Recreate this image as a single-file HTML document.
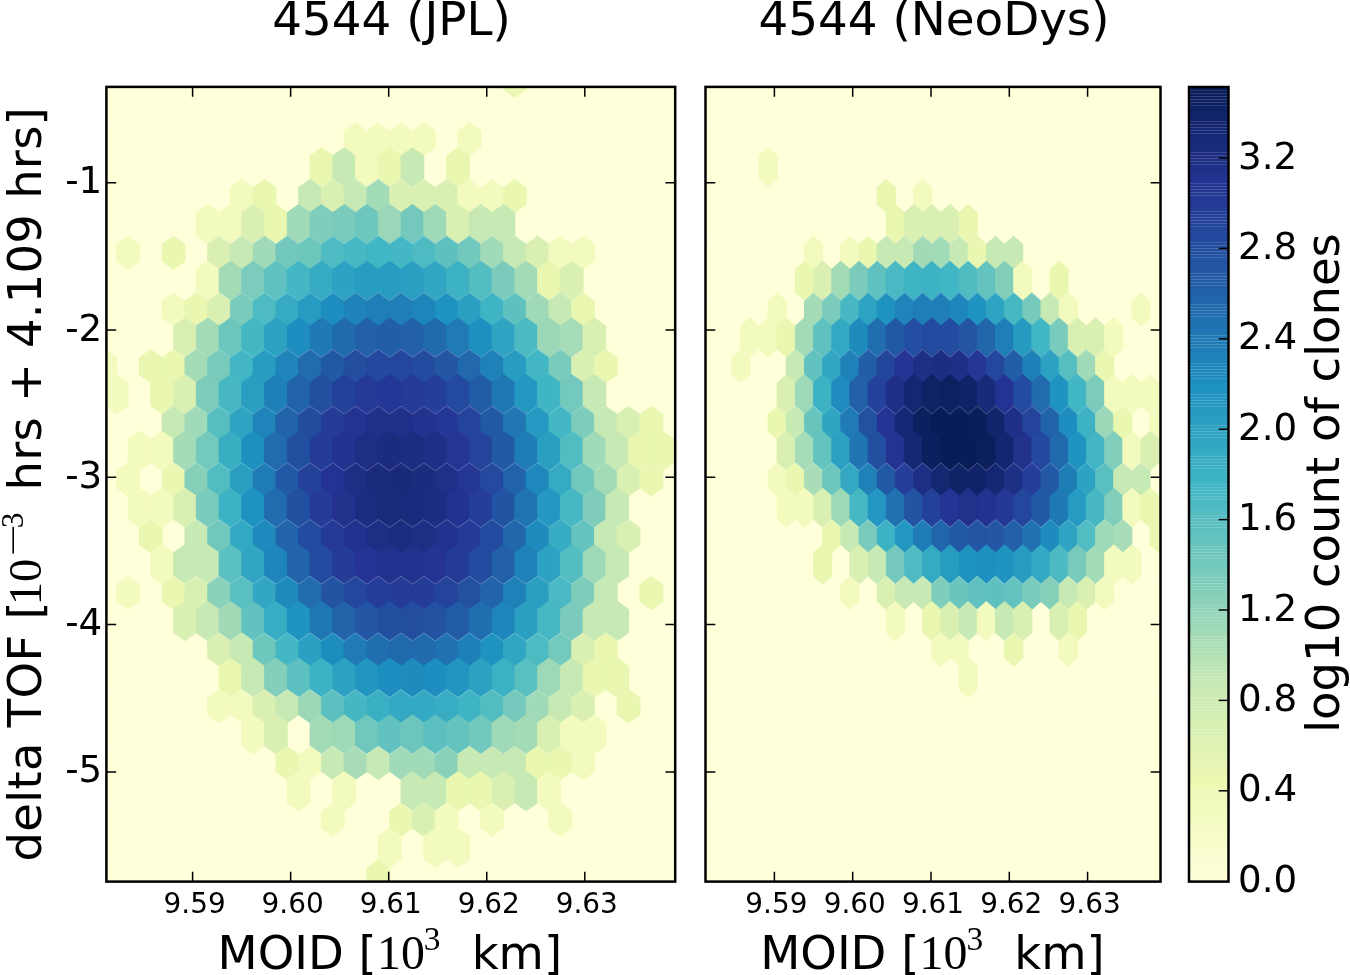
<!DOCTYPE html>
<html><head><meta charset="utf-8"><title>4544</title><style>html,body{margin:0;padding:0;background:#fff}svg{display:block}</style></head><body>
<svg width="1350" height="975" viewBox="0 0 1350 975" font-family="'DejaVu Sans','Liberation Sans',sans-serif" fill="#000">
<rect width="1350" height="975" fill="#fff"/>
<clipPath id="cL"><rect x="106.40" y="86.90" width="568.80" height="794.70"/></clipPath>
<rect x="106.40" y="86.90" width="568.80" height="794.70" fill="#ffffd9"/>
<g clip-path="url(#cL)" stroke-linejoin="round">
<defs><g id="hxL">
<path d="M514.80 64.00 L526.17 72.00 L526.17 89.20 L514.80 97.20 L503.42 89.20 L503.42 72.00Z" fill="#e9f7b1" stroke="#e9f7b1"/>
<path d="M355.55 122.60 L366.93 130.60 L366.93 147.80 L355.55 155.80 L344.18 147.80 L344.18 130.60Z" fill="#f3fabe" stroke="#f3fabe"/>
<path d="M378.30 122.60 L389.68 130.60 L389.68 147.80 L378.30 155.80 L366.93 147.80 L366.93 130.60Z" fill="#f3fabe" stroke="#f3fabe"/>
<path d="M401.05 122.60 L412.43 130.60 L412.43 147.80 L401.05 155.80 L389.68 147.80 L389.68 130.60Z" fill="#f3fabe" stroke="#f3fabe"/>
<path d="M423.80 122.60 L435.18 130.60 L435.18 147.80 L423.80 155.80 L412.43 147.80 L412.43 130.60Z" fill="#f3fabe" stroke="#f3fabe"/>
<path d="M469.30 122.60 L480.68 130.60 L480.68 147.80 L469.30 155.80 L457.93 147.80 L457.93 130.60Z" fill="#f3fabe" stroke="#f3fabe"/>
<path d="M321.43 147.80 L332.80 155.80 L332.80 179.30 L321.43 187.30 L310.05 179.30 L310.05 155.80Z" fill="#e9f7b1" stroke="#e9f7b1"/>
<path d="M344.18 147.80 L355.55 155.80 L355.55 179.30 L344.18 187.30 L332.80 179.30 L332.80 155.80Z" fill="#c7e9b4" stroke="#c7e9b4"/>
<path d="M366.93 147.80 L378.30 155.80 L378.30 179.30 L366.93 187.30 L355.55 179.30 L355.55 155.80Z" fill="#f3fabe" stroke="#f3fabe"/>
<path d="M389.68 147.80 L401.05 155.80 L401.05 179.30 L389.68 187.30 L378.30 179.30 L378.30 155.80Z" fill="#e9f7b1" stroke="#e9f7b1"/>
<path d="M412.43 147.80 L423.80 155.80 L423.80 179.30 L412.43 187.30 L401.05 179.30 L401.05 155.80Z" fill="#c7e9b4" stroke="#c7e9b4"/>
<path d="M457.93 147.80 L469.30 155.80 L469.30 179.30 L457.93 187.30 L446.55 179.30 L446.55 155.80Z" fill="#e9f7b1" stroke="#e9f7b1"/>
<path d="M241.80 179.30 L253.18 187.30 L253.18 204.50 L241.80 212.50 L230.43 204.50 L230.43 187.30Z" fill="#f3fabe" stroke="#f3fabe"/>
<path d="M264.55 179.30 L275.93 187.30 L275.93 204.50 L264.55 212.50 L253.18 204.50 L253.18 187.30Z" fill="#e9f7b1" stroke="#e9f7b1"/>
<path d="M310.05 179.30 L321.43 187.30 L321.43 204.50 L310.05 212.50 L298.68 204.50 L298.68 187.30Z" fill="#c7e9b4" stroke="#c7e9b4"/>
<path d="M332.80 179.30 L344.18 187.30 L344.18 204.50 L332.80 212.50 L321.43 204.50 L321.43 187.30Z" fill="#daf0b3" stroke="#daf0b3"/>
<path d="M355.55 179.30 L366.93 187.30 L366.93 204.50 L355.55 212.50 L344.18 204.50 L344.18 187.30Z" fill="#c7e9b4" stroke="#c7e9b4"/>
<path d="M378.30 179.30 L389.68 187.30 L389.68 204.50 L378.30 212.50 L366.93 204.50 L366.93 187.30Z" fill="#a2dbb8" stroke="#a2dbb8"/>
<path d="M401.05 179.30 L412.43 187.30 L412.43 204.50 L401.05 212.50 L389.68 204.50 L389.68 187.30Z" fill="#daf0b3" stroke="#daf0b3"/>
<path d="M423.80 179.30 L435.18 187.30 L435.18 204.50 L423.80 212.50 L412.43 204.50 L412.43 187.30Z" fill="#daf0b3" stroke="#daf0b3"/>
<path d="M446.55 179.30 L457.93 187.30 L457.93 204.50 L446.55 212.50 L435.18 204.50 L435.18 187.30Z" fill="#daf0b3" stroke="#daf0b3"/>
<path d="M469.30 179.30 L480.68 187.30 L480.68 204.50 L469.30 212.50 L457.93 204.50 L457.93 187.30Z" fill="#f3fabe" stroke="#f3fabe"/>
<path d="M492.05 179.30 L503.43 187.30 L503.43 204.50 L492.05 212.50 L480.68 204.50 L480.68 187.30Z" fill="#f3fabe" stroke="#f3fabe"/>
<path d="M514.80 179.30 L526.17 187.30 L526.17 204.50 L514.80 212.50 L503.42 204.50 L503.42 187.30Z" fill="#e9f7b1" stroke="#e9f7b1"/>
<path d="M207.68 204.50 L219.05 212.50 L219.05 236.00 L207.68 244.00 L196.30 236.00 L196.30 212.50Z" fill="#f3fabe" stroke="#f3fabe"/>
<path d="M230.43 204.50 L241.80 212.50 L241.80 236.00 L230.43 244.00 L219.05 236.00 L219.05 212.50Z" fill="#f3fabe" stroke="#f3fabe"/>
<path d="M253.18 204.50 L264.55 212.50 L264.55 236.00 L253.18 244.00 L241.80 236.00 L241.80 212.50Z" fill="#daf0b3" stroke="#daf0b3"/>
<path d="M275.93 204.50 L287.30 212.50 L287.30 236.00 L275.93 244.00 L264.55 236.00 L264.55 212.50Z" fill="#e9f7b1" stroke="#e9f7b1"/>
<path d="M298.68 204.50 L310.05 212.50 L310.05 236.00 L298.68 244.00 L287.30 236.00 L287.30 212.50Z" fill="#a0dab8" stroke="#a0dab8"/>
<path d="M321.43 204.50 L332.80 212.50 L332.80 236.00 L321.43 244.00 L310.05 236.00 L310.05 212.50Z" fill="#7fcdbb" stroke="#7fcdbb"/>
<path d="M344.18 204.50 L355.55 212.50 L355.55 236.00 L344.18 244.00 L332.80 236.00 L332.80 212.50Z" fill="#79cbbc" stroke="#79cbbc"/>
<path d="M366.93 204.50 L378.30 212.50 L378.30 236.00 L366.93 244.00 L355.55 236.00 L355.55 212.50Z" fill="#6ec7be" stroke="#6ec7be"/>
<path d="M389.68 204.50 L401.05 212.50 L401.05 236.00 L389.68 244.00 L378.30 236.00 L378.30 212.50Z" fill="#9ad7b8" stroke="#9ad7b8"/>
<path d="M412.43 204.50 L423.80 212.50 L423.80 236.00 L412.43 244.00 L401.05 236.00 L401.05 212.50Z" fill="#75c9bc" stroke="#75c9bc"/>
<path d="M435.18 204.50 L446.55 212.50 L446.55 236.00 L435.18 244.00 L423.80 236.00 L423.80 212.50Z" fill="#9ed9b8" stroke="#9ed9b8"/>
<path d="M457.93 204.50 L469.30 212.50 L469.30 236.00 L457.93 244.00 L446.55 236.00 L446.55 212.50Z" fill="#daf0b3" stroke="#daf0b3"/>
<path d="M480.68 204.50 L492.05 212.50 L492.05 236.00 L480.68 244.00 L469.30 236.00 L469.30 212.50Z" fill="#c7e9b4" stroke="#c7e9b4"/>
<path d="M503.43 204.50 L514.80 212.50 L514.80 236.00 L503.43 244.00 L492.05 236.00 L492.05 212.50Z" fill="#c7e9b4" stroke="#c7e9b4"/>
<path d="M128.05 236.00 L139.43 244.00 L139.43 261.20 L128.05 269.20 L116.68 261.20 L116.68 244.00Z" fill="#f3fabe" stroke="#f3fabe"/>
<path d="M173.55 236.00 L184.93 244.00 L184.93 261.20 L173.55 269.20 L162.18 261.20 L162.18 244.00Z" fill="#e9f7b1" stroke="#e9f7b1"/>
<path d="M219.05 236.00 L230.43 244.00 L230.43 261.20 L219.05 269.20 L207.68 261.20 L207.68 244.00Z" fill="#daf0b3" stroke="#daf0b3"/>
<path d="M241.80 236.00 L253.18 244.00 L253.18 261.20 L241.80 269.20 L230.43 261.20 L230.43 244.00Z" fill="#c7e9b4" stroke="#c7e9b4"/>
<path d="M264.55 236.00 L275.93 244.00 L275.93 261.20 L264.55 269.20 L253.18 261.20 L253.18 244.00Z" fill="#a0dab8" stroke="#a0dab8"/>
<path d="M287.30 236.00 L298.68 244.00 L298.68 261.20 L287.30 269.20 L275.93 261.20 L275.93 244.00Z" fill="#73c8bd" stroke="#73c8bd"/>
<path d="M310.05 236.00 L321.43 244.00 L321.43 261.20 L310.05 269.20 L298.68 261.20 L298.68 244.00Z" fill="#6ec7bd" stroke="#6ec7bd"/>
<path d="M332.80 236.00 L344.18 244.00 L344.18 261.20 L332.80 269.20 L321.43 261.20 L321.43 244.00Z" fill="#4fbbc2" stroke="#4fbbc2"/>
<path d="M355.55 236.00 L366.93 244.00 L366.93 261.20 L355.55 269.20 L344.18 261.20 L344.18 244.00Z" fill="#45b8c3" stroke="#45b8c3"/>
<path d="M378.30 236.00 L389.68 244.00 L389.68 261.20 L378.30 269.20 L366.93 261.20 L366.93 244.00Z" fill="#41b6c4" stroke="#41b6c4"/>
<path d="M401.05 236.00 L412.43 244.00 L412.43 261.20 L401.05 269.20 L389.68 261.20 L389.68 244.00Z" fill="#44b7c4" stroke="#44b7c4"/>
<path d="M423.80 236.00 L435.18 244.00 L435.18 261.20 L423.80 269.20 L412.43 261.20 L412.43 244.00Z" fill="#4ebbc2" stroke="#4ebbc2"/>
<path d="M446.55 236.00 L457.93 244.00 L457.93 261.20 L446.55 269.20 L435.18 261.20 L435.18 244.00Z" fill="#5ec1c0" stroke="#5ec1c0"/>
<path d="M469.30 236.00 L480.68 244.00 L480.68 261.20 L469.30 269.20 L457.93 261.20 L457.93 244.00Z" fill="#73c8bd" stroke="#73c8bd"/>
<path d="M492.05 236.00 L503.43 244.00 L503.43 261.20 L492.05 269.20 L480.68 261.20 L480.68 244.00Z" fill="#a0dab8" stroke="#a0dab8"/>
<path d="M514.80 236.00 L526.17 244.00 L526.17 261.20 L514.80 269.20 L503.42 261.20 L503.42 244.00Z" fill="#c7e9b4" stroke="#c7e9b4"/>
<path d="M537.55 236.00 L548.92 244.00 L548.92 261.20 L537.55 269.20 L526.17 261.20 L526.17 244.00Z" fill="#daf0b3" stroke="#daf0b3"/>
<path d="M560.30 236.00 L571.67 244.00 L571.67 261.20 L560.30 269.20 L548.92 261.20 L548.92 244.00Z" fill="#f3fabe" stroke="#f3fabe"/>
<path d="M583.05 236.00 L594.42 244.00 L594.42 261.20 L583.05 269.20 L571.67 261.20 L571.67 244.00Z" fill="#f3fabe" stroke="#f3fabe"/>
<path d="M207.68 261.20 L219.05 269.20 L219.05 292.70 L207.68 300.70 L196.30 292.70 L196.30 269.20Z" fill="#f3fabe" stroke="#f3fabe"/>
<path d="M230.43 261.20 L241.80 269.20 L241.80 292.70 L230.43 300.70 L219.05 292.70 L219.05 269.20Z" fill="#a4dbb7" stroke="#a4dbb7"/>
<path d="M253.18 261.20 L264.55 269.20 L264.55 292.70 L253.18 300.70 L241.80 292.70 L241.80 269.20Z" fill="#7bccbc" stroke="#7bccbc"/>
<path d="M275.93 261.20 L287.30 269.20 L287.30 292.70 L275.93 300.70 L264.55 292.70 L264.55 269.20Z" fill="#5fc1c0" stroke="#5fc1c0"/>
<path d="M298.68 261.20 L310.05 269.20 L310.05 292.70 L298.68 300.70 L287.30 292.70 L287.30 269.20Z" fill="#44b7c4" stroke="#44b7c4"/>
<path d="M321.43 261.20 L332.80 269.20 L332.80 292.70 L321.43 300.70 L310.05 292.70 L310.05 269.20Z" fill="#36abc3" stroke="#36abc3"/>
<path d="M344.18 261.20 L355.55 269.20 L355.55 292.70 L344.18 300.70 L332.80 292.70 L332.80 269.20Z" fill="#2ea2c2" stroke="#2ea2c2"/>
<path d="M366.93 261.20 L378.30 269.20 L378.30 292.70 L366.93 300.70 L355.55 292.70 L355.55 269.20Z" fill="#299dc1" stroke="#299dc1"/>
<path d="M389.68 261.20 L401.05 269.20 L401.05 292.70 L389.68 300.70 L378.30 292.70 L378.30 269.20Z" fill="#289cc1" stroke="#289cc1"/>
<path d="M412.43 261.20 L423.80 269.20 L423.80 292.70 L412.43 300.70 L401.05 292.70 L401.05 269.20Z" fill="#2b9fc2" stroke="#2b9fc2"/>
<path d="M435.18 261.20 L446.55 269.20 L446.55 292.70 L435.18 300.70 L423.80 292.70 L423.80 269.20Z" fill="#32a6c2" stroke="#32a6c2"/>
<path d="M457.93 261.20 L469.30 269.20 L469.30 292.70 L457.93 300.70 L446.55 292.70 L446.55 269.20Z" fill="#3db2c4" stroke="#3db2c4"/>
<path d="M480.68 261.20 L492.05 269.20 L492.05 292.70 L480.68 300.70 L469.30 292.70 L469.30 269.20Z" fill="#54bdc1" stroke="#54bdc1"/>
<path d="M503.43 261.20 L514.80 269.20 L514.80 292.70 L503.43 300.70 L492.05 292.70 L492.05 269.20Z" fill="#7acbbc" stroke="#7acbbc"/>
<path d="M526.17 261.20 L537.55 269.20 L537.55 292.70 L526.17 300.70 L514.80 292.70 L514.80 269.20Z" fill="#a3dbb8" stroke="#a3dbb8"/>
<path d="M548.92 261.20 L560.30 269.20 L560.30 292.70 L548.92 300.70 L537.55 292.70 L537.55 269.20Z" fill="#e9f7b1" stroke="#e9f7b1"/>
<path d="M571.67 261.20 L583.05 269.20 L583.05 292.70 L571.67 300.70 L560.30 292.70 L560.30 269.20Z" fill="#daf0b3" stroke="#daf0b3"/>
<path d="M173.55 292.70 L184.93 300.70 L184.93 317.90 L173.55 325.90 L162.18 317.90 L162.18 300.70Z" fill="#f3fabe" stroke="#f3fabe"/>
<path d="M196.30 292.70 L207.68 300.70 L207.68 317.90 L196.30 325.90 L184.93 317.90 L184.93 300.70Z" fill="#e9f7b1" stroke="#e9f7b1"/>
<path d="M219.05 292.70 L230.43 300.70 L230.43 317.90 L219.05 325.90 L207.68 317.90 L207.68 300.70Z" fill="#daf0b3" stroke="#daf0b3"/>
<path d="M241.80 292.70 L253.18 300.70 L253.18 317.90 L241.80 325.90 L230.43 317.90 L230.43 300.70Z" fill="#79cbbc" stroke="#79cbbc"/>
<path d="M264.55 292.70 L275.93 300.70 L275.93 317.90 L264.55 325.90 L253.18 317.90 L253.18 300.70Z" fill="#4ebbc2" stroke="#4ebbc2"/>
<path d="M287.30 292.70 L298.68 300.70 L298.68 317.90 L287.30 325.90 L275.93 317.90 L275.93 300.70Z" fill="#36abc3" stroke="#36abc3"/>
<path d="M310.05 292.70 L321.43 300.70 L321.43 317.90 L310.05 325.90 L298.68 317.90 L298.68 300.70Z" fill="#279bc1" stroke="#279bc1"/>
<path d="M332.80 292.70 L344.18 300.70 L344.18 317.90 L332.80 325.90 L321.43 317.90 L321.43 300.70Z" fill="#1d8ebf" stroke="#1d8ebf"/>
<path d="M355.55 292.70 L366.93 300.70 L366.93 317.90 L355.55 325.90 L344.18 317.90 L344.18 300.70Z" fill="#1e83b9" stroke="#1e83b9"/>
<path d="M378.30 292.70 L389.68 300.70 L389.68 317.90 L378.30 325.90 L366.93 317.90 L366.93 300.70Z" fill="#1f7eb7" stroke="#1f7eb7"/>
<path d="M401.05 292.70 L412.43 300.70 L412.43 317.90 L401.05 325.90 L389.68 317.90 L389.68 300.70Z" fill="#1f7eb7" stroke="#1f7eb7"/>
<path d="M423.80 292.70 L435.18 300.70 L435.18 317.90 L423.80 325.90 L412.43 317.90 L412.43 300.70Z" fill="#1e85ba" stroke="#1e85ba"/>
<path d="M446.55 292.70 L457.93 300.70 L457.93 317.90 L446.55 325.90 L435.18 317.90 L435.18 300.70Z" fill="#1e92c0" stroke="#1e92c0"/>
<path d="M469.30 292.70 L480.68 300.70 L480.68 317.90 L469.30 325.90 L457.93 317.90 L457.93 300.70Z" fill="#2b9fc2" stroke="#2b9fc2"/>
<path d="M492.05 292.70 L503.43 300.70 L503.43 317.90 L492.05 325.90 L480.68 317.90 L480.68 300.70Z" fill="#3fb4c4" stroke="#3fb4c4"/>
<path d="M514.80 292.70 L526.17 300.70 L526.17 317.90 L514.80 325.90 L503.42 317.90 L503.42 300.70Z" fill="#5ec1c0" stroke="#5ec1c0"/>
<path d="M537.55 292.70 L548.92 300.70 L548.92 317.90 L537.55 325.90 L526.17 317.90 L526.17 300.70Z" fill="#9fd9b8" stroke="#9fd9b8"/>
<path d="M560.30 292.70 L571.67 300.70 L571.67 317.90 L560.30 325.90 L548.92 317.90 L548.92 300.70Z" fill="#c7e9b4" stroke="#c7e9b4"/>
<path d="M583.05 292.70 L594.42 300.70 L594.42 317.90 L583.05 325.90 L571.67 317.90 L571.67 300.70Z" fill="#e9f7b1" stroke="#e9f7b1"/>
<path d="M184.93 317.90 L196.30 325.90 L196.30 349.40 L184.93 357.40 L173.55 349.40 L173.55 325.90Z" fill="#daf0b3" stroke="#daf0b3"/>
<path d="M207.68 317.90 L219.05 325.90 L219.05 349.40 L207.68 357.40 L196.30 349.40 L196.30 325.90Z" fill="#a3dbb8" stroke="#a3dbb8"/>
<path d="M230.43 317.90 L241.80 325.90 L241.80 349.40 L230.43 357.40 L219.05 349.40 L219.05 325.90Z" fill="#6dc6be" stroke="#6dc6be"/>
<path d="M253.18 317.90 L264.55 325.90 L264.55 349.40 L253.18 357.40 L241.80 349.40 L241.80 325.90Z" fill="#44b7c3" stroke="#44b7c3"/>
<path d="M275.93 317.90 L287.30 325.90 L287.30 349.40 L275.93 357.40 L264.55 349.40 L264.55 325.90Z" fill="#2da2c2" stroke="#2da2c2"/>
<path d="M298.68 317.90 L310.05 325.90 L310.05 349.40 L298.68 357.40 L287.30 349.40 L287.30 325.90Z" fill="#1d8ebf" stroke="#1d8ebf"/>
<path d="M321.43 317.90 L332.80 325.90 L332.80 349.40 L321.43 357.40 L310.05 349.40 L310.05 325.90Z" fill="#1f79b5" stroke="#1f79b5"/>
<path d="M344.18 317.90 L355.55 325.90 L355.55 349.40 L344.18 357.40 L332.80 349.40 L332.80 325.90Z" fill="#216aae" stroke="#216aae"/>
<path d="M366.93 317.90 L378.30 325.90 L378.30 349.40 L366.93 357.40 L355.55 349.40 L355.55 325.90Z" fill="#2261a9" stroke="#2261a9"/>
<path d="M389.68 317.90 L401.05 325.90 L401.05 349.40 L389.68 357.40 L378.30 349.40 L378.30 325.90Z" fill="#225ea8" stroke="#225ea8"/>
<path d="M412.43 317.90 L423.80 325.90 L423.80 349.40 L412.43 357.40 L401.05 349.40 L401.05 325.90Z" fill="#2261a9" stroke="#2261a9"/>
<path d="M435.18 317.90 L446.55 325.90 L446.55 349.40 L435.18 357.40 L423.80 349.40 L423.80 325.90Z" fill="#216aae" stroke="#216aae"/>
<path d="M457.93 317.90 L469.30 325.90 L469.30 349.40 L457.93 357.40 L446.55 349.40 L446.55 325.90Z" fill="#1f7ab5" stroke="#1f7ab5"/>
<path d="M480.68 317.90 L492.05 325.90 L492.05 349.40 L480.68 357.40 L469.30 349.40 L469.30 325.90Z" fill="#1d90c0" stroke="#1d90c0"/>
<path d="M503.43 317.90 L514.80 325.90 L514.80 349.40 L503.43 357.40 L492.05 349.40 L492.05 325.90Z" fill="#30a4c2" stroke="#30a4c2"/>
<path d="M526.17 317.90 L537.55 325.90 L537.55 349.40 L526.17 357.40 L514.80 349.40 L514.80 325.90Z" fill="#4cbac2" stroke="#4cbac2"/>
<path d="M548.92 317.90 L560.30 325.90 L560.30 349.40 L548.92 357.40 L537.55 349.40 L537.55 325.90Z" fill="#9cd8b8" stroke="#9cd8b8"/>
<path d="M571.67 317.90 L583.05 325.90 L583.05 349.40 L571.67 357.40 L560.30 349.40 L560.30 325.90Z" fill="#a6dcb7" stroke="#a6dcb7"/>
<path d="M594.42 317.90 L605.80 325.90 L605.80 349.40 L594.42 357.40 L583.05 349.40 L583.05 325.90Z" fill="#daf0b3" stroke="#daf0b3"/>
<path d="M105.30 349.40 L116.68 357.40 L116.68 374.60 L105.30 382.60 L93.93 374.60 L93.93 357.40Z" fill="#f3fabe" stroke="#f3fabe"/>
<path d="M150.80 349.40 L162.18 357.40 L162.18 374.60 L150.80 382.60 L139.43 374.60 L139.43 357.40Z" fill="#e9f7b1" stroke="#e9f7b1"/>
<path d="M173.55 349.40 L184.93 357.40 L184.93 374.60 L173.55 382.60 L162.18 374.60 L162.18 357.40Z" fill="#e9f7b1" stroke="#e9f7b1"/>
<path d="M196.30 349.40 L207.68 357.40 L207.68 374.60 L196.30 382.60 L184.93 374.60 L184.93 357.40Z" fill="#a4dbb7" stroke="#a4dbb7"/>
<path d="M219.05 349.40 L230.43 357.40 L230.43 374.60 L219.05 382.60 L207.68 374.60 L207.68 357.40Z" fill="#77cabc" stroke="#77cabc"/>
<path d="M241.80 349.40 L253.18 357.40 L253.18 374.60 L241.80 382.60 L230.43 374.60 L230.43 357.40Z" fill="#42b6c4" stroke="#42b6c4"/>
<path d="M264.55 349.40 L275.93 357.40 L275.93 374.60 L264.55 382.60 L253.18 374.60 L253.18 357.40Z" fill="#299dc1" stroke="#299dc1"/>
<path d="M287.30 349.40 L298.68 357.40 L298.68 374.60 L287.30 382.60 L275.93 374.60 L275.93 357.40Z" fill="#1e84ba" stroke="#1e84ba"/>
<path d="M310.05 349.40 L321.43 357.40 L321.43 374.60 L310.05 382.60 L298.68 374.60 L298.68 357.40Z" fill="#216bae" stroke="#216bae"/>
<path d="M332.80 349.40 L344.18 357.40 L344.18 374.60 L332.80 382.60 L321.43 374.60 L321.43 357.40Z" fill="#2259a5" stroke="#2259a5"/>
<path d="M355.55 349.40 L366.93 357.40 L366.93 374.60 L355.55 382.60 L344.18 374.60 L344.18 357.40Z" fill="#234ea0" stroke="#234ea0"/>
<path d="M378.30 349.40 L389.68 357.40 L389.68 374.60 L378.30 382.60 L366.93 374.60 L366.93 357.40Z" fill="#24489d" stroke="#24489d"/>
<path d="M401.05 349.40 L412.43 357.40 L412.43 374.60 L401.05 382.60 L389.68 374.60 L389.68 357.40Z" fill="#24479d" stroke="#24479d"/>
<path d="M423.80 349.40 L435.18 357.40 L435.18 374.60 L423.80 382.60 L412.43 374.60 L412.43 357.40Z" fill="#234ca0" stroke="#234ca0"/>
<path d="M446.55 349.40 L457.93 357.40 L457.93 374.60 L446.55 382.60 L435.18 374.60 L435.18 357.40Z" fill="#2357a4" stroke="#2357a4"/>
<path d="M469.30 349.40 L480.68 357.40 L480.68 374.60 L469.30 382.60 L457.93 374.60 L457.93 357.40Z" fill="#2168ad" stroke="#2168ad"/>
<path d="M492.05 349.40 L503.43 357.40 L503.43 374.60 L492.05 382.60 L480.68 374.60 L480.68 357.40Z" fill="#1f81b8" stroke="#1f81b8"/>
<path d="M514.80 349.40 L526.17 357.40 L526.17 374.60 L514.80 382.60 L503.42 374.60 L503.42 357.40Z" fill="#289cc1" stroke="#289cc1"/>
<path d="M537.55 349.40 L548.92 357.40 L548.92 374.60 L537.55 382.60 L526.17 374.60 L526.17 357.40Z" fill="#42b6c4" stroke="#42b6c4"/>
<path d="M560.30 349.40 L571.67 357.40 L571.67 374.60 L560.30 382.60 L548.92 374.60 L548.92 357.40Z" fill="#79cbbc" stroke="#79cbbc"/>
<path d="M583.05 349.40 L594.42 357.40 L594.42 374.60 L583.05 382.60 L571.67 374.60 L571.67 357.40Z" fill="#daf0b3" stroke="#daf0b3"/>
<path d="M605.80 349.40 L617.17 357.40 L617.17 374.60 L605.80 382.60 L594.42 374.60 L594.42 357.40Z" fill="#e9f7b1" stroke="#e9f7b1"/>
<path d="M116.68 374.60 L128.05 382.60 L128.05 406.10 L116.68 414.10 L105.30 406.10 L105.30 382.60Z" fill="#f3fabe" stroke="#f3fabe"/>
<path d="M162.18 374.60 L173.55 382.60 L173.55 406.10 L162.18 414.10 L150.80 406.10 L150.80 382.60Z" fill="#e9f7b1" stroke="#e9f7b1"/>
<path d="M184.93 374.60 L196.30 382.60 L196.30 406.10 L184.93 414.10 L173.55 406.10 L173.55 382.60Z" fill="#daf0b3" stroke="#daf0b3"/>
<path d="M207.68 374.60 L219.05 382.60 L219.05 406.10 L207.68 414.10 L196.30 406.10 L196.30 382.60Z" fill="#7dccbb" stroke="#7dccbb"/>
<path d="M230.43 374.60 L241.80 382.60 L241.80 406.10 L230.43 414.10 L219.05 406.10 L219.05 382.60Z" fill="#47b8c3" stroke="#47b8c3"/>
<path d="M253.18 374.60 L264.55 382.60 L264.55 406.10 L253.18 414.10 L241.80 406.10 L241.80 382.60Z" fill="#299ec1" stroke="#299ec1"/>
<path d="M275.93 374.60 L287.30 382.60 L287.30 406.10 L275.93 414.10 L264.55 406.10 L264.55 382.60Z" fill="#1f80b8" stroke="#1f80b8"/>
<path d="M298.68 374.60 L310.05 382.60 L310.05 406.10 L298.68 414.10 L287.30 406.10 L287.30 382.60Z" fill="#2163ab" stroke="#2163ab"/>
<path d="M321.43 374.60 L332.80 382.60 L332.80 406.10 L321.43 414.10 L310.05 406.10 L310.05 382.60Z" fill="#234fa1" stroke="#234fa1"/>
<path d="M344.18 374.60 L355.55 382.60 L355.55 406.10 L344.18 414.10 L332.80 406.10 L332.80 382.60Z" fill="#24419a" stroke="#24419a"/>
<path d="M366.93 374.60 L378.30 382.60 L378.30 406.10 L366.93 414.10 L355.55 406.10 L355.55 382.60Z" fill="#253a97" stroke="#253a97"/>
<path d="M389.68 374.60 L401.05 382.60 L401.05 406.10 L389.68 414.10 L378.30 406.10 L378.30 382.60Z" fill="#253796" stroke="#253796"/>
<path d="M412.43 374.60 L423.80 382.60 L423.80 406.10 L412.43 414.10 L401.05 406.10 L401.05 382.60Z" fill="#253996" stroke="#253996"/>
<path d="M435.18 374.60 L446.55 382.60 L446.55 406.10 L435.18 414.10 L423.80 406.10 L423.80 382.60Z" fill="#243e99" stroke="#243e99"/>
<path d="M457.93 374.60 L469.30 382.60 L469.30 406.10 L457.93 414.10 L446.55 406.10 L446.55 382.60Z" fill="#234a9f" stroke="#234a9f"/>
<path d="M480.68 374.60 L492.05 382.60 L492.05 406.10 L480.68 414.10 L469.30 406.10 L469.30 382.60Z" fill="#225ca7" stroke="#225ca7"/>
<path d="M503.43 374.60 L514.80 382.60 L514.80 406.10 L503.43 414.10 L492.05 406.10 L492.05 382.60Z" fill="#1f78b4" stroke="#1f78b4"/>
<path d="M526.17 374.60 L537.55 382.60 L537.55 406.10 L526.17 414.10 L514.80 406.10 L514.80 382.60Z" fill="#2498c1" stroke="#2498c1"/>
<path d="M548.92 374.60 L560.30 382.60 L560.30 406.10 L548.92 414.10 L537.55 406.10 L537.55 382.60Z" fill="#40b5c4" stroke="#40b5c4"/>
<path d="M571.67 374.60 L583.05 382.60 L583.05 406.10 L571.67 414.10 L560.30 406.10 L560.30 382.60Z" fill="#73c9bd" stroke="#73c9bd"/>
<path d="M594.42 374.60 L605.80 382.60 L605.80 406.10 L594.42 414.10 L583.05 406.10 L583.05 382.60Z" fill="#c7e9b4" stroke="#c7e9b4"/>
<path d="M173.55 406.10 L184.93 414.10 L184.93 431.30 L173.55 439.30 L162.18 431.30 L162.18 414.10Z" fill="#c7e9b4" stroke="#c7e9b4"/>
<path d="M196.30 406.10 L207.68 414.10 L207.68 431.30 L196.30 439.30 L184.93 431.30 L184.93 414.10Z" fill="#a0dab8" stroke="#a0dab8"/>
<path d="M219.05 406.10 L230.43 414.10 L230.43 431.30 L219.05 439.30 L207.68 431.30 L207.68 414.10Z" fill="#56bec1" stroke="#56bec1"/>
<path d="M241.80 406.10 L253.18 414.10 L253.18 431.30 L241.80 439.30 L230.43 431.30 L230.43 414.10Z" fill="#2fa3c2" stroke="#2fa3c2"/>
<path d="M264.55 406.10 L275.93 414.10 L275.93 431.30 L264.55 439.30 L253.18 431.30 L253.18 414.10Z" fill="#1e84ba" stroke="#1e84ba"/>
<path d="M287.30 406.10 L298.68 414.10 L298.68 431.30 L287.30 439.30 L275.93 431.30 L275.93 414.10Z" fill="#2163ab" stroke="#2163ab"/>
<path d="M310.05 406.10 L321.43 414.10 L321.43 431.30 L310.05 439.30 L298.68 431.30 L298.68 414.10Z" fill="#234c9f" stroke="#234c9f"/>
<path d="M332.80 406.10 L344.18 414.10 L344.18 431.30 L332.80 439.30 L321.43 431.30 L321.43 414.10Z" fill="#243c98" stroke="#243c98"/>
<path d="M355.55 406.10 L366.93 414.10 L366.93 431.30 L355.55 439.30 L344.18 431.30 L344.18 414.10Z" fill="#243392" stroke="#243392"/>
<path d="M378.30 406.10 L389.68 414.10 L389.68 431.30 L378.30 439.30 L366.93 431.30 L366.93 414.10Z" fill="#21318b" stroke="#21318b"/>
<path d="M401.05 406.10 L412.43 414.10 L412.43 431.30 L401.05 439.30 L389.68 431.30 L389.68 414.10Z" fill="#20308a" stroke="#20308a"/>
<path d="M423.80 406.10 L435.18 414.10 L435.18 431.30 L423.80 439.30 L412.43 431.30 L412.43 414.10Z" fill="#22328e" stroke="#22328e"/>
<path d="M446.55 406.10 L457.93 414.10 L457.93 431.30 L446.55 439.30 L435.18 431.30 L435.18 414.10Z" fill="#253796" stroke="#253796"/>
<path d="M469.30 406.10 L480.68 414.10 L480.68 431.30 L469.30 439.30 L457.93 431.30 L457.93 414.10Z" fill="#24449b" stroke="#24449b"/>
<path d="M492.05 406.10 L503.43 414.10 L503.43 431.30 L492.05 439.30 L480.68 431.30 L480.68 414.10Z" fill="#2259a5" stroke="#2259a5"/>
<path d="M514.80 406.10 L526.17 414.10 L526.17 431.30 L514.80 439.30 L503.42 431.30 L503.42 414.10Z" fill="#2077b4" stroke="#2077b4"/>
<path d="M537.55 406.10 L548.92 414.10 L548.92 431.30 L537.55 439.30 L526.17 431.30 L526.17 414.10Z" fill="#2599c1" stroke="#2599c1"/>
<path d="M560.30 406.10 L571.67 414.10 L571.67 431.30 L560.30 439.30 L548.92 431.30 L548.92 414.10Z" fill="#44b7c4" stroke="#44b7c4"/>
<path d="M583.05 406.10 L594.42 414.10 L594.42 431.30 L583.05 439.30 L571.67 431.30 L571.67 414.10Z" fill="#7ecdbb" stroke="#7ecdbb"/>
<path d="M605.80 406.10 L617.17 414.10 L617.17 431.30 L605.80 439.30 L594.42 431.30 L594.42 414.10Z" fill="#c7e9b4" stroke="#c7e9b4"/>
<path d="M628.55 406.10 L639.92 414.10 L639.92 431.30 L628.55 439.30 L617.17 431.30 L617.17 414.10Z" fill="#daf0b3" stroke="#daf0b3"/>
<path d="M651.30 406.10 L662.67 414.10 L662.67 431.30 L651.30 439.30 L639.92 431.30 L639.92 414.10Z" fill="#e9f7b1" stroke="#e9f7b1"/>
<path d="M139.43 431.30 L150.80 439.30 L150.80 462.80 L139.43 470.80 L128.05 462.80 L128.05 439.30Z" fill="#f3fabe" stroke="#f3fabe"/>
<path d="M162.18 431.30 L173.55 439.30 L173.55 462.80 L162.18 470.80 L150.80 462.80 L150.80 439.30Z" fill="#f3fabe" stroke="#f3fabe"/>
<path d="M184.93 431.30 L196.30 439.30 L196.30 462.80 L184.93 470.80 L173.55 462.80 L173.55 439.30Z" fill="#a5dcb7" stroke="#a5dcb7"/>
<path d="M207.68 431.30 L219.05 439.30 L219.05 462.80 L207.68 470.80 L196.30 462.80 L196.30 439.30Z" fill="#74c9bd" stroke="#74c9bd"/>
<path d="M230.43 431.30 L241.80 439.30 L241.80 462.80 L230.43 470.80 L219.05 462.80 L219.05 439.30Z" fill="#39aec3" stroke="#39aec3"/>
<path d="M253.18 431.30 L264.55 439.30 L264.55 462.80 L253.18 470.80 L241.80 462.80 L241.80 439.30Z" fill="#1d90bf" stroke="#1d90bf"/>
<path d="M275.93 431.30 L287.30 439.30 L287.30 462.80 L275.93 470.80 L264.55 462.80 L264.55 439.30Z" fill="#216bae" stroke="#216bae"/>
<path d="M298.68 431.30 L310.05 439.30 L310.05 462.80 L298.68 470.80 L287.30 462.80 L287.30 439.30Z" fill="#234fa1" stroke="#234fa1"/>
<path d="M321.43 431.30 L332.80 439.30 L332.80 462.80 L321.43 470.80 L310.05 462.80 L310.05 439.30Z" fill="#243c98" stroke="#243c98"/>
<path d="M344.18 431.30 L355.55 439.30 L355.55 462.80 L344.18 470.80 L332.80 462.80 L332.80 439.30Z" fill="#22328f" stroke="#22328f"/>
<path d="M366.93 431.30 L378.30 439.30 L378.30 462.80 L366.93 470.80 L355.55 462.80 L355.55 439.30Z" fill="#1d2e84" stroke="#1d2e84"/>
<path d="M389.68 431.30 L401.05 439.30 L401.05 462.80 L389.68 470.80 L378.30 462.80 L378.30 439.30Z" fill="#1b2c7f" stroke="#1b2c7f"/>
<path d="M412.43 431.30 L423.80 439.30 L423.80 462.80 L412.43 470.80 L401.05 462.80 L401.05 439.30Z" fill="#1c2d81" stroke="#1c2d81"/>
<path d="M435.18 431.30 L446.55 439.30 L446.55 462.80 L435.18 470.80 L423.80 462.80 L423.80 439.30Z" fill="#1f2f88" stroke="#1f2f88"/>
<path d="M457.93 431.30 L469.30 439.30 L469.30 462.80 L457.93 470.80 L446.55 462.80 L446.55 439.30Z" fill="#253594" stroke="#253594"/>
<path d="M480.68 431.30 L492.05 439.30 L492.05 462.80 L480.68 470.80 L469.30 462.80 L469.30 439.30Z" fill="#24439b" stroke="#24439b"/>
<path d="M503.43 431.30 L514.80 439.30 L514.80 462.80 L503.43 470.80 L492.05 462.80 L492.05 439.30Z" fill="#225aa6" stroke="#225aa6"/>
<path d="M526.17 431.30 L537.55 439.30 L537.55 462.80 L526.17 470.80 L514.80 462.80 L514.80 439.30Z" fill="#1f7cb6" stroke="#1f7cb6"/>
<path d="M548.92 431.30 L560.30 439.30 L560.30 462.80 L548.92 470.80 L537.55 462.80 L537.55 439.30Z" fill="#2a9fc1" stroke="#2a9fc1"/>
<path d="M571.67 431.30 L583.05 439.30 L583.05 462.80 L571.67 470.80 L560.30 462.80 L560.30 439.30Z" fill="#51bcc2" stroke="#51bcc2"/>
<path d="M594.42 431.30 L605.80 439.30 L605.80 462.80 L594.42 470.80 L583.05 462.80 L583.05 439.30Z" fill="#a0dab8" stroke="#a0dab8"/>
<path d="M617.17 431.30 L628.55 439.30 L628.55 462.80 L617.17 470.80 L605.80 462.80 L605.80 439.30Z" fill="#c7e9b4" stroke="#c7e9b4"/>
<path d="M639.92 431.30 L651.30 439.30 L651.30 462.80 L639.92 470.80 L628.55 462.80 L628.55 439.30Z" fill="#e9f7b1" stroke="#e9f7b1"/>
<path d="M662.67 431.30 L674.05 439.30 L674.05 462.80 L662.67 470.80 L651.30 462.80 L651.30 439.30Z" fill="#e9f7b1" stroke="#e9f7b1"/>
<path d="M128.05 462.80 L139.43 470.80 L139.43 488.00 L128.05 496.00 L116.68 488.00 L116.68 470.80Z" fill="#f3fabe" stroke="#f3fabe"/>
<path d="M173.55 462.80 L184.93 470.80 L184.93 488.00 L173.55 496.00 L162.18 488.00 L162.18 470.80Z" fill="#e9f7b1" stroke="#e9f7b1"/>
<path d="M196.30 462.80 L207.68 470.80 L207.68 488.00 L196.30 496.00 L184.93 488.00 L184.93 470.80Z" fill="#86d0ba" stroke="#86d0ba"/>
<path d="M219.05 462.80 L230.43 470.80 L230.43 488.00 L219.05 496.00 L207.68 488.00 L207.68 470.80Z" fill="#51bcc2" stroke="#51bcc2"/>
<path d="M241.80 462.80 L253.18 470.80 L253.18 488.00 L241.80 496.00 L230.43 488.00 L230.43 470.80Z" fill="#2a9ec1" stroke="#2a9ec1"/>
<path d="M264.55 462.80 L275.93 470.80 L275.93 488.00 L264.55 496.00 L253.18 488.00 L253.18 470.80Z" fill="#1f7bb6" stroke="#1f7bb6"/>
<path d="M287.30 462.80 L298.68 470.80 L298.68 488.00 L287.30 496.00 L275.93 488.00 L275.93 470.80Z" fill="#2259a6" stroke="#2259a6"/>
<path d="M310.05 462.80 L321.43 470.80 L321.43 488.00 L310.05 496.00 L298.68 488.00 L298.68 470.80Z" fill="#24419a" stroke="#24419a"/>
<path d="M332.80 462.80 L344.18 470.80 L344.18 488.00 L332.80 496.00 L321.43 488.00 L321.43 470.80Z" fill="#243393" stroke="#243393"/>
<path d="M355.55 462.80 L366.93 470.80 L366.93 488.00 L355.55 496.00 L344.18 488.00 L344.18 470.80Z" fill="#1e2e85" stroke="#1e2e85"/>
<path d="M378.30 462.80 L389.68 470.80 L389.68 488.00 L378.30 496.00 L366.93 488.00 L366.93 470.80Z" fill="#1a2b7c" stroke="#1a2b7c"/>
<path d="M401.05 462.80 L412.43 470.80 L412.43 488.00 L401.05 496.00 L389.68 488.00 L389.68 470.80Z" fill="#192a7a" stroke="#192a7a"/>
<path d="M423.80 462.80 L435.18 470.80 L435.18 488.00 L423.80 496.00 L412.43 488.00 L412.43 470.80Z" fill="#1b2c7e" stroke="#1b2c7e"/>
<path d="M446.55 462.80 L457.93 470.80 L457.93 488.00 L446.55 496.00 L435.18 488.00 L435.18 470.80Z" fill="#1f3088" stroke="#1f3088"/>
<path d="M469.30 462.80 L480.68 470.80 L480.68 488.00 L469.30 496.00 L457.93 488.00 L457.93 470.80Z" fill="#253795" stroke="#253795"/>
<path d="M492.05 462.80 L503.43 470.80 L503.43 488.00 L492.05 496.00 L480.68 488.00 L480.68 470.80Z" fill="#24499e" stroke="#24499e"/>
<path d="M514.80 462.80 L526.17 470.80 L526.17 488.00 L514.80 496.00 L503.42 488.00 L503.42 470.80Z" fill="#2163aa" stroke="#2163aa"/>
<path d="M537.55 462.80 L548.92 470.80 L548.92 488.00 L537.55 496.00 L526.17 488.00 L526.17 470.80Z" fill="#1e88bc" stroke="#1e88bc"/>
<path d="M560.30 462.80 L571.67 470.80 L571.67 488.00 L560.30 496.00 L548.92 488.00 L548.92 470.80Z" fill="#35aac3" stroke="#35aac3"/>
<path d="M583.05 462.80 L594.42 470.80 L594.42 488.00 L583.05 496.00 L571.67 488.00 L571.67 470.80Z" fill="#71c8bd" stroke="#71c8bd"/>
<path d="M605.80 462.80 L617.17 470.80 L617.17 488.00 L605.80 496.00 L594.42 488.00 L594.42 470.80Z" fill="#a4dbb7" stroke="#a4dbb7"/>
<path d="M628.55 462.80 L639.92 470.80 L639.92 488.00 L628.55 496.00 L617.17 488.00 L617.17 470.80Z" fill="#daf0b3" stroke="#daf0b3"/>
<path d="M651.30 462.80 L662.67 470.80 L662.67 488.00 L651.30 496.00 L639.92 488.00 L639.92 470.80Z" fill="#e9f7b1" stroke="#e9f7b1"/>
<path d="M139.43 488.00 L150.80 496.00 L150.80 519.50 L139.43 527.50 L128.05 519.50 L128.05 496.00Z" fill="#f3fabe" stroke="#f3fabe"/>
<path d="M162.18 488.00 L173.55 496.00 L173.55 519.50 L162.18 527.50 L150.80 519.50 L150.80 496.00Z" fill="#f3fabe" stroke="#f3fabe"/>
<path d="M184.93 488.00 L196.30 496.00 L196.30 519.50 L184.93 527.50 L173.55 519.50 L173.55 496.00Z" fill="#daf0b3" stroke="#daf0b3"/>
<path d="M207.68 488.00 L219.05 496.00 L219.05 519.50 L207.68 527.50 L196.30 519.50 L196.30 496.00Z" fill="#79cbbc" stroke="#79cbbc"/>
<path d="M230.43 488.00 L241.80 496.00 L241.80 519.50 L230.43 527.50 L219.05 519.50 L219.05 496.00Z" fill="#3db2c4" stroke="#3db2c4"/>
<path d="M253.18 488.00 L264.55 496.00 L264.55 519.50 L253.18 527.50 L241.80 519.50 L241.80 496.00Z" fill="#1e92c0" stroke="#1e92c0"/>
<path d="M275.93 488.00 L287.30 496.00 L287.30 519.50 L275.93 527.50 L264.55 519.50 L264.55 496.00Z" fill="#216caf" stroke="#216caf"/>
<path d="M298.68 488.00 L310.05 496.00 L310.05 519.50 L298.68 527.50 L287.30 519.50 L287.30 496.00Z" fill="#234fa1" stroke="#234fa1"/>
<path d="M321.43 488.00 L332.80 496.00 L332.80 519.50 L321.43 527.50 L310.05 519.50 L310.05 496.00Z" fill="#253b97" stroke="#253b97"/>
<path d="M344.18 488.00 L355.55 496.00 L355.55 519.50 L344.18 527.50 L332.80 519.50 L332.80 496.00Z" fill="#21318c" stroke="#21318c"/>
<path d="M366.93 488.00 L378.30 496.00 L378.30 519.50 L366.93 527.50 L355.55 519.50 L355.55 496.00Z" fill="#1c2d81" stroke="#1c2d81"/>
<path d="M389.68 488.00 L401.05 496.00 L401.05 519.50 L389.68 527.50 L378.30 519.50 L378.30 496.00Z" fill="#192b7b" stroke="#192b7b"/>
<path d="M412.43 488.00 L423.80 496.00 L423.80 519.50 L412.43 527.50 L401.05 519.50 L401.05 496.00Z" fill="#192b7c" stroke="#192b7c"/>
<path d="M435.18 488.00 L446.55 496.00 L446.55 519.50 L435.18 527.50 L423.80 519.50 L423.80 496.00Z" fill="#1d2d83" stroke="#1d2d83"/>
<path d="M457.93 488.00 L469.30 496.00 L469.30 519.50 L457.93 527.50 L446.55 519.50 L446.55 496.00Z" fill="#233290" stroke="#233290"/>
<path d="M480.68 488.00 L492.05 496.00 L492.05 519.50 L480.68 527.50 L469.30 519.50 L469.30 496.00Z" fill="#243e99" stroke="#243e99"/>
<path d="M503.43 488.00 L514.80 496.00 L514.80 519.50 L503.43 527.50 L492.05 519.50 L492.05 496.00Z" fill="#2354a3" stroke="#2354a3"/>
<path d="M526.17 488.00 L537.55 496.00 L537.55 519.50 L526.17 527.50 L514.80 519.50 L514.80 496.00Z" fill="#2074b2" stroke="#2074b2"/>
<path d="M548.92 488.00 L560.30 496.00 L560.30 519.50 L548.92 527.50 L537.55 519.50 L537.55 496.00Z" fill="#2498c1" stroke="#2498c1"/>
<path d="M571.67 488.00 L583.05 496.00 L583.05 519.50 L571.67 527.50 L560.30 519.50 L560.30 496.00Z" fill="#46b8c3" stroke="#46b8c3"/>
<path d="M594.42 488.00 L605.80 496.00 L605.80 519.50 L594.42 527.50 L583.05 519.50 L583.05 496.00Z" fill="#80cdbb" stroke="#80cdbb"/>
<path d="M617.17 488.00 L628.55 496.00 L628.55 519.50 L617.17 527.50 L605.80 519.50 L605.80 496.00Z" fill="#c7e9b4" stroke="#c7e9b4"/>
<path d="M150.80 519.50 L162.18 527.50 L162.18 544.70 L150.80 552.70 L139.43 544.70 L139.43 527.50Z" fill="#e9f7b1" stroke="#e9f7b1"/>
<path d="M196.30 519.50 L207.68 527.50 L207.68 544.70 L196.30 552.70 L184.93 544.70 L184.93 527.50Z" fill="#c7e9b4" stroke="#c7e9b4"/>
<path d="M219.05 519.50 L230.43 527.50 L230.43 544.70 L219.05 552.70 L207.68 544.70 L207.68 527.50Z" fill="#70c8bd" stroke="#70c8bd"/>
<path d="M241.80 519.50 L253.18 527.50 L253.18 544.70 L241.80 552.70 L230.43 544.70 L230.43 527.50Z" fill="#34a9c3" stroke="#34a9c3"/>
<path d="M264.55 519.50 L275.93 527.50 L275.93 544.70 L264.55 552.70 L253.18 544.70 L253.18 527.50Z" fill="#1e89bc" stroke="#1e89bc"/>
<path d="M287.30 519.50 L298.68 527.50 L298.68 544.70 L287.30 552.70 L275.93 544.70 L275.93 527.50Z" fill="#2164ab" stroke="#2164ab"/>
<path d="M310.05 519.50 L321.43 527.50 L321.43 544.70 L310.05 552.70 L298.68 544.70 L298.68 527.50Z" fill="#234b9f" stroke="#234b9f"/>
<path d="M332.80 519.50 L344.18 527.50 L344.18 544.70 L332.80 552.70 L321.43 544.70 L321.43 527.50Z" fill="#253997" stroke="#253997"/>
<path d="M355.55 519.50 L366.93 527.50 L366.93 544.70 L355.55 552.70 L344.18 544.70 L344.18 527.50Z" fill="#21318d" stroke="#21318d"/>
<path d="M378.30 519.50 L389.68 527.50 L389.68 544.70 L378.30 552.70 L366.93 544.70 L366.93 527.50Z" fill="#1d2e84" stroke="#1d2e84"/>
<path d="M401.05 519.50 L412.43 527.50 L412.43 544.70 L401.05 552.70 L389.68 544.70 L389.68 527.50Z" fill="#1c2d81" stroke="#1c2d81"/>
<path d="M423.80 519.50 L435.18 527.50 L435.18 544.70 L423.80 552.70 L412.43 544.70 L412.43 527.50Z" fill="#1d2e84" stroke="#1d2e84"/>
<path d="M446.55 519.50 L457.93 527.50 L457.93 544.70 L446.55 552.70 L435.18 544.70 L435.18 527.50Z" fill="#22328e" stroke="#22328e"/>
<path d="M469.30 519.50 L480.68 527.50 L480.68 544.70 L469.30 552.70 L457.93 544.70 L457.93 527.50Z" fill="#253a97" stroke="#253a97"/>
<path d="M492.05 519.50 L503.43 527.50 L503.43 544.70 L492.05 552.70 L480.68 544.70 L480.68 527.50Z" fill="#234ca0" stroke="#234ca0"/>
<path d="M514.80 519.50 L526.17 527.50 L526.17 544.70 L514.80 552.70 L503.42 544.70 L503.42 527.50Z" fill="#2167ac" stroke="#2167ac"/>
<path d="M537.55 519.50 L548.92 527.50 L548.92 544.70 L537.55 552.70 L526.17 544.70 L526.17 527.50Z" fill="#1e8bbd" stroke="#1e8bbd"/>
<path d="M560.30 519.50 L571.67 527.50 L571.67 544.70 L560.30 552.70 L548.92 544.70 L548.92 527.50Z" fill="#36abc3" stroke="#36abc3"/>
<path d="M583.05 519.50 L594.42 527.50 L594.42 544.70 L583.05 552.70 L571.67 544.70 L571.67 527.50Z" fill="#65c3bf" stroke="#65c3bf"/>
<path d="M605.80 519.50 L617.17 527.50 L617.17 544.70 L605.80 552.70 L594.42 544.70 L594.42 527.50Z" fill="#c7e9b4" stroke="#c7e9b4"/>
<path d="M628.55 519.50 L639.92 527.50 L639.92 544.70 L628.55 552.70 L617.17 544.70 L617.17 527.50Z" fill="#daf0b3" stroke="#daf0b3"/>
<path d="M162.18 544.70 L173.55 552.70 L173.55 576.20 L162.18 584.20 L150.80 576.20 L150.80 552.70Z" fill="#f3fabe" stroke="#f3fabe"/>
<path d="M184.93 544.70 L196.30 552.70 L196.30 576.20 L184.93 584.20 L173.55 576.20 L173.55 552.70Z" fill="#c7e9b4" stroke="#c7e9b4"/>
<path d="M207.68 544.70 L219.05 552.70 L219.05 576.20 L207.68 584.20 L196.30 576.20 L196.30 552.70Z" fill="#c7e9b4" stroke="#c7e9b4"/>
<path d="M230.43 544.70 L241.80 552.70 L241.80 576.20 L230.43 584.20 L219.05 576.20 L219.05 552.70Z" fill="#5bc0c0" stroke="#5bc0c0"/>
<path d="M253.18 544.70 L264.55 552.70 L264.55 576.20 L253.18 584.20 L241.80 576.20 L241.80 552.70Z" fill="#31a5c2" stroke="#31a5c2"/>
<path d="M275.93 544.70 L287.30 552.70 L287.30 576.20 L275.93 584.20 L264.55 576.20 L264.55 552.70Z" fill="#1e85bb" stroke="#1e85bb"/>
<path d="M298.68 544.70 L310.05 552.70 L310.05 576.20 L298.68 584.20 L287.30 576.20 L287.30 552.70Z" fill="#2164ab" stroke="#2164ab"/>
<path d="M321.43 544.70 L332.80 552.70 L332.80 576.20 L321.43 584.20 L310.05 576.20 L310.05 552.70Z" fill="#234ca0" stroke="#234ca0"/>
<path d="M344.18 544.70 L355.55 552.70 L355.55 576.20 L344.18 584.20 L332.80 576.20 L332.80 552.70Z" fill="#243c98" stroke="#243c98"/>
<path d="M366.93 544.70 L378.30 552.70 L378.30 576.20 L366.93 584.20 L355.55 576.20 L355.55 552.70Z" fill="#253494" stroke="#253494"/>
<path d="M389.68 544.70 L401.05 552.70 L401.05 576.20 L389.68 584.20 L378.30 576.20 L378.30 552.70Z" fill="#22328e" stroke="#22328e"/>
<path d="M412.43 544.70 L423.80 552.70 L423.80 576.20 L412.43 584.20 L401.05 576.20 L401.05 552.70Z" fill="#22318d" stroke="#22318d"/>
<path d="M435.18 544.70 L446.55 552.70 L446.55 576.20 L435.18 584.20 L423.80 576.20 L423.80 552.70Z" fill="#253493" stroke="#253493"/>
<path d="M457.93 544.70 L469.30 552.70 L469.30 576.20 L457.93 584.20 L446.55 576.20 L446.55 552.70Z" fill="#243c98" stroke="#243c98"/>
<path d="M480.68 544.70 L492.05 552.70 L492.05 576.20 L480.68 584.20 L469.30 576.20 L469.30 552.70Z" fill="#234b9f" stroke="#234b9f"/>
<path d="M503.43 544.70 L514.80 552.70 L514.80 576.20 L503.43 584.20 L492.05 576.20 L492.05 552.70Z" fill="#2261aa" stroke="#2261aa"/>
<path d="M526.17 544.70 L537.55 552.70 L537.55 576.20 L526.17 584.20 L514.80 576.20 L514.80 552.70Z" fill="#1e82b9" stroke="#1e82b9"/>
<path d="M548.92 544.70 L560.30 552.70 L560.30 576.20 L548.92 584.20 L537.55 576.20 L537.55 552.70Z" fill="#2da2c2" stroke="#2da2c2"/>
<path d="M571.67 544.70 L583.05 552.70 L583.05 576.20 L571.67 584.20 L560.30 576.20 L560.30 552.70Z" fill="#53bdc1" stroke="#53bdc1"/>
<path d="M594.42 544.70 L605.80 552.70 L605.80 576.20 L594.42 584.20 L583.05 576.20 L583.05 552.70Z" fill="#9fdab8" stroke="#9fdab8"/>
<path d="M617.17 544.70 L628.55 552.70 L628.55 576.20 L617.17 584.20 L605.80 576.20 L605.80 552.70Z" fill="#c7e9b4" stroke="#c7e9b4"/>
<path d="M128.05 576.20 L139.43 584.20 L139.43 601.40 L128.05 609.40 L116.68 601.40 L116.68 584.20Z" fill="#f3fabe" stroke="#f3fabe"/>
<path d="M173.55 576.20 L184.93 584.20 L184.93 601.40 L173.55 609.40 L162.18 601.40 L162.18 584.20Z" fill="#e9f7b1" stroke="#e9f7b1"/>
<path d="M196.30 576.20 L207.68 584.20 L207.68 601.40 L196.30 609.40 L184.93 601.40 L184.93 584.20Z" fill="#daf0b3" stroke="#daf0b3"/>
<path d="M219.05 576.20 L230.43 584.20 L230.43 601.40 L219.05 609.40 L207.68 601.40 L207.68 584.20Z" fill="#8bd2ba" stroke="#8bd2ba"/>
<path d="M241.80 576.20 L253.18 584.20 L253.18 601.40 L241.80 609.40 L230.43 601.40 L230.43 584.20Z" fill="#5abfc0" stroke="#5abfc0"/>
<path d="M264.55 576.20 L275.93 584.20 L275.93 601.40 L264.55 609.40 L253.18 601.40 L253.18 584.20Z" fill="#32a6c2" stroke="#32a6c2"/>
<path d="M287.30 576.20 L298.68 584.20 L298.68 601.40 L287.30 609.40 L275.93 601.40 L275.93 584.20Z" fill="#1e8abc" stroke="#1e8abc"/>
<path d="M310.05 576.20 L321.43 584.20 L321.43 601.40 L310.05 609.40 L298.68 601.40 L298.68 584.20Z" fill="#216bae" stroke="#216bae"/>
<path d="M332.80 576.20 L344.18 584.20 L344.18 601.40 L332.80 609.40 L321.43 601.40 L321.43 584.20Z" fill="#2354a3" stroke="#2354a3"/>
<path d="M355.55 576.20 L366.93 584.20 L366.93 601.40 L355.55 609.40 L344.18 601.40 L344.18 584.20Z" fill="#24469c" stroke="#24469c"/>
<path d="M378.30 576.20 L389.68 584.20 L389.68 601.40 L378.30 609.40 L366.93 601.40 L366.93 584.20Z" fill="#243d98" stroke="#243d98"/>
<path d="M401.05 576.20 L412.43 584.20 L412.43 601.40 L401.05 609.40 L389.68 601.40 L389.68 584.20Z" fill="#253b97" stroke="#253b97"/>
<path d="M423.80 576.20 L435.18 584.20 L435.18 601.40 L423.80 609.40 L412.43 601.40 L412.43 584.20Z" fill="#243c98" stroke="#243c98"/>
<path d="M446.55 576.20 L457.93 584.20 L457.93 601.40 L446.55 609.40 L435.18 601.40 L435.18 584.20Z" fill="#24439b" stroke="#24439b"/>
<path d="M469.30 576.20 L480.68 584.20 L480.68 601.40 L469.30 609.40 L457.93 601.40 L457.93 584.20Z" fill="#2350a1" stroke="#2350a1"/>
<path d="M492.05 576.20 L503.43 584.20 L503.43 601.40 L492.05 609.40 L480.68 601.40 L480.68 584.20Z" fill="#2164ab" stroke="#2164ab"/>
<path d="M514.80 576.20 L526.17 584.20 L526.17 601.40 L514.80 609.40 L503.42 601.40 L503.42 584.20Z" fill="#1f81b8" stroke="#1f81b8"/>
<path d="M537.55 576.20 L548.92 584.20 L548.92 601.40 L537.55 609.40 L526.17 601.40 L526.17 584.20Z" fill="#299ec1" stroke="#299ec1"/>
<path d="M560.30 576.20 L571.67 584.20 L571.67 601.40 L560.30 609.40 L548.92 601.40 L548.92 584.20Z" fill="#4ab9c3" stroke="#4ab9c3"/>
<path d="M583.05 576.20 L594.42 584.20 L594.42 601.40 L583.05 609.40 L571.67 601.40 L571.67 584.20Z" fill="#7ecdbb" stroke="#7ecdbb"/>
<path d="M605.80 576.20 L617.17 584.20 L617.17 601.40 L605.80 609.40 L594.42 601.40 L594.42 584.20Z" fill="#c7e9b4" stroke="#c7e9b4"/>
<path d="M651.30 576.20 L662.67 584.20 L662.67 601.40 L651.30 609.40 L639.92 601.40 L639.92 584.20Z" fill="#e9f7b1" stroke="#e9f7b1"/>
<path d="M184.93 601.40 L196.30 609.40 L196.30 632.90 L184.93 640.90 L173.55 632.90 L173.55 609.40Z" fill="#daf0b3" stroke="#daf0b3"/>
<path d="M207.68 601.40 L219.05 609.40 L219.05 632.90 L207.68 640.90 L196.30 632.90 L196.30 609.40Z" fill="#c7e9b4" stroke="#c7e9b4"/>
<path d="M230.43 601.40 L241.80 609.40 L241.80 632.90 L230.43 640.90 L219.05 632.90 L219.05 609.40Z" fill="#a2dab8" stroke="#a2dab8"/>
<path d="M253.18 601.40 L264.55 609.40 L264.55 632.90 L253.18 640.90 L241.80 632.90 L241.80 609.40Z" fill="#61c2bf" stroke="#61c2bf"/>
<path d="M275.93 601.40 L287.30 609.40 L287.30 632.90 L275.93 640.90 L264.55 632.90 L264.55 609.40Z" fill="#38acc3" stroke="#38acc3"/>
<path d="M298.68 601.40 L310.05 609.40 L310.05 632.90 L298.68 640.90 L287.30 632.90 L287.30 609.40Z" fill="#1f94c0" stroke="#1f94c0"/>
<path d="M321.43 601.40 L332.80 609.40 L332.80 632.90 L321.43 640.90 L310.05 632.90 L310.05 609.40Z" fill="#1f78b4" stroke="#1f78b4"/>
<path d="M344.18 601.40 L355.55 609.40 L355.55 632.90 L344.18 640.90 L332.80 632.90 L332.80 609.40Z" fill="#2263aa" stroke="#2263aa"/>
<path d="M366.93 601.40 L378.30 609.40 L378.30 632.90 L366.93 640.90 L355.55 632.90 L355.55 609.40Z" fill="#2356a4" stroke="#2356a4"/>
<path d="M389.68 601.40 L401.05 609.40 L401.05 632.90 L389.68 640.90 L378.30 632.90 L378.30 609.40Z" fill="#234fa1" stroke="#234fa1"/>
<path d="M412.43 601.40 L423.80 609.40 L423.80 632.90 L412.43 640.90 L401.05 632.90 L401.05 609.40Z" fill="#234ea0" stroke="#234ea0"/>
<path d="M435.18 601.40 L446.55 609.40 L446.55 632.90 L435.18 640.90 L423.80 632.90 L423.80 609.40Z" fill="#2352a2" stroke="#2352a2"/>
<path d="M457.93 601.40 L469.30 609.40 L469.30 632.90 L457.93 640.90 L446.55 632.90 L446.55 609.40Z" fill="#225ca7" stroke="#225ca7"/>
<path d="M480.68 601.40 L492.05 609.40 L492.05 632.90 L480.68 640.90 L469.30 632.90 L469.30 609.40Z" fill="#206eb0" stroke="#206eb0"/>
<path d="M503.43 601.40 L514.80 609.40 L514.80 632.90 L503.43 640.90 L492.05 632.90 L492.05 609.40Z" fill="#1e86bb" stroke="#1e86bb"/>
<path d="M526.17 601.40 L537.55 609.40 L537.55 632.90 L526.17 640.90 L514.80 632.90 L514.80 609.40Z" fill="#2b9fc2" stroke="#2b9fc2"/>
<path d="M548.92 601.40 L560.30 609.40 L560.30 632.90 L548.92 640.90 L537.55 632.90 L537.55 609.40Z" fill="#46b8c3" stroke="#46b8c3"/>
<path d="M571.67 601.40 L583.05 609.40 L583.05 632.90 L571.67 640.90 L560.30 632.90 L560.30 609.40Z" fill="#7acbbc" stroke="#7acbbc"/>
<path d="M594.42 601.40 L605.80 609.40 L605.80 632.90 L594.42 640.90 L583.05 632.90 L583.05 609.40Z" fill="#c7e9b4" stroke="#c7e9b4"/>
<path d="M617.17 601.40 L628.55 609.40 L628.55 632.90 L617.17 640.90 L605.80 632.90 L605.80 609.40Z" fill="#c7e9b4" stroke="#c7e9b4"/>
<path d="M219.05 632.90 L230.43 640.90 L230.43 658.10 L219.05 666.10 L207.68 658.10 L207.68 640.90Z" fill="#daf0b3" stroke="#daf0b3"/>
<path d="M241.80 632.90 L253.18 640.90 L253.18 658.10 L241.80 666.10 L230.43 658.10 L230.43 640.90Z" fill="#c7e9b4" stroke="#c7e9b4"/>
<path d="M264.55 632.90 L275.93 640.90 L275.93 658.10 L264.55 666.10 L253.18 658.10 L253.18 640.90Z" fill="#6ec7bd" stroke="#6ec7bd"/>
<path d="M287.30 632.90 L298.68 640.90 L298.68 658.10 L287.30 666.10 L275.93 658.10 L275.93 640.90Z" fill="#43b7c4" stroke="#43b7c4"/>
<path d="M310.05 632.90 L321.43 640.90 L321.43 658.10 L310.05 666.10 L298.68 658.10 L298.68 640.90Z" fill="#2ca0c2" stroke="#2ca0c2"/>
<path d="M332.80 632.90 L344.18 640.90 L344.18 658.10 L332.80 666.10 L321.43 658.10 L321.43 640.90Z" fill="#1d8dbe" stroke="#1d8dbe"/>
<path d="M355.55 632.90 L366.93 640.90 L366.93 658.10 L355.55 666.10 L344.18 658.10 L344.18 640.90Z" fill="#1f7ab5" stroke="#1f7ab5"/>
<path d="M378.30 632.90 L389.68 640.90 L389.68 658.10 L378.30 666.10 L366.93 658.10 L366.93 640.90Z" fill="#206eb0" stroke="#206eb0"/>
<path d="M401.05 632.90 L412.43 640.90 L412.43 658.10 L401.05 666.10 L389.68 658.10 L389.68 640.90Z" fill="#2169ad" stroke="#2169ad"/>
<path d="M423.80 632.90 L435.18 640.90 L435.18 658.10 L423.80 666.10 L412.43 658.10 L412.43 640.90Z" fill="#216aae" stroke="#216aae"/>
<path d="M446.55 632.90 L457.93 640.90 L457.93 658.10 L446.55 666.10 L435.18 658.10 L435.18 640.90Z" fill="#2071b1" stroke="#2071b1"/>
<path d="M469.30 632.90 L480.68 640.90 L480.68 658.10 L469.30 666.10 L457.93 658.10 L457.93 640.90Z" fill="#1f7fb8" stroke="#1f7fb8"/>
<path d="M492.05 632.90 L503.43 640.90 L503.43 658.10 L492.05 666.10 L480.68 658.10 L480.68 640.90Z" fill="#1f93c0" stroke="#1f93c0"/>
<path d="M514.80 632.90 L526.17 640.90 L526.17 658.10 L514.80 666.10 L503.42 658.10 L503.42 640.90Z" fill="#31a6c2" stroke="#31a6c2"/>
<path d="M537.55 632.90 L548.92 640.90 L548.92 658.10 L537.55 666.10 L526.17 658.10 L526.17 640.90Z" fill="#4dbbc2" stroke="#4dbbc2"/>
<path d="M560.30 632.90 L571.67 640.90 L571.67 658.10 L560.30 666.10 L548.92 658.10 L548.92 640.90Z" fill="#74c9bd" stroke="#74c9bd"/>
<path d="M583.05 632.90 L594.42 640.90 L594.42 658.10 L583.05 666.10 L571.67 658.10 L571.67 640.90Z" fill="#daf0b3" stroke="#daf0b3"/>
<path d="M605.80 632.90 L617.17 640.90 L617.17 658.10 L605.80 666.10 L594.42 658.10 L594.42 640.90Z" fill="#e9f7b1" stroke="#e9f7b1"/>
<path d="M230.43 658.10 L241.80 666.10 L241.80 689.60 L230.43 697.60 L219.05 689.60 L219.05 666.10Z" fill="#e9f7b1" stroke="#e9f7b1"/>
<path d="M253.18 658.10 L264.55 666.10 L264.55 689.60 L253.18 697.60 L241.80 689.60 L241.80 666.10Z" fill="#c7e9b4" stroke="#c7e9b4"/>
<path d="M275.93 658.10 L287.30 666.10 L287.30 689.60 L275.93 697.60 L264.55 689.60 L264.55 666.10Z" fill="#83cfbb" stroke="#83cfbb"/>
<path d="M298.68 658.10 L310.05 666.10 L310.05 689.60 L298.68 697.60 L287.30 689.60 L287.30 666.10Z" fill="#5cc0c0" stroke="#5cc0c0"/>
<path d="M321.43 658.10 L332.80 666.10 L332.80 689.60 L321.43 697.60 L310.05 689.60 L310.05 666.10Z" fill="#3db2c4" stroke="#3db2c4"/>
<path d="M344.18 658.10 L355.55 666.10 L355.55 689.60 L344.18 697.60 L332.80 689.60 L332.80 666.10Z" fill="#2da1c2" stroke="#2da1c2"/>
<path d="M366.93 658.10 L378.30 666.10 L378.30 689.60 L366.93 697.60 L355.55 689.60 L355.55 666.10Z" fill="#2296c1" stroke="#2296c1"/>
<path d="M389.68 658.10 L401.05 666.10 L401.05 689.60 L389.68 697.60 L378.30 689.60 L378.30 666.10Z" fill="#1d8ebf" stroke="#1d8ebf"/>
<path d="M412.43 658.10 L423.80 666.10 L423.80 689.60 L412.43 697.60 L401.05 689.60 L401.05 666.10Z" fill="#1e8bbd" stroke="#1e8bbd"/>
<path d="M435.18 658.10 L446.55 666.10 L446.55 689.60 L435.18 697.60 L423.80 689.60 L423.80 666.10Z" fill="#1d8ebf" stroke="#1d8ebf"/>
<path d="M457.93 658.10 L469.30 666.10 L469.30 689.60 L457.93 697.60 L446.55 689.60 L446.55 666.10Z" fill="#2296c1" stroke="#2296c1"/>
<path d="M480.68 658.10 L492.05 666.10 L492.05 689.60 L480.68 697.60 L469.30 689.60 L469.30 666.10Z" fill="#2da1c2" stroke="#2da1c2"/>
<path d="M503.43 658.10 L514.80 666.10 L514.80 689.60 L503.43 697.60 L492.05 689.60 L492.05 666.10Z" fill="#3cb1c3" stroke="#3cb1c3"/>
<path d="M526.17 658.10 L537.55 666.10 L537.55 689.60 L526.17 697.60 L514.80 689.60 L514.80 666.10Z" fill="#59bfc0" stroke="#59bfc0"/>
<path d="M548.92 658.10 L560.30 666.10 L560.30 689.60 L548.92 697.60 L537.55 689.60 L537.55 666.10Z" fill="#9dd9b8" stroke="#9dd9b8"/>
<path d="M571.67 658.10 L583.05 666.10 L583.05 689.60 L571.67 697.60 L560.30 689.60 L560.30 666.10Z" fill="#c7e9b4" stroke="#c7e9b4"/>
<path d="M594.42 658.10 L605.80 666.10 L605.80 689.60 L594.42 697.60 L583.05 689.60 L583.05 666.10Z" fill="#e9f7b1" stroke="#e9f7b1"/>
<path d="M617.17 658.10 L628.55 666.10 L628.55 689.60 L617.17 697.60 L605.80 689.60 L605.80 666.10Z" fill="#e9f7b1" stroke="#e9f7b1"/>
<path d="M219.05 689.60 L230.43 697.60 L230.43 714.80 L219.05 722.80 L207.68 714.80 L207.68 697.60Z" fill="#f3fabe" stroke="#f3fabe"/>
<path d="M241.80 689.60 L253.18 697.60 L253.18 714.80 L241.80 722.80 L230.43 714.80 L230.43 697.60Z" fill="#f3fabe" stroke="#f3fabe"/>
<path d="M264.55 689.60 L275.93 697.60 L275.93 714.80 L264.55 722.80 L253.18 714.80 L253.18 697.60Z" fill="#daf0b3" stroke="#daf0b3"/>
<path d="M287.30 689.60 L298.68 697.60 L298.68 714.80 L287.30 722.80 L275.93 714.80 L275.93 697.60Z" fill="#c7e9b4" stroke="#c7e9b4"/>
<path d="M310.05 689.60 L321.43 697.60 L321.43 714.80 L310.05 722.80 L298.68 714.80 L298.68 697.60Z" fill="#9cd8b8" stroke="#9cd8b8"/>
<path d="M332.80 689.60 L344.18 697.60 L344.18 714.80 L332.80 722.80 L321.43 714.80 L321.43 697.60Z" fill="#5dc0c0" stroke="#5dc0c0"/>
<path d="M355.55 689.60 L366.93 697.60 L366.93 714.80 L355.55 722.80 L344.18 714.80 L344.18 697.60Z" fill="#45b7c3" stroke="#45b7c3"/>
<path d="M378.30 689.60 L389.68 697.60 L389.68 714.80 L378.30 722.80 L366.93 714.80 L366.93 697.60Z" fill="#3aafc3" stroke="#3aafc3"/>
<path d="M401.05 689.60 L412.43 697.60 L412.43 714.80 L401.05 722.80 L389.68 714.80 L389.68 697.60Z" fill="#35a9c3" stroke="#35a9c3"/>
<path d="M423.80 689.60 L435.18 697.60 L435.18 714.80 L423.80 722.80 L412.43 714.80 L412.43 697.60Z" fill="#34a9c3" stroke="#34a9c3"/>
<path d="M446.55 689.60 L457.93 697.60 L457.93 714.80 L446.55 722.80 L435.18 714.80 L435.18 697.60Z" fill="#38acc3" stroke="#38acc3"/>
<path d="M469.30 689.60 L480.68 697.60 L480.68 714.80 L469.30 722.80 L457.93 714.80 L457.93 697.60Z" fill="#3fb4c4" stroke="#3fb4c4"/>
<path d="M492.05 689.60 L503.43 697.60 L503.43 714.80 L492.05 722.80 L480.68 714.80 L480.68 697.60Z" fill="#52bcc1" stroke="#52bcc1"/>
<path d="M514.80 689.60 L526.17 697.60 L526.17 714.80 L514.80 722.80 L503.42 714.80 L503.42 697.60Z" fill="#75c9bc" stroke="#75c9bc"/>
<path d="M537.55 689.60 L548.92 697.60 L548.92 714.80 L537.55 722.80 L526.17 714.80 L526.17 697.60Z" fill="#a0dab8" stroke="#a0dab8"/>
<path d="M560.30 689.60 L571.67 697.60 L571.67 714.80 L560.30 722.80 L548.92 714.80 L548.92 697.60Z" fill="#c7e9b4" stroke="#c7e9b4"/>
<path d="M583.05 689.60 L594.42 697.60 L594.42 714.80 L583.05 722.80 L571.67 714.80 L571.67 697.60Z" fill="#daf0b3" stroke="#daf0b3"/>
<path d="M628.55 689.60 L639.92 697.60 L639.92 714.80 L628.55 722.80 L617.17 714.80 L617.17 697.60Z" fill="#e9f7b1" stroke="#e9f7b1"/>
<path d="M253.18 714.80 L264.55 722.80 L264.55 746.30 L253.18 754.30 L241.80 746.30 L241.80 722.80Z" fill="#f3fabe" stroke="#f3fabe"/>
<path d="M275.93 714.80 L287.30 722.80 L287.30 746.30 L275.93 754.30 L264.55 746.30 L264.55 722.80Z" fill="#daf0b3" stroke="#daf0b3"/>
<path d="M321.43 714.80 L332.80 722.80 L332.80 746.30 L321.43 754.30 L310.05 746.30 L310.05 722.80Z" fill="#a4dbb7" stroke="#a4dbb7"/>
<path d="M344.18 714.80 L355.55 722.80 L355.55 746.30 L344.18 754.30 L332.80 746.30 L332.80 722.80Z" fill="#9ed9b8" stroke="#9ed9b8"/>
<path d="M366.93 714.80 L378.30 722.80 L378.30 746.30 L366.93 754.30 L355.55 746.30 L355.55 722.80Z" fill="#6fc7bd" stroke="#6fc7bd"/>
<path d="M389.68 714.80 L401.05 722.80 L401.05 746.30 L389.68 754.30 L378.30 746.30 L378.30 722.80Z" fill="#62c2bf" stroke="#62c2bf"/>
<path d="M412.43 714.80 L423.80 722.80 L423.80 746.30 L412.43 754.30 L401.05 746.30 L401.05 722.80Z" fill="#6cc6be" stroke="#6cc6be"/>
<path d="M435.18 714.80 L446.55 722.80 L446.55 746.30 L435.18 754.30 L423.80 746.30 L423.80 722.80Z" fill="#5dc0c0" stroke="#5dc0c0"/>
<path d="M457.93 714.80 L469.30 722.80 L469.30 746.30 L457.93 754.30 L446.55 746.30 L446.55 722.80Z" fill="#65c3bf" stroke="#65c3bf"/>
<path d="M480.68 714.80 L492.05 722.80 L492.05 746.30 L480.68 754.30 L469.30 746.30 L469.30 722.80Z" fill="#71c8bd" stroke="#71c8bd"/>
<path d="M503.43 714.80 L514.80 722.80 L514.80 746.30 L503.43 754.30 L492.05 746.30 L492.05 722.80Z" fill="#9fd9b8" stroke="#9fd9b8"/>
<path d="M526.17 714.80 L537.55 722.80 L537.55 746.30 L526.17 754.30 L514.80 746.30 L514.80 722.80Z" fill="#a4dbb7" stroke="#a4dbb7"/>
<path d="M548.92 714.80 L560.30 722.80 L560.30 746.30 L548.92 754.30 L537.55 746.30 L537.55 722.80Z" fill="#daf0b3" stroke="#daf0b3"/>
<path d="M571.67 714.80 L583.05 722.80 L583.05 746.30 L571.67 754.30 L560.30 746.30 L560.30 722.80Z" fill="#f3fabe" stroke="#f3fabe"/>
<path d="M594.42 714.80 L605.80 722.80 L605.80 746.30 L594.42 754.30 L583.05 746.30 L583.05 722.80Z" fill="#f3fabe" stroke="#f3fabe"/>
<path d="M287.30 746.30 L298.68 754.30 L298.68 771.50 L287.30 779.50 L275.93 771.50 L275.93 754.30Z" fill="#e9f7b1" stroke="#e9f7b1"/>
<path d="M310.05 746.30 L321.43 754.30 L321.43 771.50 L310.05 779.50 L298.68 771.50 L298.68 754.30Z" fill="#f3fabe" stroke="#f3fabe"/>
<path d="M332.80 746.30 L344.18 754.30 L344.18 771.50 L332.80 779.50 L321.43 771.50 L321.43 754.30Z" fill="#c7e9b4" stroke="#c7e9b4"/>
<path d="M355.55 746.30 L366.93 754.30 L366.93 771.50 L355.55 779.50 L344.18 771.50 L344.18 754.30Z" fill="#a7dcb7" stroke="#a7dcb7"/>
<path d="M378.30 746.30 L389.68 754.30 L389.68 771.50 L378.30 779.50 L366.93 771.50 L366.93 754.30Z" fill="#c7e9b4" stroke="#c7e9b4"/>
<path d="M401.05 746.30 L412.43 754.30 L412.43 771.50 L401.05 779.50 L389.68 771.50 L389.68 754.30Z" fill="#a1dab8" stroke="#a1dab8"/>
<path d="M423.80 746.30 L435.18 754.30 L435.18 771.50 L423.80 779.50 L412.43 771.50 L412.43 754.30Z" fill="#a0dab8" stroke="#a0dab8"/>
<path d="M446.55 746.30 L457.93 754.30 L457.93 771.50 L446.55 779.50 L435.18 771.50 L435.18 754.30Z" fill="#8ad1ba" stroke="#8ad1ba"/>
<path d="M469.30 746.30 L480.68 754.30 L480.68 771.50 L469.30 779.50 L457.93 771.50 L457.93 754.30Z" fill="#c7e9b4" stroke="#c7e9b4"/>
<path d="M492.05 746.30 L503.43 754.30 L503.43 771.50 L492.05 779.50 L480.68 771.50 L480.68 754.30Z" fill="#c7e9b4" stroke="#c7e9b4"/>
<path d="M514.80 746.30 L526.17 754.30 L526.17 771.50 L514.80 779.50 L503.42 771.50 L503.42 754.30Z" fill="#c7e9b4" stroke="#c7e9b4"/>
<path d="M537.55 746.30 L548.92 754.30 L548.92 771.50 L537.55 779.50 L526.17 771.50 L526.17 754.30Z" fill="#e9f7b1" stroke="#e9f7b1"/>
<path d="M560.30 746.30 L571.67 754.30 L571.67 771.50 L560.30 779.50 L548.92 771.50 L548.92 754.30Z" fill="#e9f7b1" stroke="#e9f7b1"/>
<path d="M583.05 746.30 L594.42 754.30 L594.42 771.50 L583.05 779.50 L571.67 771.50 L571.67 754.30Z" fill="#f3fabe" stroke="#f3fabe"/>
<path d="M298.68 771.50 L310.05 779.50 L310.05 803.00 L298.68 811.00 L287.30 803.00 L287.30 779.50Z" fill="#f3fabe" stroke="#f3fabe"/>
<path d="M344.18 771.50 L355.55 779.50 L355.55 803.00 L344.18 811.00 L332.80 803.00 L332.80 779.50Z" fill="#f3fabe" stroke="#f3fabe"/>
<path d="M412.43 771.50 L423.80 779.50 L423.80 803.00 L412.43 811.00 L401.05 803.00 L401.05 779.50Z" fill="#c7e9b4" stroke="#c7e9b4"/>
<path d="M435.18 771.50 L446.55 779.50 L446.55 803.00 L435.18 811.00 L423.80 803.00 L423.80 779.50Z" fill="#c7e9b4" stroke="#c7e9b4"/>
<path d="M457.93 771.50 L469.30 779.50 L469.30 803.00 L457.93 811.00 L446.55 803.00 L446.55 779.50Z" fill="#e9f7b1" stroke="#e9f7b1"/>
<path d="M480.68 771.50 L492.05 779.50 L492.05 803.00 L480.68 811.00 L469.30 803.00 L469.30 779.50Z" fill="#e9f7b1" stroke="#e9f7b1"/>
<path d="M503.43 771.50 L514.80 779.50 L514.80 803.00 L503.43 811.00 L492.05 803.00 L492.05 779.50Z" fill="#daf0b3" stroke="#daf0b3"/>
<path d="M526.17 771.50 L537.55 779.50 L537.55 803.00 L526.17 811.00 L514.80 803.00 L514.80 779.50Z" fill="#c7e9b4" stroke="#c7e9b4"/>
<path d="M548.92 771.50 L560.30 779.50 L560.30 803.00 L548.92 811.00 L537.55 803.00 L537.55 779.50Z" fill="#f3fabe" stroke="#f3fabe"/>
<path d="M332.80 803.00 L344.18 811.00 L344.18 828.20 L332.80 836.20 L321.43 828.20 L321.43 811.00Z" fill="#f3fabe" stroke="#f3fabe"/>
<path d="M401.05 803.00 L412.43 811.00 L412.43 828.20 L401.05 836.20 L389.68 828.20 L389.68 811.00Z" fill="#e9f7b1" stroke="#e9f7b1"/>
<path d="M423.80 803.00 L435.18 811.00 L435.18 828.20 L423.80 836.20 L412.43 828.20 L412.43 811.00Z" fill="#daf0b3" stroke="#daf0b3"/>
<path d="M446.55 803.00 L457.93 811.00 L457.93 828.20 L446.55 836.20 L435.18 828.20 L435.18 811.00Z" fill="#f3fabe" stroke="#f3fabe"/>
<path d="M492.05 803.00 L503.43 811.00 L503.43 828.20 L492.05 836.20 L480.68 828.20 L480.68 811.00Z" fill="#f3fabe" stroke="#f3fabe"/>
<path d="M560.30 803.00 L571.67 811.00 L571.67 828.20 L560.30 836.20 L548.92 828.20 L548.92 811.00Z" fill="#f3fabe" stroke="#f3fabe"/>
<path d="M389.68 828.20 L401.05 836.20 L401.05 859.70 L389.68 867.70 L378.30 859.70 L378.30 836.20Z" fill="#f3fabe" stroke="#f3fabe"/>
<path d="M435.18 828.20 L446.55 836.20 L446.55 859.70 L435.18 867.70 L423.80 859.70 L423.80 836.20Z" fill="#f3fabe" stroke="#f3fabe"/>
<path d="M457.93 828.20 L469.30 836.20 L469.30 859.70 L457.93 867.70 L446.55 859.70 L446.55 836.20Z" fill="#f3fabe" stroke="#f3fabe"/>
<path d="M378.30 859.70 L389.68 867.70 L389.68 884.90 L378.30 892.90 L366.93 884.90 L366.93 867.70Z" fill="#e9f7b1" stroke="#e9f7b1"/>
</g></defs>
<g shape-rendering="crispEdges" stroke-width="0.3"><use href="#hxL"/></g>
<g stroke-width="0.8"><use href="#hxL"/></g>
<path d="M93.93 130.60 L105.30 122.60 L116.68 130.60 L128.05 122.60 L139.43 130.60 L150.80 122.60 L162.18 130.60 L173.55 122.60 L184.93 130.60 L196.30 122.60 L207.68 130.60 L219.05 122.60 L230.43 130.60 L241.80 122.60 L253.18 130.60 L264.55 122.60 L275.93 130.60 L287.30 122.60 L298.68 130.60 L310.05 122.60 L321.43 130.60 L332.80 122.60 L344.18 130.60 L355.55 122.60 L366.93 130.60 L378.30 122.60 L389.68 130.60 L401.05 122.60 L412.43 130.60 L423.80 122.60 L435.18 130.60 L446.55 122.60 L457.93 130.60 L469.30 122.60 L480.68 130.60 L492.05 122.60 L503.42 130.60 L514.80 122.60 L526.17 130.60 L537.55 122.60 L548.92 130.60 L560.30 122.60 L571.67 130.60 L583.05 122.60 L594.42 130.60 L605.80 122.60 L617.17 130.60 L628.55 122.60 L639.92 130.60 L651.30 122.60 L662.67 130.60 L674.05 122.60 L685.42 130.60" fill="none" stroke="#fff" stroke-width="0.5" stroke-opacity="0.5" stroke-linejoin="miter"/>
<path d="M93.93 187.30 L105.30 179.30 L116.68 187.30 L128.05 179.30 L139.43 187.30 L150.80 179.30 L162.18 187.30 L173.55 179.30 L184.93 187.30 L196.30 179.30 L207.68 187.30 L219.05 179.30 L230.43 187.30 L241.80 179.30 L253.18 187.30 L264.55 179.30 L275.93 187.30 L287.30 179.30 L298.68 187.30 L310.05 179.30 L321.43 187.30 L332.80 179.30 L344.18 187.30 L355.55 179.30 L366.93 187.30 L378.30 179.30 L389.68 187.30 L401.05 179.30 L412.43 187.30 L423.80 179.30 L435.18 187.30 L446.55 179.30 L457.93 187.30 L469.30 179.30 L480.68 187.30 L492.05 179.30 L503.42 187.30 L514.80 179.30 L526.17 187.30 L537.55 179.30 L548.92 187.30 L560.30 179.30 L571.67 187.30 L583.05 179.30 L594.42 187.30 L605.80 179.30 L617.17 187.30 L628.55 179.30 L639.92 187.30 L651.30 179.30 L662.67 187.30 L674.05 179.30 L685.42 187.30" fill="none" stroke="#fff" stroke-width="0.5" stroke-opacity="0.5" stroke-linejoin="miter"/>
<path d="M93.93 244.00 L105.30 236.00 L116.68 244.00 L128.05 236.00 L139.43 244.00 L150.80 236.00 L162.18 244.00 L173.55 236.00 L184.93 244.00 L196.30 236.00 L207.68 244.00 L219.05 236.00 L230.43 244.00 L241.80 236.00 L253.18 244.00 L264.55 236.00 L275.93 244.00 L287.30 236.00 L298.68 244.00 L310.05 236.00 L321.43 244.00 L332.80 236.00 L344.18 244.00 L355.55 236.00 L366.93 244.00 L378.30 236.00 L389.68 244.00 L401.05 236.00 L412.43 244.00 L423.80 236.00 L435.18 244.00 L446.55 236.00 L457.93 244.00 L469.30 236.00 L480.68 244.00 L492.05 236.00 L503.42 244.00 L514.80 236.00 L526.17 244.00 L537.55 236.00 L548.92 244.00 L560.30 236.00 L571.67 244.00 L583.05 236.00 L594.42 244.00 L605.80 236.00 L617.17 244.00 L628.55 236.00 L639.92 244.00 L651.30 236.00 L662.67 244.00 L674.05 236.00 L685.42 244.00" fill="none" stroke="#fff" stroke-width="0.5" stroke-opacity="0.5" stroke-linejoin="miter"/>
<path d="M93.93 300.70 L105.30 292.70 L116.68 300.70 L128.05 292.70 L139.43 300.70 L150.80 292.70 L162.18 300.70 L173.55 292.70 L184.93 300.70 L196.30 292.70 L207.68 300.70 L219.05 292.70 L230.43 300.70 L241.80 292.70 L253.18 300.70 L264.55 292.70 L275.93 300.70 L287.30 292.70 L298.68 300.70 L310.05 292.70 L321.43 300.70 L332.80 292.70 L344.18 300.70 L355.55 292.70 L366.93 300.70 L378.30 292.70 L389.68 300.70 L401.05 292.70 L412.43 300.70 L423.80 292.70 L435.18 300.70 L446.55 292.70 L457.93 300.70 L469.30 292.70 L480.68 300.70 L492.05 292.70 L503.42 300.70 L514.80 292.70 L526.17 300.70 L537.55 292.70 L548.92 300.70 L560.30 292.70 L571.67 300.70 L583.05 292.70 L594.42 300.70 L605.80 292.70 L617.17 300.70 L628.55 292.70 L639.92 300.70 L651.30 292.70 L662.67 300.70 L674.05 292.70 L685.42 300.70" fill="none" stroke="#fff" stroke-width="0.5" stroke-opacity="0.5" stroke-linejoin="miter"/>
<path d="M93.93 357.40 L105.30 349.40 L116.68 357.40 L128.05 349.40 L139.43 357.40 L150.80 349.40 L162.18 357.40 L173.55 349.40 L184.93 357.40 L196.30 349.40 L207.68 357.40 L219.05 349.40 L230.43 357.40 L241.80 349.40 L253.18 357.40 L264.55 349.40 L275.93 357.40 L287.30 349.40 L298.68 357.40 L310.05 349.40 L321.43 357.40 L332.80 349.40 L344.18 357.40 L355.55 349.40 L366.93 357.40 L378.30 349.40 L389.68 357.40 L401.05 349.40 L412.43 357.40 L423.80 349.40 L435.18 357.40 L446.55 349.40 L457.93 357.40 L469.30 349.40 L480.68 357.40 L492.05 349.40 L503.42 357.40 L514.80 349.40 L526.17 357.40 L537.55 349.40 L548.92 357.40 L560.30 349.40 L571.67 357.40 L583.05 349.40 L594.42 357.40 L605.80 349.40 L617.17 357.40 L628.55 349.40 L639.92 357.40 L651.30 349.40 L662.67 357.40 L674.05 349.40 L685.42 357.40" fill="none" stroke="#fff" stroke-width="0.5" stroke-opacity="0.5" stroke-linejoin="miter"/>
<path d="M93.93 414.10 L105.30 406.10 L116.68 414.10 L128.05 406.10 L139.43 414.10 L150.80 406.10 L162.18 414.10 L173.55 406.10 L184.93 414.10 L196.30 406.10 L207.68 414.10 L219.05 406.10 L230.43 414.10 L241.80 406.10 L253.18 414.10 L264.55 406.10 L275.93 414.10 L287.30 406.10 L298.68 414.10 L310.05 406.10 L321.43 414.10 L332.80 406.10 L344.18 414.10 L355.55 406.10 L366.93 414.10 L378.30 406.10 L389.68 414.10 L401.05 406.10 L412.43 414.10 L423.80 406.10 L435.18 414.10 L446.55 406.10 L457.93 414.10 L469.30 406.10 L480.68 414.10 L492.05 406.10 L503.42 414.10 L514.80 406.10 L526.17 414.10 L537.55 406.10 L548.92 414.10 L560.30 406.10 L571.67 414.10 L583.05 406.10 L594.42 414.10 L605.80 406.10 L617.17 414.10 L628.55 406.10 L639.92 414.10 L651.30 406.10 L662.67 414.10 L674.05 406.10 L685.42 414.10" fill="none" stroke="#fff" stroke-width="0.5" stroke-opacity="0.5" stroke-linejoin="miter"/>
<path d="M93.93 470.80 L105.30 462.80 L116.68 470.80 L128.05 462.80 L139.43 470.80 L150.80 462.80 L162.18 470.80 L173.55 462.80 L184.93 470.80 L196.30 462.80 L207.68 470.80 L219.05 462.80 L230.43 470.80 L241.80 462.80 L253.18 470.80 L264.55 462.80 L275.93 470.80 L287.30 462.80 L298.68 470.80 L310.05 462.80 L321.43 470.80 L332.80 462.80 L344.18 470.80 L355.55 462.80 L366.93 470.80 L378.30 462.80 L389.68 470.80 L401.05 462.80 L412.43 470.80 L423.80 462.80 L435.18 470.80 L446.55 462.80 L457.93 470.80 L469.30 462.80 L480.68 470.80 L492.05 462.80 L503.42 470.80 L514.80 462.80 L526.17 470.80 L537.55 462.80 L548.92 470.80 L560.30 462.80 L571.67 470.80 L583.05 462.80 L594.42 470.80 L605.80 462.80 L617.17 470.80 L628.55 462.80 L639.92 470.80 L651.30 462.80 L662.67 470.80 L674.05 462.80 L685.42 470.80" fill="none" stroke="#fff" stroke-width="0.5" stroke-opacity="0.5" stroke-linejoin="miter"/>
<path d="M93.93 527.50 L105.30 519.50 L116.68 527.50 L128.05 519.50 L139.43 527.50 L150.80 519.50 L162.18 527.50 L173.55 519.50 L184.93 527.50 L196.30 519.50 L207.68 527.50 L219.05 519.50 L230.43 527.50 L241.80 519.50 L253.18 527.50 L264.55 519.50 L275.93 527.50 L287.30 519.50 L298.68 527.50 L310.05 519.50 L321.43 527.50 L332.80 519.50 L344.18 527.50 L355.55 519.50 L366.93 527.50 L378.30 519.50 L389.68 527.50 L401.05 519.50 L412.43 527.50 L423.80 519.50 L435.18 527.50 L446.55 519.50 L457.93 527.50 L469.30 519.50 L480.68 527.50 L492.05 519.50 L503.42 527.50 L514.80 519.50 L526.17 527.50 L537.55 519.50 L548.92 527.50 L560.30 519.50 L571.67 527.50 L583.05 519.50 L594.42 527.50 L605.80 519.50 L617.17 527.50 L628.55 519.50 L639.92 527.50 L651.30 519.50 L662.67 527.50 L674.05 519.50 L685.42 527.50" fill="none" stroke="#fff" stroke-width="0.5" stroke-opacity="0.5" stroke-linejoin="miter"/>
<path d="M93.93 584.20 L105.30 576.20 L116.68 584.20 L128.05 576.20 L139.43 584.20 L150.80 576.20 L162.18 584.20 L173.55 576.20 L184.93 584.20 L196.30 576.20 L207.68 584.20 L219.05 576.20 L230.43 584.20 L241.80 576.20 L253.18 584.20 L264.55 576.20 L275.93 584.20 L287.30 576.20 L298.68 584.20 L310.05 576.20 L321.43 584.20 L332.80 576.20 L344.18 584.20 L355.55 576.20 L366.93 584.20 L378.30 576.20 L389.68 584.20 L401.05 576.20 L412.43 584.20 L423.80 576.20 L435.18 584.20 L446.55 576.20 L457.93 584.20 L469.30 576.20 L480.68 584.20 L492.05 576.20 L503.42 584.20 L514.80 576.20 L526.17 584.20 L537.55 576.20 L548.92 584.20 L560.30 576.20 L571.67 584.20 L583.05 576.20 L594.42 584.20 L605.80 576.20 L617.17 584.20 L628.55 576.20 L639.92 584.20 L651.30 576.20 L662.67 584.20 L674.05 576.20 L685.42 584.20" fill="none" stroke="#fff" stroke-width="0.5" stroke-opacity="0.5" stroke-linejoin="miter"/>
<path d="M93.93 640.90 L105.30 632.90 L116.68 640.90 L128.05 632.90 L139.43 640.90 L150.80 632.90 L162.18 640.90 L173.55 632.90 L184.93 640.90 L196.30 632.90 L207.68 640.90 L219.05 632.90 L230.43 640.90 L241.80 632.90 L253.18 640.90 L264.55 632.90 L275.93 640.90 L287.30 632.90 L298.68 640.90 L310.05 632.90 L321.43 640.90 L332.80 632.90 L344.18 640.90 L355.55 632.90 L366.93 640.90 L378.30 632.90 L389.68 640.90 L401.05 632.90 L412.43 640.90 L423.80 632.90 L435.18 640.90 L446.55 632.90 L457.93 640.90 L469.30 632.90 L480.68 640.90 L492.05 632.90 L503.42 640.90 L514.80 632.90 L526.17 640.90 L537.55 632.90 L548.92 640.90 L560.30 632.90 L571.67 640.90 L583.05 632.90 L594.42 640.90 L605.80 632.90 L617.17 640.90 L628.55 632.90 L639.92 640.90 L651.30 632.90 L662.67 640.90 L674.05 632.90 L685.42 640.90" fill="none" stroke="#fff" stroke-width="0.5" stroke-opacity="0.5" stroke-linejoin="miter"/>
<path d="M93.93 697.60 L105.30 689.60 L116.68 697.60 L128.05 689.60 L139.43 697.60 L150.80 689.60 L162.18 697.60 L173.55 689.60 L184.93 697.60 L196.30 689.60 L207.68 697.60 L219.05 689.60 L230.43 697.60 L241.80 689.60 L253.18 697.60 L264.55 689.60 L275.93 697.60 L287.30 689.60 L298.68 697.60 L310.05 689.60 L321.43 697.60 L332.80 689.60 L344.18 697.60 L355.55 689.60 L366.93 697.60 L378.30 689.60 L389.68 697.60 L401.05 689.60 L412.43 697.60 L423.80 689.60 L435.18 697.60 L446.55 689.60 L457.93 697.60 L469.30 689.60 L480.68 697.60 L492.05 689.60 L503.42 697.60 L514.80 689.60 L526.17 697.60 L537.55 689.60 L548.92 697.60 L560.30 689.60 L571.67 697.60 L583.05 689.60 L594.42 697.60 L605.80 689.60 L617.17 697.60 L628.55 689.60 L639.92 697.60 L651.30 689.60 L662.67 697.60 L674.05 689.60 L685.42 697.60" fill="none" stroke="#fff" stroke-width="0.5" stroke-opacity="0.5" stroke-linejoin="miter"/>
<path d="M93.93 754.30 L105.30 746.30 L116.68 754.30 L128.05 746.30 L139.43 754.30 L150.80 746.30 L162.18 754.30 L173.55 746.30 L184.93 754.30 L196.30 746.30 L207.68 754.30 L219.05 746.30 L230.43 754.30 L241.80 746.30 L253.18 754.30 L264.55 746.30 L275.93 754.30 L287.30 746.30 L298.68 754.30 L310.05 746.30 L321.43 754.30 L332.80 746.30 L344.18 754.30 L355.55 746.30 L366.93 754.30 L378.30 746.30 L389.68 754.30 L401.05 746.30 L412.43 754.30 L423.80 746.30 L435.18 754.30 L446.55 746.30 L457.93 754.30 L469.30 746.30 L480.68 754.30 L492.05 746.30 L503.42 754.30 L514.80 746.30 L526.17 754.30 L537.55 746.30 L548.92 754.30 L560.30 746.30 L571.67 754.30 L583.05 746.30 L594.42 754.30 L605.80 746.30 L617.17 754.30 L628.55 746.30 L639.92 754.30 L651.30 746.30 L662.67 754.30 L674.05 746.30 L685.42 754.30" fill="none" stroke="#fff" stroke-width="0.5" stroke-opacity="0.5" stroke-linejoin="miter"/>
<path d="M93.93 811.00 L105.30 803.00 L116.68 811.00 L128.05 803.00 L139.43 811.00 L150.80 803.00 L162.18 811.00 L173.55 803.00 L184.93 811.00 L196.30 803.00 L207.68 811.00 L219.05 803.00 L230.43 811.00 L241.80 803.00 L253.18 811.00 L264.55 803.00 L275.93 811.00 L287.30 803.00 L298.68 811.00 L310.05 803.00 L321.43 811.00 L332.80 803.00 L344.18 811.00 L355.55 803.00 L366.93 811.00 L378.30 803.00 L389.68 811.00 L401.05 803.00 L412.43 811.00 L423.80 803.00 L435.18 811.00 L446.55 803.00 L457.93 811.00 L469.30 803.00 L480.68 811.00 L492.05 803.00 L503.42 811.00 L514.80 803.00 L526.17 811.00 L537.55 803.00 L548.92 811.00 L560.30 803.00 L571.67 811.00 L583.05 803.00 L594.42 811.00 L605.80 803.00 L617.17 811.00 L628.55 803.00 L639.92 811.00 L651.30 803.00 L662.67 811.00 L674.05 803.00 L685.42 811.00" fill="none" stroke="#fff" stroke-width="0.5" stroke-opacity="0.5" stroke-linejoin="miter"/>
<path d="M93.93 867.70 L105.30 859.70 L116.68 867.70 L128.05 859.70 L139.43 867.70 L150.80 859.70 L162.18 867.70 L173.55 859.70 L184.93 867.70 L196.30 859.70 L207.68 867.70 L219.05 859.70 L230.43 867.70 L241.80 859.70 L253.18 867.70 L264.55 859.70 L275.93 867.70 L287.30 859.70 L298.68 867.70 L310.05 859.70 L321.43 867.70 L332.80 859.70 L344.18 867.70 L355.55 859.70 L366.93 867.70 L378.30 859.70 L389.68 867.70 L401.05 859.70 L412.43 867.70 L423.80 859.70 L435.18 867.70 L446.55 859.70 L457.93 867.70 L469.30 859.70 L480.68 867.70 L492.05 859.70 L503.42 867.70 L514.80 859.70 L526.17 867.70 L537.55 859.70 L548.92 867.70 L560.30 859.70 L571.67 867.70 L583.05 859.70 L594.42 867.70 L605.80 859.70 L617.17 867.70 L628.55 859.70 L639.92 867.70 L651.30 859.70 L662.67 867.70 L674.05 859.70 L685.42 867.70" fill="none" stroke="#fff" stroke-width="0.5" stroke-opacity="0.5" stroke-linejoin="miter"/>
</g>
<clipPath id="cR"><rect x="705.50" y="86.90" width="455.00" height="794.70"/></clipPath>
<rect x="705.50" y="86.90" width="455.00" height="794.70" fill="#ffffd9"/>
<g clip-path="url(#cR)" stroke-linejoin="round">
<defs><g id="hxR">
<path d="M768.06 147.80 L777.16 155.80 L777.16 179.30 L768.06 187.30 L758.97 179.30 L758.97 155.80Z" fill="#f3fabe" stroke="#f3fabe"/>
<path d="M886.30 179.30 L895.39 187.30 L895.39 204.50 L886.30 212.50 L877.20 204.50 L877.20 187.30Z" fill="#e9f7b1" stroke="#e9f7b1"/>
<path d="M922.68 179.30 L931.78 187.30 L931.78 204.50 L922.68 212.50 L913.59 204.50 L913.59 187.30Z" fill="#f3fabe" stroke="#f3fabe"/>
<path d="M895.39 204.50 L904.49 212.50 L904.49 236.00 L895.39 244.00 L886.30 236.00 L886.30 212.50Z" fill="#e9f7b1" stroke="#e9f7b1"/>
<path d="M913.59 204.50 L922.68 212.50 L922.68 236.00 L913.59 244.00 L904.49 236.00 L904.49 212.50Z" fill="#daf0b3" stroke="#daf0b3"/>
<path d="M931.77 204.50 L940.87 212.50 L940.87 236.00 L931.77 244.00 L922.68 236.00 L922.68 212.50Z" fill="#daf0b3" stroke="#daf0b3"/>
<path d="M949.97 204.50 L959.06 212.50 L959.06 236.00 L949.97 244.00 L940.87 236.00 L940.87 212.50Z" fill="#daf0b3" stroke="#daf0b3"/>
<path d="M968.15 204.50 L977.25 212.50 L977.25 236.00 L968.15 244.00 L959.06 236.00 L959.06 212.50Z" fill="#e9f7b1" stroke="#e9f7b1"/>
<path d="M813.54 236.00 L822.63 244.00 L822.63 261.20 L813.54 269.20 L804.44 261.20 L804.44 244.00Z" fill="#f3fabe" stroke="#f3fabe"/>
<path d="M849.92 236.00 L859.01 244.00 L859.01 261.20 L849.92 269.20 L840.82 261.20 L840.82 244.00Z" fill="#f3fabe" stroke="#f3fabe"/>
<path d="M868.11 236.00 L877.21 244.00 L877.21 261.20 L868.11 269.20 L859.01 261.20 L859.01 244.00Z" fill="#e9f7b1" stroke="#e9f7b1"/>
<path d="M886.30 236.00 L895.39 244.00 L895.39 261.20 L886.30 269.20 L877.20 261.20 L877.20 244.00Z" fill="#c7e9b4" stroke="#c7e9b4"/>
<path d="M904.49 236.00 L913.59 244.00 L913.59 261.20 L904.49 269.20 L895.39 261.20 L895.39 244.00Z" fill="#c7e9b4" stroke="#c7e9b4"/>
<path d="M922.68 236.00 L931.78 244.00 L931.78 261.20 L922.68 269.20 L913.59 261.20 L913.59 244.00Z" fill="#a2dab8" stroke="#a2dab8"/>
<path d="M940.87 236.00 L949.97 244.00 L949.97 261.20 L940.87 269.20 L931.77 261.20 L931.77 244.00Z" fill="#a2dbb8" stroke="#a2dbb8"/>
<path d="M959.06 236.00 L968.15 244.00 L968.15 261.20 L959.06 269.20 L949.96 261.20 L949.96 244.00Z" fill="#c7e9b4" stroke="#c7e9b4"/>
<path d="M977.25 236.00 L986.35 244.00 L986.35 261.20 L977.25 269.20 L968.15 261.20 L968.15 244.00Z" fill="#e9f7b1" stroke="#e9f7b1"/>
<path d="M995.44 236.00 L1004.54 244.00 L1004.54 261.20 L995.44 269.20 L986.35 261.20 L986.35 244.00Z" fill="#c7e9b4" stroke="#c7e9b4"/>
<path d="M1013.63 236.00 L1022.73 244.00 L1022.73 261.20 L1013.63 269.20 L1004.53 261.20 L1004.53 244.00Z" fill="#c7e9b4" stroke="#c7e9b4"/>
<path d="M804.44 261.20 L813.54 269.20 L813.54 292.70 L804.44 300.70 L795.35 292.70 L795.35 269.20Z" fill="#e9f7b1" stroke="#e9f7b1"/>
<path d="M822.63 261.20 L831.73 269.20 L831.73 292.70 L822.63 300.70 L813.54 292.70 L813.54 269.20Z" fill="#daf0b3" stroke="#daf0b3"/>
<path d="M840.83 261.20 L849.92 269.20 L849.92 292.70 L840.83 300.70 L831.73 292.70 L831.73 269.20Z" fill="#a4dbb7" stroke="#a4dbb7"/>
<path d="M859.01 261.20 L868.11 269.20 L868.11 292.70 L859.01 300.70 L849.92 292.70 L849.92 269.20Z" fill="#7acbbc" stroke="#7acbbc"/>
<path d="M877.20 261.20 L886.30 269.20 L886.30 292.70 L877.20 300.70 L868.11 292.70 L868.11 269.20Z" fill="#5fc1c0" stroke="#5fc1c0"/>
<path d="M895.39 261.20 L904.49 269.20 L904.49 292.70 L895.39 300.70 L886.30 292.70 L886.30 269.20Z" fill="#4ab9c3" stroke="#4ab9c3"/>
<path d="M913.59 261.20 L922.68 269.20 L922.68 292.70 L913.59 300.70 L904.49 292.70 L904.49 269.20Z" fill="#3fb4c4" stroke="#3fb4c4"/>
<path d="M931.77 261.20 L940.87 269.20 L940.87 292.70 L931.77 300.70 L922.68 292.70 L922.68 269.20Z" fill="#3db2c4" stroke="#3db2c4"/>
<path d="M949.97 261.20 L959.06 269.20 L959.06 292.70 L949.97 300.70 L940.87 292.70 L940.87 269.20Z" fill="#41b6c4" stroke="#41b6c4"/>
<path d="M968.15 261.20 L977.25 269.20 L977.25 292.70 L968.15 300.70 L959.06 292.70 L959.06 269.20Z" fill="#50bcc2" stroke="#50bcc2"/>
<path d="M986.35 261.20 L995.44 269.20 L995.44 292.70 L986.35 300.70 L977.25 292.70 L977.25 269.20Z" fill="#64c3bf" stroke="#64c3bf"/>
<path d="M1004.54 261.20 L1013.63 269.20 L1013.63 292.70 L1004.54 300.70 L995.44 292.70 L995.44 269.20Z" fill="#81cebb" stroke="#81cebb"/>
<path d="M1022.73 261.20 L1031.82 269.20 L1031.82 292.70 L1022.73 300.70 L1013.63 292.70 L1013.63 269.20Z" fill="#f3fabe" stroke="#f3fabe"/>
<path d="M1059.11 261.20 L1068.20 269.20 L1068.20 292.70 L1059.11 300.70 L1050.01 292.70 L1050.01 269.20Z" fill="#e9f7b1" stroke="#e9f7b1"/>
<path d="M777.16 292.70 L786.25 300.70 L786.25 317.90 L777.16 325.90 L768.06 317.90 L768.06 300.70Z" fill="#f3fabe" stroke="#f3fabe"/>
<path d="M813.54 292.70 L822.63 300.70 L822.63 317.90 L813.54 325.90 L804.44 317.90 L804.44 300.70Z" fill="#a5dcb7" stroke="#a5dcb7"/>
<path d="M831.73 292.70 L840.83 300.70 L840.83 317.90 L831.73 325.90 L822.63 317.90 L822.63 300.70Z" fill="#7acbbc" stroke="#7acbbc"/>
<path d="M849.92 292.70 L859.01 300.70 L859.01 317.90 L849.92 325.90 L840.82 317.90 L840.82 300.70Z" fill="#47b8c3" stroke="#47b8c3"/>
<path d="M868.11 292.70 L877.21 300.70 L877.21 317.90 L868.11 325.90 L859.01 317.90 L859.01 300.70Z" fill="#2fa4c2" stroke="#2fa4c2"/>
<path d="M886.30 292.70 L895.39 300.70 L895.39 317.90 L886.30 325.90 L877.20 317.90 L877.20 300.70Z" fill="#1f93c0" stroke="#1f93c0"/>
<path d="M904.49 292.70 L913.59 300.70 L913.59 317.90 L904.49 325.90 L895.39 317.90 L895.39 300.70Z" fill="#1e84ba" stroke="#1e84ba"/>
<path d="M922.68 292.70 L931.78 300.70 L931.78 317.90 L922.68 325.90 L913.59 317.90 L913.59 300.70Z" fill="#1f7db7" stroke="#1f7db7"/>
<path d="M940.87 292.70 L949.97 300.70 L949.97 317.90 L940.87 325.90 L931.77 317.90 L931.77 300.70Z" fill="#1f7eb7" stroke="#1f7eb7"/>
<path d="M959.06 292.70 L968.15 300.70 L968.15 317.90 L959.06 325.90 L949.96 317.90 L949.96 300.70Z" fill="#1e86bb" stroke="#1e86bb"/>
<path d="M977.25 292.70 L986.35 300.70 L986.35 317.90 L977.25 325.90 L968.15 317.90 L968.15 300.70Z" fill="#2094c0" stroke="#2094c0"/>
<path d="M995.44 292.70 L1004.54 300.70 L1004.54 317.90 L995.44 325.90 L986.35 317.90 L986.35 300.70Z" fill="#2fa4c2" stroke="#2fa4c2"/>
<path d="M1013.63 292.70 L1022.73 300.70 L1022.73 317.90 L1013.63 325.90 L1004.53 317.90 L1004.53 300.70Z" fill="#45b8c3" stroke="#45b8c3"/>
<path d="M1031.82 292.70 L1040.91 300.70 L1040.91 317.90 L1031.82 325.90 L1022.72 317.90 L1022.72 300.70Z" fill="#76cabc" stroke="#76cabc"/>
<path d="M1050.01 292.70 L1059.11 300.70 L1059.11 317.90 L1050.01 325.90 L1040.91 317.90 L1040.91 300.70Z" fill="#c7e9b4" stroke="#c7e9b4"/>
<path d="M1068.20 292.70 L1077.30 300.70 L1077.30 317.90 L1068.20 325.90 L1059.11 317.90 L1059.11 300.70Z" fill="#f3fabe" stroke="#f3fabe"/>
<path d="M1140.96 292.70 L1150.06 300.70 L1150.06 317.90 L1140.96 325.90 L1131.87 317.90 L1131.87 300.70Z" fill="#f3fabe" stroke="#f3fabe"/>
<path d="M749.88 317.90 L758.97 325.90 L758.97 349.40 L749.88 357.40 L740.78 349.40 L740.78 325.90Z" fill="#f3fabe" stroke="#f3fabe"/>
<path d="M768.06 317.90 L777.16 325.90 L777.16 349.40 L768.06 357.40 L758.97 349.40 L758.97 325.90Z" fill="#f3fabe" stroke="#f3fabe"/>
<path d="M786.25 317.90 L795.35 325.90 L795.35 349.40 L786.25 357.40 L777.16 349.40 L777.16 325.90Z" fill="#e9f7b1" stroke="#e9f7b1"/>
<path d="M804.44 317.90 L813.54 325.90 L813.54 349.40 L804.44 357.40 L795.35 349.40 L795.35 325.90Z" fill="#a3dbb8" stroke="#a3dbb8"/>
<path d="M822.63 317.90 L831.73 325.90 L831.73 349.40 L822.63 357.40 L813.54 349.40 L813.54 325.90Z" fill="#5fc1c0" stroke="#5fc1c0"/>
<path d="M840.83 317.90 L849.92 325.90 L849.92 349.40 L840.83 357.40 L831.73 349.40 L831.73 325.90Z" fill="#33a8c2" stroke="#33a8c2"/>
<path d="M859.01 317.90 L868.11 325.90 L868.11 349.40 L859.01 357.40 L849.92 349.40 L849.92 325.90Z" fill="#1e8bbd" stroke="#1e8bbd"/>
<path d="M877.20 317.90 L886.30 325.90 L886.30 349.40 L877.20 357.40 L868.11 349.40 L868.11 325.90Z" fill="#206eb0" stroke="#206eb0"/>
<path d="M895.39 317.90 L904.49 325.90 L904.49 349.40 L895.39 357.40 L886.30 349.40 L886.30 325.90Z" fill="#2259a6" stroke="#2259a6"/>
<path d="M913.59 317.90 L922.68 325.90 L922.68 349.40 L913.59 357.40 L904.49 349.40 L904.49 325.90Z" fill="#234ea1" stroke="#234ea1"/>
<path d="M931.77 317.90 L940.87 325.90 L940.87 349.40 L931.77 357.40 L922.68 349.40 L922.68 325.90Z" fill="#234a9e" stroke="#234a9e"/>
<path d="M949.97 317.90 L959.06 325.90 L959.06 349.40 L949.97 357.40 L940.87 349.40 L940.87 325.90Z" fill="#234ca0" stroke="#234ca0"/>
<path d="M968.15 317.90 L977.25 325.90 L977.25 349.40 L968.15 357.40 L959.06 349.40 L959.06 325.90Z" fill="#2355a4" stroke="#2355a4"/>
<path d="M986.35 317.90 L995.44 325.90 L995.44 349.40 L986.35 357.40 L977.25 349.40 L977.25 325.90Z" fill="#2165ab" stroke="#2165ab"/>
<path d="M1004.54 317.90 L1013.63 325.90 L1013.63 349.40 L1004.54 357.40 L995.44 349.40 L995.44 325.90Z" fill="#1f7eb7" stroke="#1f7eb7"/>
<path d="M1022.73 317.90 L1031.82 325.90 L1031.82 349.40 L1022.73 357.40 L1013.63 349.40 L1013.63 325.90Z" fill="#269ac1" stroke="#269ac1"/>
<path d="M1040.91 317.90 L1050.01 325.90 L1050.01 349.40 L1040.91 357.40 L1031.82 349.40 L1031.82 325.90Z" fill="#41b6c4" stroke="#41b6c4"/>
<path d="M1059.11 317.90 L1068.20 325.90 L1068.20 349.40 L1059.11 357.40 L1050.01 349.40 L1050.01 325.90Z" fill="#79cbbc" stroke="#79cbbc"/>
<path d="M1077.30 317.90 L1086.39 325.90 L1086.39 349.40 L1077.30 357.40 L1068.20 349.40 L1068.20 325.90Z" fill="#daf0b3" stroke="#daf0b3"/>
<path d="M1095.49 317.90 L1104.58 325.90 L1104.58 349.40 L1095.49 357.40 L1086.39 349.40 L1086.39 325.90Z" fill="#daf0b3" stroke="#daf0b3"/>
<path d="M1113.67 317.90 L1122.77 325.90 L1122.77 349.40 L1113.67 357.40 L1104.58 349.40 L1104.58 325.90Z" fill="#f3fabe" stroke="#f3fabe"/>
<path d="M740.78 349.40 L749.88 357.40 L749.88 374.60 L740.78 382.60 L731.68 374.60 L731.68 357.40Z" fill="#f3fabe" stroke="#f3fabe"/>
<path d="M795.35 349.40 L804.45 357.40 L804.45 374.60 L795.35 382.60 L786.25 374.60 L786.25 357.40Z" fill="#c7e9b4" stroke="#c7e9b4"/>
<path d="M813.54 349.40 L822.63 357.40 L822.63 374.60 L813.54 382.60 L804.44 374.60 L804.44 357.40Z" fill="#62c2bf" stroke="#62c2bf"/>
<path d="M831.73 349.40 L840.83 357.40 L840.83 374.60 L831.73 382.60 L822.63 374.60 L822.63 357.40Z" fill="#31a5c2" stroke="#31a5c2"/>
<path d="M849.92 349.40 L859.01 357.40 L859.01 374.60 L849.92 382.60 L840.82 374.60 L840.82 357.40Z" fill="#1f81b8" stroke="#1f81b8"/>
<path d="M868.11 349.40 L877.21 357.40 L877.21 374.60 L868.11 382.60 L859.01 374.60 L859.01 357.40Z" fill="#225da7" stroke="#225da7"/>
<path d="M886.30 349.40 L895.39 357.40 L895.39 374.60 L886.30 382.60 L877.20 374.60 L877.20 357.40Z" fill="#24459c" stroke="#24459c"/>
<path d="M904.49 349.40 L913.59 357.40 L913.59 374.60 L904.49 382.60 L895.39 374.60 L895.39 357.40Z" fill="#253494" stroke="#253494"/>
<path d="M922.68 349.40 L931.78 357.40 L931.78 374.60 L922.68 382.60 L913.59 374.60 L913.59 357.40Z" fill="#1e2f86" stroke="#1e2f86"/>
<path d="M940.87 349.40 L949.97 357.40 L949.97 374.60 L940.87 382.60 L931.77 374.60 L931.77 357.40Z" fill="#1c2d82" stroke="#1c2d82"/>
<path d="M959.06 349.40 L968.15 357.40 L968.15 374.60 L959.06 382.60 L949.96 374.60 L949.96 357.40Z" fill="#1f2f87" stroke="#1f2f87"/>
<path d="M977.25 349.40 L986.35 357.40 L986.35 374.60 L977.25 382.60 L968.15 374.60 L968.15 357.40Z" fill="#253695" stroke="#253695"/>
<path d="M995.44 349.40 L1004.54 357.40 L1004.54 374.60 L995.44 382.60 L986.35 374.60 L986.35 357.40Z" fill="#24469d" stroke="#24469d"/>
<path d="M1013.63 349.40 L1022.73 357.40 L1022.73 374.60 L1013.63 382.60 L1004.53 374.60 L1004.53 357.40Z" fill="#225da7" stroke="#225da7"/>
<path d="M1031.82 349.40 L1040.91 357.40 L1040.91 374.60 L1031.82 382.60 L1022.72 374.60 L1022.72 357.40Z" fill="#1f7fb7" stroke="#1f7fb7"/>
<path d="M1050.01 349.40 L1059.11 357.40 L1059.11 374.60 L1050.01 382.60 L1040.91 374.60 L1040.91 357.40Z" fill="#2ca1c2" stroke="#2ca1c2"/>
<path d="M1068.20 349.40 L1077.30 357.40 L1077.30 374.60 L1068.20 382.60 L1059.11 374.60 L1059.11 357.40Z" fill="#56bec1" stroke="#56bec1"/>
<path d="M1086.39 349.40 L1095.48 357.40 L1095.48 374.60 L1086.39 382.60 L1077.29 374.60 L1077.29 357.40Z" fill="#a0dab8" stroke="#a0dab8"/>
<path d="M1104.58 349.40 L1113.67 357.40 L1113.67 374.60 L1104.58 382.60 L1095.48 374.60 L1095.48 357.40Z" fill="#e9f7b1" stroke="#e9f7b1"/>
<path d="M786.25 374.60 L795.35 382.60 L795.35 406.10 L786.25 414.10 L777.16 406.10 L777.16 382.60Z" fill="#daf0b3" stroke="#daf0b3"/>
<path d="M804.44 374.60 L813.54 382.60 L813.54 406.10 L804.44 414.10 L795.35 406.10 L795.35 382.60Z" fill="#9dd9b8" stroke="#9dd9b8"/>
<path d="M822.63 374.60 L831.73 382.60 L831.73 406.10 L822.63 414.10 L813.54 406.10 L813.54 382.60Z" fill="#3db2c4" stroke="#3db2c4"/>
<path d="M840.83 374.60 L849.92 382.60 L849.92 406.10 L840.83 414.10 L831.73 406.10 L831.73 382.60Z" fill="#1e8cbe" stroke="#1e8cbe"/>
<path d="M859.01 374.60 L868.11 382.60 L868.11 406.10 L859.01 414.10 L849.92 406.10 L849.92 382.60Z" fill="#2260a9" stroke="#2260a9"/>
<path d="M877.20 374.60 L886.30 382.60 L886.30 406.10 L877.20 414.10 L868.11 406.10 L868.11 382.60Z" fill="#24429b" stroke="#24429b"/>
<path d="M895.39 374.60 L904.49 382.60 L904.49 406.10 L895.39 414.10 L886.30 406.10 L886.30 382.60Z" fill="#1f2f88" stroke="#1f2f88"/>
<path d="M913.59 374.60 L922.68 382.60 L922.68 406.10 L913.59 414.10 L904.49 406.10 L904.49 382.60Z" fill="#142771" stroke="#142771"/>
<path d="M931.77 374.60 L940.87 382.60 L940.87 406.10 L931.77 414.10 L922.68 406.10 L922.68 382.60Z" fill="#0e2264" stroke="#0e2264"/>
<path d="M949.97 374.60 L959.06 382.60 L959.06 406.10 L949.97 414.10 L940.87 406.10 L940.87 382.60Z" fill="#0d2161" stroke="#0d2161"/>
<path d="M968.15 374.60 L977.25 382.60 L977.25 406.10 L968.15 414.10 L959.06 406.10 L959.06 382.60Z" fill="#102368" stroke="#102368"/>
<path d="M986.35 374.60 L995.44 382.60 L995.44 406.10 L986.35 414.10 L977.25 406.10 L977.25 382.60Z" fill="#182a79" stroke="#182a79"/>
<path d="M1004.54 374.60 L1013.63 382.60 L1013.63 406.10 L1004.54 414.10 L995.44 406.10 L995.44 382.60Z" fill="#243393" stroke="#243393"/>
<path d="M1022.73 374.60 L1031.82 382.60 L1031.82 406.10 L1022.73 414.10 L1013.63 406.10 L1013.63 382.60Z" fill="#234b9f" stroke="#234b9f"/>
<path d="M1040.91 374.60 L1050.01 382.60 L1050.01 406.10 L1040.91 414.10 L1031.82 406.10 L1031.82 382.60Z" fill="#216bae" stroke="#216bae"/>
<path d="M1059.11 374.60 L1068.20 382.60 L1068.20 406.10 L1059.11 414.10 L1050.01 406.10 L1050.01 382.60Z" fill="#2094c0" stroke="#2094c0"/>
<path d="M1077.30 374.60 L1086.39 382.60 L1086.39 406.10 L1077.30 414.10 L1068.20 406.10 L1068.20 382.60Z" fill="#41b6c4" stroke="#41b6c4"/>
<path d="M1095.49 374.60 L1104.58 382.60 L1104.58 406.10 L1095.49 414.10 L1086.39 406.10 L1086.39 382.60Z" fill="#7cccbb" stroke="#7cccbb"/>
<path d="M1113.67 374.60 L1122.77 382.60 L1122.77 406.10 L1113.67 414.10 L1104.58 406.10 L1104.58 382.60Z" fill="#f3fabe" stroke="#f3fabe"/>
<path d="M1131.87 374.60 L1140.96 382.60 L1140.96 406.10 L1131.87 414.10 L1122.77 406.10 L1122.77 382.60Z" fill="#f3fabe" stroke="#f3fabe"/>
<path d="M1150.06 374.60 L1159.15 382.60 L1159.15 406.10 L1150.06 414.10 L1140.96 406.10 L1140.96 382.60Z" fill="#f3fabe" stroke="#f3fabe"/>
<path d="M777.16 406.10 L786.25 414.10 L786.25 431.30 L777.16 439.30 L768.06 431.30 L768.06 414.10Z" fill="#e9f7b1" stroke="#e9f7b1"/>
<path d="M795.35 406.10 L804.45 414.10 L804.45 431.30 L795.35 439.30 L786.25 431.30 L786.25 414.10Z" fill="#c7e9b4" stroke="#c7e9b4"/>
<path d="M813.54 406.10 L822.63 414.10 L822.63 431.30 L813.54 439.30 L804.44 431.30 L804.44 414.10Z" fill="#68c5be" stroke="#68c5be"/>
<path d="M831.73 406.10 L840.83 414.10 L840.83 431.30 L831.73 439.30 L822.63 431.30 L822.63 414.10Z" fill="#30a5c2" stroke="#30a5c2"/>
<path d="M849.92 406.10 L859.01 414.10 L859.01 431.30 L849.92 439.30 L840.82 431.30 L840.82 414.10Z" fill="#1f7ab5" stroke="#1f7ab5"/>
<path d="M868.11 406.10 L877.21 414.10 L877.21 431.30 L868.11 439.30 L859.01 431.30 L859.01 414.10Z" fill="#2351a2" stroke="#2351a2"/>
<path d="M886.30 406.10 L895.39 414.10 L895.39 431.30 L886.30 439.30 L877.20 431.30 L877.20 414.10Z" fill="#253494" stroke="#253494"/>
<path d="M904.49 406.10 L913.59 414.10 L913.59 431.30 L904.49 439.30 L895.39 431.30 L895.39 414.10Z" fill="#162875" stroke="#162875"/>
<path d="M922.68 406.10 L931.78 414.10 L931.78 431.30 L922.68 439.30 L913.59 431.30 L913.59 414.10Z" fill="#0b205f" stroke="#0b205f"/>
<path d="M940.87 406.10 L949.97 414.10 L949.97 431.30 L940.87 439.30 L931.77 431.30 L931.77 414.10Z" fill="#081d58" stroke="#081d58"/>
<path d="M959.06 406.10 L968.15 414.10 L968.15 431.30 L959.06 439.30 L949.96 431.30 L949.96 414.10Z" fill="#081d58" stroke="#081d58"/>
<path d="M977.25 406.10 L986.35 414.10 L986.35 431.30 L977.25 439.30 L968.15 431.30 L968.15 414.10Z" fill="#091e5a" stroke="#091e5a"/>
<path d="M995.44 406.10 L1004.54 414.10 L1004.54 431.30 L995.44 439.30 L986.35 431.30 L986.35 414.10Z" fill="#12256c" stroke="#12256c"/>
<path d="M1013.63 406.10 L1022.73 414.10 L1022.73 431.30 L1013.63 439.30 L1004.53 431.30 L1004.53 414.10Z" fill="#1f2f87" stroke="#1f2f87"/>
<path d="M1031.82 406.10 L1040.91 414.10 L1040.91 431.30 L1031.82 439.30 L1022.72 431.30 L1022.72 414.10Z" fill="#24449c" stroke="#24449c"/>
<path d="M1050.01 406.10 L1059.11 414.10 L1059.11 431.30 L1050.01 439.30 L1040.91 431.30 L1040.91 414.10Z" fill="#2163aa" stroke="#2163aa"/>
<path d="M1068.20 406.10 L1077.30 414.10 L1077.30 431.30 L1068.20 439.30 L1059.11 431.30 L1059.11 414.10Z" fill="#1d8ebf" stroke="#1d8ebf"/>
<path d="M1086.39 406.10 L1095.48 414.10 L1095.48 431.30 L1086.39 439.30 L1077.29 431.30 L1077.29 414.10Z" fill="#3db2c4" stroke="#3db2c4"/>
<path d="M1104.58 406.10 L1113.67 414.10 L1113.67 431.30 L1104.58 439.30 L1095.48 431.30 L1095.48 414.10Z" fill="#9cd8b8" stroke="#9cd8b8"/>
<path d="M1122.77 406.10 L1131.87 414.10 L1131.87 431.30 L1122.77 439.30 L1113.67 431.30 L1113.67 414.10Z" fill="#e9f7b1" stroke="#e9f7b1"/>
<path d="M1159.15 406.10 L1168.25 414.10 L1168.25 431.30 L1159.15 439.30 L1150.06 431.30 L1150.06 414.10Z" fill="#f3fabe" stroke="#f3fabe"/>
<path d="M786.25 431.30 L795.35 439.30 L795.35 462.80 L786.25 470.80 L777.16 462.80 L777.16 439.30Z" fill="#daf0b3" stroke="#daf0b3"/>
<path d="M804.44 431.30 L813.54 439.30 L813.54 462.80 L804.44 470.80 L795.35 462.80 L795.35 439.30Z" fill="#a6dcb7" stroke="#a6dcb7"/>
<path d="M822.63 431.30 L831.73 439.30 L831.73 462.80 L822.63 470.80 L813.54 462.80 L813.54 439.30Z" fill="#63c3bf" stroke="#63c3bf"/>
<path d="M840.83 431.30 L849.92 439.30 L849.92 462.80 L840.83 470.80 L831.73 462.80 L831.73 439.30Z" fill="#2da1c2" stroke="#2da1c2"/>
<path d="M859.01 431.30 L868.11 439.30 L868.11 462.80 L859.01 470.80 L849.92 462.80 L849.92 439.30Z" fill="#2076b3" stroke="#2076b3"/>
<path d="M877.20 431.30 L886.30 439.30 L886.30 462.80 L877.20 470.80 L868.11 462.80 L868.11 439.30Z" fill="#234fa1" stroke="#234fa1"/>
<path d="M895.39 431.30 L904.49 439.30 L904.49 462.80 L895.39 470.80 L886.30 462.80 L886.30 439.30Z" fill="#243392" stroke="#243392"/>
<path d="M913.59 431.30 L922.68 439.30 L922.68 462.80 L913.59 470.80 L904.49 462.80 L904.49 439.30Z" fill="#152874" stroke="#152874"/>
<path d="M931.77 431.30 L940.87 439.30 L940.87 462.80 L931.77 470.80 L922.68 462.80 L922.68 439.30Z" fill="#0b205f" stroke="#0b205f"/>
<path d="M949.97 431.30 L959.06 439.30 L959.06 462.80 L949.97 470.80 L940.87 462.80 L940.87 439.30Z" fill="#081d58" stroke="#081d58"/>
<path d="M968.15 431.30 L977.25 439.30 L977.25 462.80 L968.15 470.80 L959.06 462.80 L959.06 439.30Z" fill="#081d58" stroke="#081d58"/>
<path d="M986.35 431.30 L995.44 439.30 L995.44 462.80 L986.35 470.80 L977.25 462.80 L977.25 439.30Z" fill="#0b1f5d" stroke="#0b1f5d"/>
<path d="M1004.54 431.30 L1013.63 439.30 L1013.63 462.80 L1004.54 470.80 L995.44 462.80 L995.44 439.30Z" fill="#142670" stroke="#142670"/>
<path d="M1022.73 431.30 L1031.82 439.30 L1031.82 462.80 L1022.73 470.80 L1013.63 462.80 L1013.63 439.30Z" fill="#21318c" stroke="#21318c"/>
<path d="M1040.91 431.30 L1050.01 439.30 L1050.01 462.80 L1040.91 470.80 L1031.82 462.80 L1031.82 439.30Z" fill="#24489e" stroke="#24489e"/>
<path d="M1059.11 431.30 L1068.20 439.30 L1068.20 462.80 L1059.11 470.80 L1050.01 462.80 L1050.01 439.30Z" fill="#2169ad" stroke="#2169ad"/>
<path d="M1077.30 431.30 L1086.39 439.30 L1086.39 462.80 L1077.30 470.80 L1068.20 462.80 L1068.20 439.30Z" fill="#1f94c0" stroke="#1f94c0"/>
<path d="M1095.49 431.30 L1104.58 439.30 L1104.58 462.80 L1095.49 470.80 L1086.39 462.80 L1086.39 439.30Z" fill="#42b6c4" stroke="#42b6c4"/>
<path d="M1113.67 431.30 L1122.77 439.30 L1122.77 462.80 L1113.67 470.80 L1104.58 462.80 L1104.58 439.30Z" fill="#81cebb" stroke="#81cebb"/>
<path d="M1131.87 431.30 L1140.96 439.30 L1140.96 462.80 L1131.87 470.80 L1122.77 462.80 L1122.77 439.30Z" fill="#f3fabe" stroke="#f3fabe"/>
<path d="M1150.06 431.30 L1159.15 439.30 L1159.15 462.80 L1150.06 470.80 L1140.96 462.80 L1140.96 439.30Z" fill="#daf0b3" stroke="#daf0b3"/>
<path d="M777.16 462.80 L786.25 470.80 L786.25 488.00 L777.16 496.00 L768.06 488.00 L768.06 470.80Z" fill="#f3fabe" stroke="#f3fabe"/>
<path d="M795.35 462.80 L804.45 470.80 L804.45 488.00 L795.35 496.00 L786.25 488.00 L786.25 470.80Z" fill="#e9f7b1" stroke="#e9f7b1"/>
<path d="M813.54 462.80 L822.63 470.80 L822.63 488.00 L813.54 496.00 L804.44 488.00 L804.44 470.80Z" fill="#a8ddb7" stroke="#a8ddb7"/>
<path d="M831.73 462.80 L840.83 470.80 L840.83 488.00 L831.73 496.00 L822.63 488.00 L822.63 470.80Z" fill="#6cc6be" stroke="#6cc6be"/>
<path d="M849.92 462.80 L859.01 470.80 L859.01 488.00 L849.92 496.00 L840.82 488.00 L840.82 470.80Z" fill="#34a8c3" stroke="#34a8c3"/>
<path d="M868.11 462.80 L877.21 470.80 L877.21 488.00 L868.11 496.00 L859.01 488.00 L859.01 470.80Z" fill="#1f81b8" stroke="#1f81b8"/>
<path d="M886.30 462.80 L895.39 470.80 L895.39 488.00 L886.30 496.00 L877.20 488.00 L877.20 470.80Z" fill="#2259a6" stroke="#2259a6"/>
<path d="M904.49 462.80 L913.59 470.80 L913.59 488.00 L904.49 496.00 L895.39 488.00 L895.39 470.80Z" fill="#243e99" stroke="#243e99"/>
<path d="M922.68 462.80 L931.78 470.80 L931.78 488.00 L922.68 496.00 L913.59 488.00 L913.59 470.80Z" fill="#1d2e84" stroke="#1d2e84"/>
<path d="M940.87 462.80 L949.97 470.80 L949.97 488.00 L940.87 496.00 L931.77 488.00 L931.77 470.80Z" fill="#142771" stroke="#142771"/>
<path d="M959.06 462.80 L968.15 470.80 L968.15 488.00 L959.06 496.00 L949.96 488.00 L949.96 470.80Z" fill="#0f2367" stroke="#0f2367"/>
<path d="M977.25 462.80 L986.35 470.80 L986.35 488.00 L977.25 496.00 L968.15 488.00 L968.15 470.80Z" fill="#102368" stroke="#102368"/>
<path d="M995.44 462.80 L1004.54 470.80 L1004.54 488.00 L995.44 496.00 L986.35 488.00 L986.35 470.80Z" fill="#152772" stroke="#152772"/>
<path d="M1013.63 462.80 L1022.73 470.80 L1022.73 488.00 L1013.63 496.00 L1004.53 488.00 L1004.53 470.80Z" fill="#1e2f86" stroke="#1e2f86"/>
<path d="M1031.82 462.80 L1040.91 470.80 L1040.91 488.00 L1031.82 496.00 L1022.72 488.00 L1022.72 470.80Z" fill="#243e99" stroke="#243e99"/>
<path d="M1050.01 462.80 L1059.11 470.80 L1059.11 488.00 L1050.01 496.00 L1040.91 488.00 L1040.91 470.80Z" fill="#2258a5" stroke="#2258a5"/>
<path d="M1068.20 462.80 L1077.30 470.80 L1077.30 488.00 L1068.20 496.00 L1059.11 488.00 L1059.11 470.80Z" fill="#1f7db6" stroke="#1f7db6"/>
<path d="M1086.39 462.80 L1095.48 470.80 L1095.48 488.00 L1086.39 496.00 L1077.29 488.00 L1077.29 470.80Z" fill="#2da2c2" stroke="#2da2c2"/>
<path d="M1104.58 462.80 L1113.67 470.80 L1113.67 488.00 L1104.58 496.00 L1095.48 488.00 L1095.48 470.80Z" fill="#5abfc0" stroke="#5abfc0"/>
<path d="M1122.77 462.80 L1131.87 470.80 L1131.87 488.00 L1122.77 496.00 L1113.67 488.00 L1113.67 470.80Z" fill="#c7e9b4" stroke="#c7e9b4"/>
<path d="M1140.96 462.80 L1150.06 470.80 L1150.06 488.00 L1140.96 496.00 L1131.87 488.00 L1131.87 470.80Z" fill="#c7e9b4" stroke="#c7e9b4"/>
<path d="M786.25 488.00 L795.35 496.00 L795.35 519.50 L786.25 527.50 L777.16 519.50 L777.16 496.00Z" fill="#f3fabe" stroke="#f3fabe"/>
<path d="M804.44 488.00 L813.54 496.00 L813.54 519.50 L804.44 527.50 L795.35 519.50 L795.35 496.00Z" fill="#f3fabe" stroke="#f3fabe"/>
<path d="M822.63 488.00 L831.73 496.00 L831.73 519.50 L822.63 527.50 L813.54 519.50 L813.54 496.00Z" fill="#daf0b3" stroke="#daf0b3"/>
<path d="M840.83 488.00 L849.92 496.00 L849.92 519.50 L840.83 527.50 L831.73 519.50 L831.73 496.00Z" fill="#9ed9b8" stroke="#9ed9b8"/>
<path d="M859.01 488.00 L868.11 496.00 L868.11 519.50 L859.01 527.50 L849.92 519.50 L849.92 496.00Z" fill="#46b8c3" stroke="#46b8c3"/>
<path d="M877.20 488.00 L886.30 496.00 L886.30 519.50 L877.20 527.50 L868.11 519.50 L868.11 496.00Z" fill="#2397c1" stroke="#2397c1"/>
<path d="M895.39 488.00 L904.49 496.00 L904.49 519.50 L895.39 527.50 L886.30 519.50 L886.30 496.00Z" fill="#2072b1" stroke="#2072b1"/>
<path d="M913.59 488.00 L922.68 496.00 L922.68 519.50 L913.59 527.50 L904.49 519.50 L904.49 496.00Z" fill="#2354a3" stroke="#2354a3"/>
<path d="M931.77 488.00 L940.87 496.00 L940.87 519.50 L931.77 527.50 L922.68 519.50 L922.68 496.00Z" fill="#24419a" stroke="#24419a"/>
<path d="M949.97 488.00 L959.06 496.00 L959.06 519.50 L949.97 527.50 L940.87 519.50 L940.87 496.00Z" fill="#253494" stroke="#253494"/>
<path d="M968.15 488.00 L977.25 496.00 L977.25 519.50 L968.15 527.50 L959.06 519.50 L959.06 496.00Z" fill="#21318c" stroke="#21318c"/>
<path d="M986.35 488.00 L995.44 496.00 L995.44 519.50 L986.35 527.50 L977.25 519.50 L977.25 496.00Z" fill="#22328e" stroke="#22328e"/>
<path d="M1004.54 488.00 L1013.63 496.00 L1013.63 519.50 L1004.54 527.50 L995.44 519.50 L995.44 496.00Z" fill="#253896" stroke="#253896"/>
<path d="M1022.73 488.00 L1031.82 496.00 L1031.82 519.50 L1022.73 527.50 L1013.63 519.50 L1013.63 496.00Z" fill="#24469c" stroke="#24469c"/>
<path d="M1040.91 488.00 L1050.01 496.00 L1050.01 519.50 L1040.91 527.50 L1031.82 519.50 L1031.82 496.00Z" fill="#225aa6" stroke="#225aa6"/>
<path d="M1059.11 488.00 L1068.20 496.00 L1068.20 519.50 L1059.11 527.50 L1050.01 519.50 L1050.01 496.00Z" fill="#1f79b5" stroke="#1f79b5"/>
<path d="M1077.30 488.00 L1086.39 496.00 L1086.39 519.50 L1077.30 527.50 L1068.20 519.50 L1068.20 496.00Z" fill="#279bc1" stroke="#279bc1"/>
<path d="M1095.49 488.00 L1104.58 496.00 L1104.58 519.50 L1095.49 527.50 L1086.39 519.50 L1086.39 496.00Z" fill="#48b9c3" stroke="#48b9c3"/>
<path d="M1113.67 488.00 L1122.77 496.00 L1122.77 519.50 L1113.67 527.50 L1104.58 519.50 L1104.58 496.00Z" fill="#81cebb" stroke="#81cebb"/>
<path d="M1131.87 488.00 L1140.96 496.00 L1140.96 519.50 L1131.87 527.50 L1122.77 519.50 L1122.77 496.00Z" fill="#f3fabe" stroke="#f3fabe"/>
<path d="M1150.06 488.00 L1159.15 496.00 L1159.15 519.50 L1150.06 527.50 L1140.96 519.50 L1140.96 496.00Z" fill="#e9f7b1" stroke="#e9f7b1"/>
<path d="M831.73 519.50 L840.83 527.50 L840.83 544.70 L831.73 552.70 L822.63 544.70 L822.63 527.50Z" fill="#e9f7b1" stroke="#e9f7b1"/>
<path d="M849.92 519.50 L859.01 527.50 L859.01 544.70 L849.92 552.70 L840.82 544.70 L840.82 527.50Z" fill="#c7e9b4" stroke="#c7e9b4"/>
<path d="M868.11 519.50 L877.21 527.50 L877.21 544.70 L868.11 552.70 L859.01 544.70 L859.01 527.50Z" fill="#77cabc" stroke="#77cabc"/>
<path d="M886.30 519.50 L895.39 527.50 L895.39 544.70 L886.30 552.70 L877.20 544.70 L877.20 527.50Z" fill="#3db2c4" stroke="#3db2c4"/>
<path d="M904.49 519.50 L913.59 527.50 L913.59 544.70 L904.49 552.70 L895.39 544.70 L895.39 527.50Z" fill="#2397c1" stroke="#2397c1"/>
<path d="M922.68 519.50 L931.78 527.50 L931.78 544.70 L922.68 552.70 L913.59 544.70 L913.59 527.50Z" fill="#1f7cb6" stroke="#1f7cb6"/>
<path d="M940.87 519.50 L949.97 527.50 L949.97 544.70 L940.87 552.70 L931.77 544.70 L931.77 527.50Z" fill="#2166ac" stroke="#2166ac"/>
<path d="M959.06 519.50 L968.15 527.50 L968.15 544.70 L959.06 552.70 L949.96 544.70 L949.96 527.50Z" fill="#2259a6" stroke="#2259a6"/>
<path d="M977.25 519.50 L986.35 527.50 L986.35 544.70 L977.25 552.70 L968.15 544.70 L968.15 527.50Z" fill="#2355a4" stroke="#2355a4"/>
<path d="M995.44 519.50 L1004.54 527.50 L1004.54 544.70 L995.44 552.70 L986.35 544.70 L986.35 527.50Z" fill="#2357a5" stroke="#2357a5"/>
<path d="M1013.63 519.50 L1022.73 527.50 L1022.73 544.70 L1013.63 552.70 L1004.53 544.70 L1004.53 527.50Z" fill="#2260a9" stroke="#2260a9"/>
<path d="M1031.82 519.50 L1040.91 527.50 L1040.91 544.70 L1031.82 552.70 L1022.72 544.70 L1022.72 527.50Z" fill="#2072b1" stroke="#2072b1"/>
<path d="M1050.01 519.50 L1059.11 527.50 L1059.11 544.70 L1050.01 552.70 L1040.91 544.70 L1040.91 527.50Z" fill="#1e8abd" stroke="#1e8abd"/>
<path d="M1068.20 519.50 L1077.30 527.50 L1077.30 544.70 L1068.20 552.70 L1059.11 544.70 L1059.11 527.50Z" fill="#2fa3c2" stroke="#2fa3c2"/>
<path d="M1086.39 519.50 L1095.48 527.50 L1095.48 544.70 L1086.39 552.70 L1077.29 544.70 L1077.29 527.50Z" fill="#51bcc2" stroke="#51bcc2"/>
<path d="M1104.58 519.50 L1113.67 527.50 L1113.67 544.70 L1104.58 552.70 L1095.48 544.70 L1095.48 527.50Z" fill="#9ed9b8" stroke="#9ed9b8"/>
<path d="M1122.77 519.50 L1131.87 527.50 L1131.87 544.70 L1122.77 552.70 L1113.67 544.70 L1113.67 527.50Z" fill="#a9ddb7" stroke="#a9ddb7"/>
<path d="M1159.15 519.50 L1168.25 527.50 L1168.25 544.70 L1159.15 552.70 L1150.06 544.70 L1150.06 527.50Z" fill="#e9f7b1" stroke="#e9f7b1"/>
<path d="M822.63 544.70 L831.73 552.70 L831.73 576.20 L822.63 584.20 L813.54 576.20 L813.54 552.70Z" fill="#e9f7b1" stroke="#e9f7b1"/>
<path d="M859.01 544.70 L868.11 552.70 L868.11 576.20 L859.01 584.20 L849.92 576.20 L849.92 552.70Z" fill="#daf0b3" stroke="#daf0b3"/>
<path d="M877.20 544.70 L886.30 552.70 L886.30 576.20 L877.20 584.20 L868.11 576.20 L868.11 552.70Z" fill="#c7e9b4" stroke="#c7e9b4"/>
<path d="M895.39 544.70 L904.49 552.70 L904.49 576.20 L895.39 584.20 L886.30 576.20 L886.30 552.70Z" fill="#75c9bc" stroke="#75c9bc"/>
<path d="M913.59 544.70 L922.68 552.70 L922.68 576.20 L913.59 584.20 L904.49 576.20 L904.49 552.70Z" fill="#4fbbc2" stroke="#4fbbc2"/>
<path d="M931.77 544.70 L940.87 552.70 L940.87 576.20 L931.77 584.20 L922.68 576.20 L922.68 552.70Z" fill="#35aac3" stroke="#35aac3"/>
<path d="M949.97 544.70 L959.06 552.70 L959.06 576.20 L949.97 584.20 L940.87 576.20 L940.87 552.70Z" fill="#279cc1" stroke="#279cc1"/>
<path d="M968.15 544.70 L977.25 552.70 L977.25 576.20 L968.15 584.20 L959.06 576.20 L959.06 552.70Z" fill="#1f93c0" stroke="#1f93c0"/>
<path d="M986.35 544.70 L995.44 552.70 L995.44 576.20 L986.35 584.20 L977.25 576.20 L977.25 552.70Z" fill="#1d90c0" stroke="#1d90c0"/>
<path d="M1004.54 544.70 L1013.63 552.70 L1013.63 576.20 L1004.54 584.20 L995.44 576.20 L995.44 552.70Z" fill="#1f93c0" stroke="#1f93c0"/>
<path d="M1022.73 544.70 L1031.82 552.70 L1031.82 576.20 L1022.73 584.20 L1013.63 576.20 L1013.63 552.70Z" fill="#279bc1" stroke="#279bc1"/>
<path d="M1040.91 544.70 L1050.01 552.70 L1050.01 576.20 L1040.91 584.20 L1031.82 576.20 L1031.82 552.70Z" fill="#34a9c3" stroke="#34a9c3"/>
<path d="M1059.11 544.70 L1068.20 552.70 L1068.20 576.20 L1059.11 584.20 L1050.01 576.20 L1050.01 552.70Z" fill="#4cbac2" stroke="#4cbac2"/>
<path d="M1077.30 544.70 L1086.39 552.70 L1086.39 576.20 L1077.30 584.20 L1068.20 576.20 L1068.20 552.70Z" fill="#77cabc" stroke="#77cabc"/>
<path d="M1095.49 544.70 L1104.58 552.70 L1104.58 576.20 L1095.49 584.20 L1086.39 576.20 L1086.39 552.70Z" fill="#a3dbb8" stroke="#a3dbb8"/>
<path d="M1113.67 544.70 L1122.77 552.70 L1122.77 576.20 L1113.67 584.20 L1104.58 576.20 L1104.58 552.70Z" fill="#f3fabe" stroke="#f3fabe"/>
<path d="M1131.87 544.70 L1140.96 552.70 L1140.96 576.20 L1131.87 584.20 L1122.77 576.20 L1122.77 552.70Z" fill="#f3fabe" stroke="#f3fabe"/>
<path d="M849.92 576.20 L859.01 584.20 L859.01 601.40 L849.92 609.40 L840.82 601.40 L840.82 584.20Z" fill="#f3fabe" stroke="#f3fabe"/>
<path d="M886.30 576.20 L895.39 584.20 L895.39 601.40 L886.30 609.40 L877.20 601.40 L877.20 584.20Z" fill="#daf0b3" stroke="#daf0b3"/>
<path d="M904.49 576.20 L913.59 584.20 L913.59 601.40 L904.49 609.40 L895.39 601.40 L895.39 584.20Z" fill="#c7e9b4" stroke="#c7e9b4"/>
<path d="M922.68 576.20 L931.78 584.20 L931.78 601.40 L922.68 609.40 L913.59 601.40 L913.59 584.20Z" fill="#c7e9b4" stroke="#c7e9b4"/>
<path d="M940.87 576.20 L949.97 584.20 L949.97 601.40 L940.87 609.40 L931.77 601.40 L931.77 584.20Z" fill="#7fcdbb" stroke="#7fcdbb"/>
<path d="M959.06 576.20 L968.15 584.20 L968.15 601.40 L959.06 609.40 L949.96 601.40 L949.96 584.20Z" fill="#6ac5be" stroke="#6ac5be"/>
<path d="M977.25 576.20 L986.35 584.20 L986.35 601.40 L977.25 609.40 L968.15 601.40 L968.15 584.20Z" fill="#60c1c0" stroke="#60c1c0"/>
<path d="M995.44 576.20 L1004.54 584.20 L1004.54 601.40 L995.44 609.40 L986.35 601.40 L986.35 584.20Z" fill="#5ec1c0" stroke="#5ec1c0"/>
<path d="M1013.63 576.20 L1022.73 584.20 L1022.73 601.40 L1013.63 609.40 L1004.53 601.40 L1004.53 584.20Z" fill="#64c3bf" stroke="#64c3bf"/>
<path d="M1031.82 576.20 L1040.91 584.20 L1040.91 601.40 L1031.82 609.40 L1022.72 601.40 L1022.72 584.20Z" fill="#79cbbc" stroke="#79cbbc"/>
<path d="M1050.01 576.20 L1059.11 584.20 L1059.11 601.40 L1050.01 609.40 L1040.91 601.40 L1040.91 584.20Z" fill="#86d0ba" stroke="#86d0ba"/>
<path d="M1068.20 576.20 L1077.30 584.20 L1077.30 601.40 L1068.20 609.40 L1059.11 601.40 L1059.11 584.20Z" fill="#c7e9b4" stroke="#c7e9b4"/>
<path d="M1086.39 576.20 L1095.48 584.20 L1095.48 601.40 L1086.39 609.40 L1077.29 601.40 L1077.29 584.20Z" fill="#daf0b3" stroke="#daf0b3"/>
<path d="M1104.58 576.20 L1113.67 584.20 L1113.67 601.40 L1104.58 609.40 L1095.48 601.40 L1095.48 584.20Z" fill="#f3fabe" stroke="#f3fabe"/>
<path d="M895.39 601.40 L904.49 609.40 L904.49 632.90 L895.39 640.90 L886.30 632.90 L886.30 609.40Z" fill="#f3fabe" stroke="#f3fabe"/>
<path d="M931.77 601.40 L940.87 609.40 L940.87 632.90 L931.77 640.90 L922.68 632.90 L922.68 609.40Z" fill="#e9f7b1" stroke="#e9f7b1"/>
<path d="M949.97 601.40 L959.06 609.40 L959.06 632.90 L949.97 640.90 L940.87 632.90 L940.87 609.40Z" fill="#daf0b3" stroke="#daf0b3"/>
<path d="M968.15 601.40 L977.25 609.40 L977.25 632.90 L968.15 640.90 L959.06 632.90 L959.06 609.40Z" fill="#c7e9b4" stroke="#c7e9b4"/>
<path d="M986.35 601.40 L995.44 609.40 L995.44 632.90 L986.35 640.90 L977.25 632.90 L977.25 609.40Z" fill="#f3fabe" stroke="#f3fabe"/>
<path d="M1004.54 601.40 L1013.63 609.40 L1013.63 632.90 L1004.54 640.90 L995.44 632.90 L995.44 609.40Z" fill="#c7e9b4" stroke="#c7e9b4"/>
<path d="M1022.73 601.40 L1031.82 609.40 L1031.82 632.90 L1022.73 640.90 L1013.63 632.90 L1013.63 609.40Z" fill="#daf0b3" stroke="#daf0b3"/>
<path d="M1059.11 601.40 L1068.20 609.40 L1068.20 632.90 L1059.11 640.90 L1050.01 632.90 L1050.01 609.40Z" fill="#daf0b3" stroke="#daf0b3"/>
<path d="M1077.30 601.40 L1086.39 609.40 L1086.39 632.90 L1077.30 640.90 L1068.20 632.90 L1068.20 609.40Z" fill="#e9f7b1" stroke="#e9f7b1"/>
<path d="M940.87 632.90 L949.97 640.90 L949.97 658.10 L940.87 666.10 L931.77 658.10 L931.77 640.90Z" fill="#f3fabe" stroke="#f3fabe"/>
<path d="M959.06 632.90 L968.15 640.90 L968.15 658.10 L959.06 666.10 L949.96 658.10 L949.96 640.90Z" fill="#f3fabe" stroke="#f3fabe"/>
<path d="M1013.63 632.90 L1022.73 640.90 L1022.73 658.10 L1013.63 666.10 L1004.53 658.10 L1004.53 640.90Z" fill="#e9f7b1" stroke="#e9f7b1"/>
<path d="M1068.20 632.90 L1077.30 640.90 L1077.30 658.10 L1068.20 666.10 L1059.11 658.10 L1059.11 640.90Z" fill="#f3fabe" stroke="#f3fabe"/>
<path d="M968.15 658.10 L977.25 666.10 L977.25 689.60 L968.15 697.60 L959.06 689.60 L959.06 666.10Z" fill="#f3fabe" stroke="#f3fabe"/>
</g></defs>
<g shape-rendering="crispEdges" stroke-width="0.3"><use href="#hxR"/></g>
<g stroke-width="0.8"><use href="#hxR"/></g>
<path d="M695.30 130.60 L704.40 122.60 L713.50 130.60 L722.59 122.60 L731.68 130.60 L740.78 122.60 L749.88 130.60 L758.97 122.60 L768.06 130.60 L777.16 122.60 L786.25 130.60 L795.35 122.60 L804.44 130.60 L813.54 122.60 L822.63 130.60 L831.73 122.60 L840.82 130.60 L849.92 122.60 L859.01 130.60 L868.11 122.60 L877.20 130.60 L886.30 122.60 L895.39 130.60 L904.49 122.60 L913.59 130.60 L922.68 122.60 L931.77 130.60 L940.87 122.60 L949.96 130.60 L959.06 122.60 L968.15 130.60 L977.25 122.60 L986.35 130.60 L995.44 122.60 L1004.53 130.60 L1013.63 122.60 L1022.72 130.60 L1031.82 122.60 L1040.91 130.60 L1050.01 122.60 L1059.11 130.60 L1068.20 122.60 L1077.29 130.60 L1086.39 122.60 L1095.48 130.60 L1104.58 122.60 L1113.67 130.60 L1122.77 122.60 L1131.87 130.60 L1140.96 122.60 L1150.06 130.60 L1159.15 122.60 L1168.25 130.60" fill="none" stroke="#fff" stroke-width="0.5" stroke-opacity="0.5" stroke-linejoin="miter"/>
<path d="M695.30 187.30 L704.40 179.30 L713.50 187.30 L722.59 179.30 L731.68 187.30 L740.78 179.30 L749.88 187.30 L758.97 179.30 L768.06 187.30 L777.16 179.30 L786.25 187.30 L795.35 179.30 L804.44 187.30 L813.54 179.30 L822.63 187.30 L831.73 179.30 L840.82 187.30 L849.92 179.30 L859.01 187.30 L868.11 179.30 L877.20 187.30 L886.30 179.30 L895.39 187.30 L904.49 179.30 L913.59 187.30 L922.68 179.30 L931.77 187.30 L940.87 179.30 L949.96 187.30 L959.06 179.30 L968.15 187.30 L977.25 179.30 L986.35 187.30 L995.44 179.30 L1004.53 187.30 L1013.63 179.30 L1022.72 187.30 L1031.82 179.30 L1040.91 187.30 L1050.01 179.30 L1059.11 187.30 L1068.20 179.30 L1077.29 187.30 L1086.39 179.30 L1095.48 187.30 L1104.58 179.30 L1113.67 187.30 L1122.77 179.30 L1131.87 187.30 L1140.96 179.30 L1150.06 187.30 L1159.15 179.30 L1168.25 187.30" fill="none" stroke="#fff" stroke-width="0.5" stroke-opacity="0.5" stroke-linejoin="miter"/>
<path d="M695.30 244.00 L704.40 236.00 L713.50 244.00 L722.59 236.00 L731.68 244.00 L740.78 236.00 L749.88 244.00 L758.97 236.00 L768.06 244.00 L777.16 236.00 L786.25 244.00 L795.35 236.00 L804.44 244.00 L813.54 236.00 L822.63 244.00 L831.73 236.00 L840.82 244.00 L849.92 236.00 L859.01 244.00 L868.11 236.00 L877.20 244.00 L886.30 236.00 L895.39 244.00 L904.49 236.00 L913.59 244.00 L922.68 236.00 L931.77 244.00 L940.87 236.00 L949.96 244.00 L959.06 236.00 L968.15 244.00 L977.25 236.00 L986.35 244.00 L995.44 236.00 L1004.53 244.00 L1013.63 236.00 L1022.72 244.00 L1031.82 236.00 L1040.91 244.00 L1050.01 236.00 L1059.11 244.00 L1068.20 236.00 L1077.29 244.00 L1086.39 236.00 L1095.48 244.00 L1104.58 236.00 L1113.67 244.00 L1122.77 236.00 L1131.87 244.00 L1140.96 236.00 L1150.06 244.00 L1159.15 236.00 L1168.25 244.00" fill="none" stroke="#fff" stroke-width="0.5" stroke-opacity="0.5" stroke-linejoin="miter"/>
<path d="M695.30 300.70 L704.40 292.70 L713.50 300.70 L722.59 292.70 L731.68 300.70 L740.78 292.70 L749.88 300.70 L758.97 292.70 L768.06 300.70 L777.16 292.70 L786.25 300.70 L795.35 292.70 L804.44 300.70 L813.54 292.70 L822.63 300.70 L831.73 292.70 L840.82 300.70 L849.92 292.70 L859.01 300.70 L868.11 292.70 L877.20 300.70 L886.30 292.70 L895.39 300.70 L904.49 292.70 L913.59 300.70 L922.68 292.70 L931.77 300.70 L940.87 292.70 L949.96 300.70 L959.06 292.70 L968.15 300.70 L977.25 292.70 L986.35 300.70 L995.44 292.70 L1004.53 300.70 L1013.63 292.70 L1022.72 300.70 L1031.82 292.70 L1040.91 300.70 L1050.01 292.70 L1059.11 300.70 L1068.20 292.70 L1077.29 300.70 L1086.39 292.70 L1095.48 300.70 L1104.58 292.70 L1113.67 300.70 L1122.77 292.70 L1131.87 300.70 L1140.96 292.70 L1150.06 300.70 L1159.15 292.70 L1168.25 300.70" fill="none" stroke="#fff" stroke-width="0.5" stroke-opacity="0.5" stroke-linejoin="miter"/>
<path d="M695.30 357.40 L704.40 349.40 L713.50 357.40 L722.59 349.40 L731.68 357.40 L740.78 349.40 L749.88 357.40 L758.97 349.40 L768.06 357.40 L777.16 349.40 L786.25 357.40 L795.35 349.40 L804.44 357.40 L813.54 349.40 L822.63 357.40 L831.73 349.40 L840.82 357.40 L849.92 349.40 L859.01 357.40 L868.11 349.40 L877.20 357.40 L886.30 349.40 L895.39 357.40 L904.49 349.40 L913.59 357.40 L922.68 349.40 L931.77 357.40 L940.87 349.40 L949.96 357.40 L959.06 349.40 L968.15 357.40 L977.25 349.40 L986.35 357.40 L995.44 349.40 L1004.53 357.40 L1013.63 349.40 L1022.72 357.40 L1031.82 349.40 L1040.91 357.40 L1050.01 349.40 L1059.11 357.40 L1068.20 349.40 L1077.29 357.40 L1086.39 349.40 L1095.48 357.40 L1104.58 349.40 L1113.67 357.40 L1122.77 349.40 L1131.87 357.40 L1140.96 349.40 L1150.06 357.40 L1159.15 349.40 L1168.25 357.40" fill="none" stroke="#fff" stroke-width="0.5" stroke-opacity="0.5" stroke-linejoin="miter"/>
<path d="M695.30 414.10 L704.40 406.10 L713.50 414.10 L722.59 406.10 L731.68 414.10 L740.78 406.10 L749.88 414.10 L758.97 406.10 L768.06 414.10 L777.16 406.10 L786.25 414.10 L795.35 406.10 L804.44 414.10 L813.54 406.10 L822.63 414.10 L831.73 406.10 L840.82 414.10 L849.92 406.10 L859.01 414.10 L868.11 406.10 L877.20 414.10 L886.30 406.10 L895.39 414.10 L904.49 406.10 L913.59 414.10 L922.68 406.10 L931.77 414.10 L940.87 406.10 L949.96 414.10 L959.06 406.10 L968.15 414.10 L977.25 406.10 L986.35 414.10 L995.44 406.10 L1004.53 414.10 L1013.63 406.10 L1022.72 414.10 L1031.82 406.10 L1040.91 414.10 L1050.01 406.10 L1059.11 414.10 L1068.20 406.10 L1077.29 414.10 L1086.39 406.10 L1095.48 414.10 L1104.58 406.10 L1113.67 414.10 L1122.77 406.10 L1131.87 414.10 L1140.96 406.10 L1150.06 414.10 L1159.15 406.10 L1168.25 414.10" fill="none" stroke="#fff" stroke-width="0.5" stroke-opacity="0.5" stroke-linejoin="miter"/>
<path d="M695.30 470.80 L704.40 462.80 L713.50 470.80 L722.59 462.80 L731.68 470.80 L740.78 462.80 L749.88 470.80 L758.97 462.80 L768.06 470.80 L777.16 462.80 L786.25 470.80 L795.35 462.80 L804.44 470.80 L813.54 462.80 L822.63 470.80 L831.73 462.80 L840.82 470.80 L849.92 462.80 L859.01 470.80 L868.11 462.80 L877.20 470.80 L886.30 462.80 L895.39 470.80 L904.49 462.80 L913.59 470.80 L922.68 462.80 L931.77 470.80 L940.87 462.80 L949.96 470.80 L959.06 462.80 L968.15 470.80 L977.25 462.80 L986.35 470.80 L995.44 462.80 L1004.53 470.80 L1013.63 462.80 L1022.72 470.80 L1031.82 462.80 L1040.91 470.80 L1050.01 462.80 L1059.11 470.80 L1068.20 462.80 L1077.29 470.80 L1086.39 462.80 L1095.48 470.80 L1104.58 462.80 L1113.67 470.80 L1122.77 462.80 L1131.87 470.80 L1140.96 462.80 L1150.06 470.80 L1159.15 462.80 L1168.25 470.80" fill="none" stroke="#fff" stroke-width="0.5" stroke-opacity="0.5" stroke-linejoin="miter"/>
<path d="M695.30 527.50 L704.40 519.50 L713.50 527.50 L722.59 519.50 L731.68 527.50 L740.78 519.50 L749.88 527.50 L758.97 519.50 L768.06 527.50 L777.16 519.50 L786.25 527.50 L795.35 519.50 L804.44 527.50 L813.54 519.50 L822.63 527.50 L831.73 519.50 L840.82 527.50 L849.92 519.50 L859.01 527.50 L868.11 519.50 L877.20 527.50 L886.30 519.50 L895.39 527.50 L904.49 519.50 L913.59 527.50 L922.68 519.50 L931.77 527.50 L940.87 519.50 L949.96 527.50 L959.06 519.50 L968.15 527.50 L977.25 519.50 L986.35 527.50 L995.44 519.50 L1004.53 527.50 L1013.63 519.50 L1022.72 527.50 L1031.82 519.50 L1040.91 527.50 L1050.01 519.50 L1059.11 527.50 L1068.20 519.50 L1077.29 527.50 L1086.39 519.50 L1095.48 527.50 L1104.58 519.50 L1113.67 527.50 L1122.77 519.50 L1131.87 527.50 L1140.96 519.50 L1150.06 527.50 L1159.15 519.50 L1168.25 527.50" fill="none" stroke="#fff" stroke-width="0.5" stroke-opacity="0.5" stroke-linejoin="miter"/>
<path d="M695.30 584.20 L704.40 576.20 L713.50 584.20 L722.59 576.20 L731.68 584.20 L740.78 576.20 L749.88 584.20 L758.97 576.20 L768.06 584.20 L777.16 576.20 L786.25 584.20 L795.35 576.20 L804.44 584.20 L813.54 576.20 L822.63 584.20 L831.73 576.20 L840.82 584.20 L849.92 576.20 L859.01 584.20 L868.11 576.20 L877.20 584.20 L886.30 576.20 L895.39 584.20 L904.49 576.20 L913.59 584.20 L922.68 576.20 L931.77 584.20 L940.87 576.20 L949.96 584.20 L959.06 576.20 L968.15 584.20 L977.25 576.20 L986.35 584.20 L995.44 576.20 L1004.53 584.20 L1013.63 576.20 L1022.72 584.20 L1031.82 576.20 L1040.91 584.20 L1050.01 576.20 L1059.11 584.20 L1068.20 576.20 L1077.29 584.20 L1086.39 576.20 L1095.48 584.20 L1104.58 576.20 L1113.67 584.20 L1122.77 576.20 L1131.87 584.20 L1140.96 576.20 L1150.06 584.20 L1159.15 576.20 L1168.25 584.20" fill="none" stroke="#fff" stroke-width="0.5" stroke-opacity="0.5" stroke-linejoin="miter"/>
<path d="M695.30 640.90 L704.40 632.90 L713.50 640.90 L722.59 632.90 L731.68 640.90 L740.78 632.90 L749.88 640.90 L758.97 632.90 L768.06 640.90 L777.16 632.90 L786.25 640.90 L795.35 632.90 L804.44 640.90 L813.54 632.90 L822.63 640.90 L831.73 632.90 L840.82 640.90 L849.92 632.90 L859.01 640.90 L868.11 632.90 L877.20 640.90 L886.30 632.90 L895.39 640.90 L904.49 632.90 L913.59 640.90 L922.68 632.90 L931.77 640.90 L940.87 632.90 L949.96 640.90 L959.06 632.90 L968.15 640.90 L977.25 632.90 L986.35 640.90 L995.44 632.90 L1004.53 640.90 L1013.63 632.90 L1022.72 640.90 L1031.82 632.90 L1040.91 640.90 L1050.01 632.90 L1059.11 640.90 L1068.20 632.90 L1077.29 640.90 L1086.39 632.90 L1095.48 640.90 L1104.58 632.90 L1113.67 640.90 L1122.77 632.90 L1131.87 640.90 L1140.96 632.90 L1150.06 640.90 L1159.15 632.90 L1168.25 640.90" fill="none" stroke="#fff" stroke-width="0.5" stroke-opacity="0.5" stroke-linejoin="miter"/>
<path d="M695.30 697.60 L704.40 689.60 L713.50 697.60 L722.59 689.60 L731.68 697.60 L740.78 689.60 L749.88 697.60 L758.97 689.60 L768.06 697.60 L777.16 689.60 L786.25 697.60 L795.35 689.60 L804.44 697.60 L813.54 689.60 L822.63 697.60 L831.73 689.60 L840.82 697.60 L849.92 689.60 L859.01 697.60 L868.11 689.60 L877.20 697.60 L886.30 689.60 L895.39 697.60 L904.49 689.60 L913.59 697.60 L922.68 689.60 L931.77 697.60 L940.87 689.60 L949.96 697.60 L959.06 689.60 L968.15 697.60 L977.25 689.60 L986.35 697.60 L995.44 689.60 L1004.53 697.60 L1013.63 689.60 L1022.72 697.60 L1031.82 689.60 L1040.91 697.60 L1050.01 689.60 L1059.11 697.60 L1068.20 689.60 L1077.29 697.60 L1086.39 689.60 L1095.48 697.60 L1104.58 689.60 L1113.67 697.60 L1122.77 689.60 L1131.87 697.60 L1140.96 689.60 L1150.06 697.60 L1159.15 689.60 L1168.25 697.60" fill="none" stroke="#fff" stroke-width="0.5" stroke-opacity="0.5" stroke-linejoin="miter"/>
<path d="M695.30 754.30 L704.40 746.30 L713.50 754.30 L722.59 746.30 L731.68 754.30 L740.78 746.30 L749.88 754.30 L758.97 746.30 L768.06 754.30 L777.16 746.30 L786.25 754.30 L795.35 746.30 L804.44 754.30 L813.54 746.30 L822.63 754.30 L831.73 746.30 L840.82 754.30 L849.92 746.30 L859.01 754.30 L868.11 746.30 L877.20 754.30 L886.30 746.30 L895.39 754.30 L904.49 746.30 L913.59 754.30 L922.68 746.30 L931.77 754.30 L940.87 746.30 L949.96 754.30 L959.06 746.30 L968.15 754.30 L977.25 746.30 L986.35 754.30 L995.44 746.30 L1004.53 754.30 L1013.63 746.30 L1022.72 754.30 L1031.82 746.30 L1040.91 754.30 L1050.01 746.30 L1059.11 754.30 L1068.20 746.30 L1077.29 754.30 L1086.39 746.30 L1095.48 754.30 L1104.58 746.30 L1113.67 754.30 L1122.77 746.30 L1131.87 754.30 L1140.96 746.30 L1150.06 754.30 L1159.15 746.30 L1168.25 754.30" fill="none" stroke="#fff" stroke-width="0.5" stroke-opacity="0.5" stroke-linejoin="miter"/>
<path d="M695.30 811.00 L704.40 803.00 L713.50 811.00 L722.59 803.00 L731.68 811.00 L740.78 803.00 L749.88 811.00 L758.97 803.00 L768.06 811.00 L777.16 803.00 L786.25 811.00 L795.35 803.00 L804.44 811.00 L813.54 803.00 L822.63 811.00 L831.73 803.00 L840.82 811.00 L849.92 803.00 L859.01 811.00 L868.11 803.00 L877.20 811.00 L886.30 803.00 L895.39 811.00 L904.49 803.00 L913.59 811.00 L922.68 803.00 L931.77 811.00 L940.87 803.00 L949.96 811.00 L959.06 803.00 L968.15 811.00 L977.25 803.00 L986.35 811.00 L995.44 803.00 L1004.53 811.00 L1013.63 803.00 L1022.72 811.00 L1031.82 803.00 L1040.91 811.00 L1050.01 803.00 L1059.11 811.00 L1068.20 803.00 L1077.29 811.00 L1086.39 803.00 L1095.48 811.00 L1104.58 803.00 L1113.67 811.00 L1122.77 803.00 L1131.87 811.00 L1140.96 803.00 L1150.06 811.00 L1159.15 803.00 L1168.25 811.00" fill="none" stroke="#fff" stroke-width="0.5" stroke-opacity="0.5" stroke-linejoin="miter"/>
<path d="M695.30 867.70 L704.40 859.70 L713.50 867.70 L722.59 859.70 L731.68 867.70 L740.78 859.70 L749.88 867.70 L758.97 859.70 L768.06 867.70 L777.16 859.70 L786.25 867.70 L795.35 859.70 L804.44 867.70 L813.54 859.70 L822.63 867.70 L831.73 859.70 L840.82 867.70 L849.92 859.70 L859.01 867.70 L868.11 859.70 L877.20 867.70 L886.30 859.70 L895.39 867.70 L904.49 859.70 L913.59 867.70 L922.68 859.70 L931.77 867.70 L940.87 859.70 L949.96 867.70 L959.06 859.70 L968.15 867.70 L977.25 859.70 L986.35 867.70 L995.44 859.70 L1004.53 867.70 L1013.63 859.70 L1022.72 867.70 L1031.82 859.70 L1040.91 867.70 L1050.01 859.70 L1059.11 867.70 L1068.20 859.70 L1077.29 867.70 L1086.39 859.70 L1095.48 867.70 L1104.58 859.70 L1113.67 867.70 L1122.77 859.70 L1131.87 867.70 L1140.96 859.70 L1150.06 867.70 L1159.15 859.70 L1168.25 867.70" fill="none" stroke="#fff" stroke-width="0.5" stroke-opacity="0.5" stroke-linejoin="miter"/>
</g>
<path d="M106.40 182.70 h9.8 M675.20 182.70 h-9.8" stroke="#000" stroke-width="1.5"/>
<path d="M106.40 330.00 h9.8 M675.20 330.00 h-9.8" stroke="#000" stroke-width="1.5"/>
<path d="M106.40 477.30 h9.8 M675.20 477.30 h-9.8" stroke="#000" stroke-width="1.5"/>
<path d="M106.40 624.60 h9.8 M675.20 624.60 h-9.8" stroke="#000" stroke-width="1.5"/>
<path d="M106.40 771.90 h9.8 M675.20 771.90 h-9.8" stroke="#000" stroke-width="1.5"/>
<path d="M192.60 86.90 v9.8 M192.60 881.60 v-9.8" stroke="#000" stroke-width="1.5"/>
<path d="M290.65 86.90 v9.8 M290.65 881.60 v-9.8" stroke="#000" stroke-width="1.5"/>
<path d="M388.70 86.90 v9.8 M388.70 881.60 v-9.8" stroke="#000" stroke-width="1.5"/>
<path d="M486.75 86.90 v9.8 M486.75 881.60 v-9.8" stroke="#000" stroke-width="1.5"/>
<path d="M584.80 86.90 v9.8 M584.80 881.60 v-9.8" stroke="#000" stroke-width="1.5"/>
<rect x="106.40" y="86.90" width="568.80" height="794.70" fill="none" stroke="#000" stroke-width="2.5"/>
<text x="194.60" y="912.5" font-size="27.9" text-anchor="middle">9.59</text>
<text x="292.65" y="912.5" font-size="27.9" text-anchor="middle">9.60</text>
<text x="390.70" y="912.5" font-size="27.9" text-anchor="middle">9.61</text>
<text x="488.75" y="912.5" font-size="27.9" text-anchor="middle">9.62</text>
<text x="586.80" y="912.5" font-size="27.9" text-anchor="middle">9.63</text>
<text x="102.3" y="193.20" font-size="37.2" text-anchor="end">-1</text>
<text x="102.3" y="340.50" font-size="37.2" text-anchor="end">-2</text>
<text x="102.3" y="487.80" font-size="37.2" text-anchor="end">-3</text>
<text x="102.3" y="635.10" font-size="37.2" text-anchor="end">-4</text>
<text x="102.3" y="782.40" font-size="37.2" text-anchor="end">-5</text>
<path d="M705.50 182.70 h9.8 M1160.50 182.70 h-9.8" stroke="#000" stroke-width="1.5"/>
<path d="M705.50 330.00 h9.8 M1160.50 330.00 h-9.8" stroke="#000" stroke-width="1.5"/>
<path d="M705.50 477.30 h9.8 M1160.50 477.30 h-9.8" stroke="#000" stroke-width="1.5"/>
<path d="M705.50 624.60 h9.8 M1160.50 624.60 h-9.8" stroke="#000" stroke-width="1.5"/>
<path d="M705.50 771.90 h9.8 M1160.50 771.90 h-9.8" stroke="#000" stroke-width="1.5"/>
<path d="M774.40 86.90 v9.8 M774.40 881.60 v-9.8" stroke="#000" stroke-width="1.5"/>
<path d="M852.70 86.90 v9.8 M852.70 881.60 v-9.8" stroke="#000" stroke-width="1.5"/>
<path d="M931.00 86.90 v9.8 M931.00 881.60 v-9.8" stroke="#000" stroke-width="1.5"/>
<path d="M1009.30 86.90 v9.8 M1009.30 881.60 v-9.8" stroke="#000" stroke-width="1.5"/>
<path d="M1087.60 86.90 v9.8 M1087.60 881.60 v-9.8" stroke="#000" stroke-width="1.5"/>
<rect x="705.50" y="86.90" width="455.00" height="794.70" fill="none" stroke="#000" stroke-width="2.5"/>
<text x="776.40" y="912.5" font-size="27.9" text-anchor="middle">9.59</text>
<text x="854.70" y="912.5" font-size="27.9" text-anchor="middle">9.60</text>
<text x="933.00" y="912.5" font-size="27.9" text-anchor="middle">9.61</text>
<text x="1011.30" y="912.5" font-size="27.9" text-anchor="middle">9.62</text>
<text x="1089.60" y="912.5" font-size="27.9" text-anchor="middle">9.63</text>
<defs><linearGradient id="cb" x1="0" y1="1" x2="0" y2="0"><stop offset="0.0000" stop-color="#ffffd9"/><stop offset="0.1250" stop-color="#edf8b1"/><stop offset="0.2500" stop-color="#c7e9b4"/><stop offset="0.3750" stop-color="#7fcdbb"/><stop offset="0.5000" stop-color="#41b6c4"/><stop offset="0.6250" stop-color="#1d91c0"/><stop offset="0.7500" stop-color="#225ea8"/><stop offset="0.8750" stop-color="#253494"/><stop offset="1.0000" stop-color="#081d58"/></linearGradient></defs>
<rect x="1189.00" y="87.00" width="39.50" height="794.60" fill="url(#cb)" stroke="#000" stroke-width="2.5"/>
<g shape-rendering="crispEdges"><rect x="1190.2" y="878" width="37.1" height="1" fill="#fff" fill-opacity="0.12"/><rect x="1190.2" y="862" width="37.1" height="1" fill="#fff" fill-opacity="0.14"/><rect x="1190.2" y="859" width="37.1" height="1" fill="#fff" fill-opacity="0.16"/><rect x="1190.2" y="856" width="37.1" height="1" fill="#fff" fill-opacity="0.17"/><rect x="1190.2" y="853" width="37.1" height="1" fill="#fff" fill-opacity="0.17"/><rect x="1190.2" y="850" width="37.1" height="1" fill="#fff" fill-opacity="0.15"/><rect x="1190.2" y="831" width="37.1" height="1" fill="#fff" fill-opacity="0.14"/><rect x="1190.2" y="828" width="37.1" height="1" fill="#fff" fill-opacity="0.16"/><rect x="1190.2" y="825" width="37.1" height="1" fill="#fff" fill-opacity="0.17"/><rect x="1190.2" y="822" width="37.1" height="1" fill="#fff" fill-opacity="0.16"/><rect x="1190.2" y="819" width="37.1" height="1" fill="#fff" fill-opacity="0.14"/><rect x="1190.2" y="800" width="37.1" height="1" fill="#fff" fill-opacity="0.15"/><rect x="1190.2" y="797" width="37.1" height="1" fill="#fff" fill-opacity="0.17"/><rect x="1190.2" y="794" width="37.1" height="1" fill="#fff" fill-opacity="0.17"/><rect x="1190.2" y="791" width="37.1" height="1" fill="#fff" fill-opacity="0.16"/><rect x="1190.2" y="788" width="37.1" height="1" fill="#fff" fill-opacity="0.13"/><rect x="1190.2" y="772" width="37.1" height="1" fill="#fff" fill-opacity="0.12"/><rect x="1190.2" y="769" width="37.1" height="1" fill="#fff" fill-opacity="0.15"/><rect x="1190.2" y="766" width="37.1" height="1" fill="#fff" fill-opacity="0.17"/><rect x="1190.2" y="763" width="37.1" height="1" fill="#fff" fill-opacity="0.17"/><rect x="1190.2" y="760" width="37.1" height="1" fill="#fff" fill-opacity="0.15"/><rect x="1190.2" y="757" width="37.1" height="1" fill="#fff" fill-opacity="0.13"/><rect x="1190.2" y="741" width="37.1" height="1" fill="#fff" fill-opacity="0.13"/><rect x="1190.2" y="738" width="37.1" height="1" fill="#fff" fill-opacity="0.16"/><rect x="1190.2" y="735" width="37.1" height="1" fill="#fff" fill-opacity="0.17"/><rect x="1190.2" y="732" width="37.1" height="1" fill="#fff" fill-opacity="0.17"/><rect x="1190.2" y="729" width="37.1" height="1" fill="#fff" fill-opacity="0.15"/><rect x="1190.2" y="710" width="37.1" height="1" fill="#fff" fill-opacity="0.14"/><rect x="1190.2" y="707" width="37.1" height="1" fill="#fff" fill-opacity="0.16"/><rect x="1190.2" y="704" width="37.1" height="1" fill="#fff" fill-opacity="0.17"/><rect x="1190.2" y="701" width="37.1" height="1" fill="#fff" fill-opacity="0.16"/><rect x="1190.2" y="698" width="37.1" height="1" fill="#fff" fill-opacity="0.14"/><rect x="1190.2" y="679" width="37.1" height="1" fill="#fff" fill-opacity="0.15"/><rect x="1190.2" y="676" width="37.1" height="1" fill="#fff" fill-opacity="0.17"/><rect x="1190.2" y="673" width="37.1" height="1" fill="#fff" fill-opacity="0.17"/><rect x="1190.2" y="670" width="37.1" height="1" fill="#fff" fill-opacity="0.16"/><rect x="1190.2" y="667" width="37.1" height="1" fill="#fff" fill-opacity="0.14"/><rect x="1190.2" y="651" width="37.1" height="1" fill="#fff" fill-opacity="0.12"/><rect x="1190.2" y="648" width="37.1" height="1" fill="#fff" fill-opacity="0.15"/><rect x="1190.2" y="645" width="37.1" height="1" fill="#fff" fill-opacity="0.17"/><rect x="1190.2" y="642" width="37.1" height="1" fill="#fff" fill-opacity="0.17"/><rect x="1190.2" y="639" width="37.1" height="1" fill="#fff" fill-opacity="0.16"/><rect x="1190.2" y="636" width="37.1" height="1" fill="#fff" fill-opacity="0.13"/><rect x="1190.2" y="620" width="37.1" height="1" fill="#fff" fill-opacity="0.13"/><rect x="1190.2" y="617" width="37.1" height="1" fill="#fff" fill-opacity="0.16"/><rect x="1190.2" y="614" width="37.1" height="1" fill="#fff" fill-opacity="0.17"/><rect x="1190.2" y="611" width="37.1" height="1" fill="#fff" fill-opacity="0.17"/><rect x="1190.2" y="608" width="37.1" height="1" fill="#fff" fill-opacity="0.15"/><rect x="1190.2" y="605" width="37.1" height="1" fill="#fff" fill-opacity="0.12"/><rect x="1190.2" y="589" width="37.1" height="1" fill="#fff" fill-opacity="0.14"/><rect x="1190.2" y="586" width="37.1" height="1" fill="#fff" fill-opacity="0.16"/><rect x="1190.2" y="583" width="37.1" height="1" fill="#fff" fill-opacity="0.17"/><rect x="1190.2" y="580" width="37.1" height="1" fill="#fff" fill-opacity="0.16"/><rect x="1190.2" y="577" width="37.1" height="1" fill="#fff" fill-opacity="0.15"/><rect x="1190.2" y="558" width="37.1" height="1" fill="#fff" fill-opacity="0.14"/><rect x="1190.2" y="555" width="37.1" height="1" fill="#fff" fill-opacity="0.16"/><rect x="1190.2" y="552" width="37.1" height="1" fill="#fff" fill-opacity="0.17"/><rect x="1190.2" y="549" width="37.1" height="1" fill="#fff" fill-opacity="0.16"/><rect x="1190.2" y="546" width="37.1" height="1" fill="#fff" fill-opacity="0.14"/><rect x="1190.2" y="527" width="37.1" height="1" fill="#fff" fill-opacity="0.15"/><rect x="1190.2" y="524" width="37.1" height="1" fill="#fff" fill-opacity="0.17"/><rect x="1190.2" y="521" width="37.1" height="1" fill="#fff" fill-opacity="0.17"/><rect x="1190.2" y="518" width="37.1" height="1" fill="#fff" fill-opacity="0.16"/><rect x="1190.2" y="515" width="37.1" height="1" fill="#fff" fill-opacity="0.13"/><rect x="1190.2" y="499" width="37.1" height="1" fill="#fff" fill-opacity="0.13"/><rect x="1190.2" y="496" width="37.1" height="1" fill="#fff" fill-opacity="0.15"/><rect x="1190.2" y="493" width="37.1" height="1" fill="#fff" fill-opacity="0.17"/><rect x="1190.2" y="490" width="37.1" height="1" fill="#fff" fill-opacity="0.17"/><rect x="1190.2" y="487" width="37.1" height="1" fill="#fff" fill-opacity="0.15"/><rect x="1190.2" y="484" width="37.1" height="1" fill="#fff" fill-opacity="0.12"/><rect x="1190.2" y="468" width="37.1" height="1" fill="#fff" fill-opacity="0.13"/><rect x="1190.2" y="465" width="37.1" height="1" fill="#fff" fill-opacity="0.16"/><rect x="1190.2" y="462" width="37.1" height="1" fill="#fff" fill-opacity="0.17"/><rect x="1190.2" y="459" width="37.1" height="1" fill="#fff" fill-opacity="0.17"/><rect x="1190.2" y="456" width="37.1" height="1" fill="#fff" fill-opacity="0.15"/><rect x="1190.2" y="437" width="37.1" height="1" fill="#fff" fill-opacity="0.14"/><rect x="1190.2" y="434" width="37.1" height="1" fill="#fff" fill-opacity="0.16"/><rect x="1190.2" y="431" width="37.1" height="1" fill="#fff" fill-opacity="0.17"/><rect x="1190.2" y="428" width="37.1" height="1" fill="#fff" fill-opacity="0.16"/><rect x="1190.2" y="425" width="37.1" height="1" fill="#fff" fill-opacity="0.14"/><rect x="1190.2" y="406" width="37.1" height="1" fill="#fff" fill-opacity="0.15"/><rect x="1190.2" y="403" width="37.1" height="1" fill="#fff" fill-opacity="0.17"/><rect x="1190.2" y="400" width="37.1" height="1" fill="#fff" fill-opacity="0.17"/><rect x="1190.2" y="397" width="37.1" height="1" fill="#fff" fill-opacity="0.16"/><rect x="1190.2" y="394" width="37.1" height="1" fill="#fff" fill-opacity="0.13"/><rect x="1190.2" y="378" width="37.1" height="1" fill="#fff" fill-opacity="0.12"/><rect x="1190.2" y="375" width="37.1" height="1" fill="#fff" fill-opacity="0.15"/><rect x="1190.2" y="372" width="37.1" height="1" fill="#fff" fill-opacity="0.17"/><rect x="1190.2" y="369" width="37.1" height="1" fill="#fff" fill-opacity="0.17"/><rect x="1190.2" y="366" width="37.1" height="1" fill="#fff" fill-opacity="0.15"/><rect x="1190.2" y="363" width="37.1" height="1" fill="#fff" fill-opacity="0.13"/><rect x="1190.2" y="347" width="37.1" height="1" fill="#fff" fill-opacity="0.13"/><rect x="1190.2" y="344" width="37.1" height="1" fill="#fff" fill-opacity="0.16"/><rect x="1190.2" y="341" width="37.1" height="1" fill="#fff" fill-opacity="0.17"/><rect x="1190.2" y="338" width="37.1" height="1" fill="#fff" fill-opacity="0.17"/><rect x="1190.2" y="335" width="37.1" height="1" fill="#fff" fill-opacity="0.15"/><rect x="1190.2" y="316" width="37.1" height="1" fill="#fff" fill-opacity="0.14"/><rect x="1190.2" y="313" width="37.1" height="1" fill="#fff" fill-opacity="0.16"/><rect x="1190.2" y="310" width="37.1" height="1" fill="#fff" fill-opacity="0.17"/><rect x="1190.2" y="307" width="37.1" height="1" fill="#fff" fill-opacity="0.16"/><rect x="1190.2" y="304" width="37.1" height="1" fill="#fff" fill-opacity="0.14"/><rect x="1190.2" y="285" width="37.1" height="1" fill="#fff" fill-opacity="0.15"/><rect x="1190.2" y="282" width="37.1" height="1" fill="#fff" fill-opacity="0.16"/><rect x="1190.2" y="279" width="37.1" height="1" fill="#fff" fill-opacity="0.17"/><rect x="1190.2" y="276" width="37.1" height="1" fill="#fff" fill-opacity="0.16"/><rect x="1190.2" y="273" width="37.1" height="1" fill="#fff" fill-opacity="0.14"/><rect x="1190.2" y="257" width="37.1" height="1" fill="#fff" fill-opacity="0.12"/><rect x="1190.2" y="254" width="37.1" height="1" fill="#fff" fill-opacity="0.15"/><rect x="1190.2" y="251" width="37.1" height="1" fill="#fff" fill-opacity="0.17"/><rect x="1190.2" y="248" width="37.1" height="1" fill="#fff" fill-opacity="0.17"/><rect x="1190.2" y="245" width="37.1" height="1" fill="#fff" fill-opacity="0.16"/><rect x="1190.2" y="242" width="37.1" height="1" fill="#fff" fill-opacity="0.13"/><rect x="1190.2" y="226" width="37.1" height="1" fill="#fff" fill-opacity="0.13"/><rect x="1190.2" y="223" width="37.1" height="1" fill="#fff" fill-opacity="0.16"/><rect x="1190.2" y="220" width="37.1" height="1" fill="#fff" fill-opacity="0.17"/><rect x="1190.2" y="217" width="37.1" height="1" fill="#fff" fill-opacity="0.17"/><rect x="1190.2" y="214" width="37.1" height="1" fill="#fff" fill-opacity="0.15"/><rect x="1190.2" y="211" width="37.1" height="1" fill="#fff" fill-opacity="0.12"/><rect x="1190.2" y="195" width="37.1" height="1" fill="#fff" fill-opacity="0.14"/><rect x="1190.2" y="192" width="37.1" height="1" fill="#fff" fill-opacity="0.16"/><rect x="1190.2" y="189" width="37.1" height="1" fill="#fff" fill-opacity="0.17"/><rect x="1190.2" y="186" width="37.1" height="1" fill="#fff" fill-opacity="0.17"/><rect x="1190.2" y="183" width="37.1" height="1" fill="#fff" fill-opacity="0.15"/><rect x="1190.2" y="164" width="37.1" height="1" fill="#fff" fill-opacity="0.14"/><rect x="1190.2" y="161" width="37.1" height="1" fill="#fff" fill-opacity="0.16"/><rect x="1190.2" y="158" width="37.1" height="1" fill="#fff" fill-opacity="0.17"/><rect x="1190.2" y="155" width="37.1" height="1" fill="#fff" fill-opacity="0.16"/><rect x="1190.2" y="152" width="37.1" height="1" fill="#fff" fill-opacity="0.14"/><rect x="1190.2" y="133" width="37.1" height="1" fill="#fff" fill-opacity="0.15"/><rect x="1190.2" y="130" width="37.1" height="1" fill="#fff" fill-opacity="0.17"/><rect x="1190.2" y="127" width="37.1" height="1" fill="#fff" fill-opacity="0.17"/><rect x="1190.2" y="124" width="37.1" height="1" fill="#fff" fill-opacity="0.16"/><rect x="1190.2" y="121" width="37.1" height="1" fill="#fff" fill-opacity="0.13"/><rect x="1190.2" y="105" width="37.1" height="1" fill="#fff" fill-opacity="0.13"/><rect x="1190.2" y="102" width="37.1" height="1" fill="#fff" fill-opacity="0.15"/><rect x="1190.2" y="99" width="37.1" height="1" fill="#fff" fill-opacity="0.17"/><rect x="1190.2" y="96" width="37.1" height="1" fill="#fff" fill-opacity="0.17"/><rect x="1190.2" y="93" width="37.1" height="1" fill="#fff" fill-opacity="0.15"/><rect x="1190.2" y="90" width="37.1" height="1" fill="#fff" fill-opacity="0.12"/></g>
<text x="1238" y="891.70" font-size="37.2">0.0</text>
<path d="M1228.50 790.80 h-9.8" stroke="#000" stroke-width="1.5"/>
<text x="1238" y="801.30" font-size="37.2">0.4</text>
<path d="M1228.50 700.40 h-9.8" stroke="#000" stroke-width="1.5"/>
<text x="1238" y="710.90" font-size="37.2">0.8</text>
<path d="M1228.50 610.00 h-9.8" stroke="#000" stroke-width="1.5"/>
<text x="1238" y="620.50" font-size="37.2">1.2</text>
<path d="M1228.50 519.60 h-9.8" stroke="#000" stroke-width="1.5"/>
<text x="1238" y="530.10" font-size="37.2">1.6</text>
<path d="M1228.50 429.20 h-9.8" stroke="#000" stroke-width="1.5"/>
<text x="1238" y="439.70" font-size="37.2">2.0</text>
<path d="M1228.50 338.80 h-9.8" stroke="#000" stroke-width="1.5"/>
<text x="1238" y="349.30" font-size="37.2">2.4</text>
<path d="M1228.50 248.40 h-9.8" stroke="#000" stroke-width="1.5"/>
<text x="1238" y="258.90" font-size="37.2">2.8</text>
<path d="M1228.50 158.00 h-9.8" stroke="#000" stroke-width="1.5"/>
<text x="1238" y="168.50" font-size="37.2">3.2</text>
<text x="391.6" y="35.1" font-size="46.8" text-anchor="middle">4544 (JPL)</text>
<text x="934" y="35.1" font-size="46.8" text-anchor="middle">4544 (NeoDys)</text>
<text y="968.7" font-size="46.5"><tspan x="217.6">MOID [</tspan><tspan x="377.0" font-size="47.8" font-family="'Liberation Serif','DejaVu Serif',serif">10</tspan><tspan x="423.8" y="950.2" font-size="33.5" font-family="'Liberation Serif','DejaVu Serif',serif">3</tspan><tspan x="455.0" y="968.7"> </tspan><tspan x="471.7" y="968.7">km]</tspan></text>
<text y="968.7" font-size="46.5"><tspan x="760.2">MOID [</tspan><tspan x="919.6" font-size="47.8" font-family="'Liberation Serif','DejaVu Serif',serif">10</tspan><tspan x="966.4" y="950.2" font-size="33.5" font-family="'Liberation Serif','DejaVu Serif',serif">3</tspan><tspan x="997.6" y="968.7"> </tspan><tspan x="1014.3" y="968.7">km]</tspan></text>
<g transform="translate(41,0) rotate(-90)">
<text y="0" font-size="46.5"><tspan x="-861.5" letter-spacing="0.3">delta TOF [</tspan><tspan x="-605.3" font-family="'Liberation Serif','DejaVu Serif',serif">10</tspan><tspan x="-556.7" y="-17.5" font-size="32.5" textLength="32.4" lengthAdjust="spacingAndGlyphs" font-family="'Liberation Serif','DejaVu Serif',serif">−</tspan><tspan x="-528.3" y="-18.3" font-size="31.5" font-family="'Liberation Serif','DejaVu Serif',serif">3</tspan><tspan x="-505" y="0"> </tspan><tspan x="-490.5" y="0" letter-spacing="0.2">hrs + 4.109 hrs]</tspan></text>
</g>
<text transform="translate(1339,483) rotate(-90)" font-size="46.5" text-anchor="middle">log10 count of clones</text>
</svg>
</body></html>
